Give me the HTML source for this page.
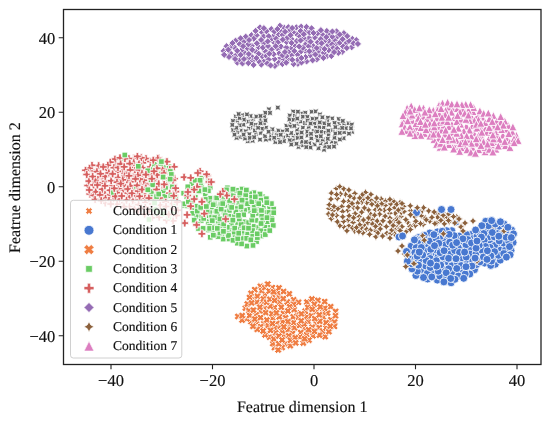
<!DOCTYPE html><html><head><meta charset="utf-8"><style>html,body{margin:0;padding:0;background:#fff}svg{display:block}text{font-family:"Liberation Serif", "Times New Roman", serif;fill:#111;stroke:#111;stroke-width:0.15px;text-rendering:geometricPrecision}</style></head><body>
<svg width="550" height="422" viewBox="0 0 550 422">
<rect width="550" height="422" fill="#fff"/>
<style>.b{fill:#4878D0}.o{fill:#EF7D42}.g{fill:#6ACC64}.r{fill:#D65F5F}.p{fill:#956CB4}.n{fill:#8C613C}.k{fill:#DC7EC0}.y{fill:#646464}.m path,.m circle{stroke:#fff;stroke-width:0.85px}</style>
<g class="m">
<path class="r" d="M144.7 154.7L147.3 154.7L147.3 157.3L149.9 157.3L149.9 159.9L147.3 159.9L147.3 162.5L144.7 162.5L144.7 159.9L142.1 159.9L142.1 157.3L144.7 157.3Z"/>
<path class="n" d="M371.3 196.4L372.7 199L375.3 200.4L372.7 201.8L371.3 204.4L369.9 201.8L367.3 200.4L369.9 199Z"/>
<path class="o" d="M266 304.7L268.1 306.8L266.5 308.4L268.1 310.1L266 312.1L264.4 310.5L262.8 312.1L260.7 310.1L262.3 308.4L260.7 306.8L262.8 304.7L264.4 306.4Z"/>
<circle class="b" cx="461.7" cy="243.2" r="4"/>
<path class="y" d="M314.6 108.9L313.7 111.8L314.6 114.6L311.7 113.8L308.9 114.6L309.7 111.8L308.9 108.9L311.7 109.8Z"/>
<path class="p" d="M232.9 52.3L236.5 55.9L232.9 59.5L229.3 55.9Z"/>
<path class="k" d="M482.1 112.9L486.1 120.9L478.1 120.9Z"/>
<path class="p" d="M328.1 41.5L331.7 45.1L328.1 48.7L324.5 45.1Z"/>
<path class="k" d="M439 101.1L443 109.1L435 109.1Z"/>
<path class="k" d="M477.6 111.3L481.6 119.3L473.6 119.3Z"/>
<circle class="b" cx="451.8" cy="230.7" r="4"/>
<path class="p" d="M274 38.7L277.6 42.3L274 45.9L270.4 42.3Z"/>
<path class="g" d="M265.3 224.4L271 224.4L271 230L265.3 230Z"/>
<path class="r" d="M100.5 174.6L103.1 174.6L103.1 177.2L105.7 177.2L105.7 179.8L103.1 179.8L103.1 182.4L100.5 182.4L100.5 179.8L97.9 179.8L97.9 177.2L100.5 177.2Z"/>
<path class="n" d="M386.9 229.2L388.3 231.8L390.9 233.2L388.3 234.6L386.9 237.2L385.5 234.6L382.9 233.2L385.5 231.8Z"/>
<path class="n" d="M348.8 221.9L350.2 224.5L352.8 225.9L350.2 227.3L348.8 229.9L347.4 227.3L344.8 225.9L347.4 224.5Z"/>
<path class="o" d="M317.9 320.2L320 322.3L318.4 323.9L320 325.5L317.9 327.6L316.3 326L314.7 327.6L312.6 325.5L314.2 323.9L312.6 322.3L314.7 320.2L316.3 321.8Z"/>
<path class="k" d="M438.8 123.3L442.8 131.3L434.8 131.3Z"/>
<path class="y" d="M251.7 125.6L250.9 128.4L251.7 131.3L248.9 130.4L246 131.3L246.9 128.4L246 125.6L248.9 126.4Z"/>
<path class="g" d="M198.8 182.4L204.5 182.4L204.5 188.1L198.8 188.1Z"/>
<path class="k" d="M452.5 103.9L456.5 111.9L448.5 111.9Z"/>
<path class="r" d="M171.8 216.9L174.4 216.9L174.4 219.5L177 219.5L177 222.1L174.4 222.1L174.4 224.7L171.8 224.7L171.8 222.1L169.2 222.1L169.2 219.5L171.8 219.5Z"/>
<path class="r" d="M164.9 157.9L167.5 157.9L167.5 160.5L170.1 160.5L170.1 163.1L167.5 163.1L167.5 165.7L164.9 165.7L164.9 163.1L162.3 163.1L162.3 160.5L164.9 160.5Z"/>
<path class="g" d="M240.7 232.2L246.4 232.2L246.4 237.8L240.7 237.8Z"/>
<path class="k" d="M478.5 115.6L482.5 123.6L474.5 123.6Z"/>
<path class="k" d="M493.4 111.6L497.4 119.6L489.4 119.6Z"/>
<path class="g" d="M255.2 210.6L260.8 210.6L260.8 216.2L255.2 216.2Z"/>
<path class="k" d="M479.9 106.8L483.9 114.8L475.9 114.8Z"/>
<path class="y" d="M286.3 134.6L285.5 137.5L286.3 140.3L283.5 139.5L280.7 140.3L281.5 137.5L280.7 134.6L283.5 135.5Z"/>
<path class="k" d="M497.2 131.7L501.2 139.7L493.2 139.7Z"/>
<path class="y" d="M304 110.7L303.2 113.5L304 116.4L301.2 115.5L298.3 116.4L299.2 113.5L298.3 110.7L301.2 111.5Z"/>
<path class="k" d="M483.7 109.3L487.7 117.3L479.7 117.3Z"/>
<path class="k" d="M438.6 134.3L442.6 142.3L434.6 142.3Z"/>
<path class="n" d="M375.4 205.8L376.8 208.4L379.4 209.8L376.8 211.2L375.4 213.8L374 211.2L371.4 209.8L374 208.4Z"/>
<path class="r" d="M141.6 158.9L144.2 158.9L144.2 161.5L146.8 161.5L146.8 164.1L144.2 164.1L144.2 166.7L141.6 166.7L141.6 164.1L139 164.1L139 161.5L141.6 161.5Z"/>
<path class="n" d="M407.7 218.4L409.1 221L411.7 222.4L409.1 223.8L407.7 226.4L406.3 223.8L403.7 222.4L406.3 221Z"/>
<path class="r" d="M121.9 185.8L124.5 185.8L124.5 188.4L127.1 188.4L127.1 191L124.5 191L124.5 193.6L121.9 193.6L121.9 191L119.3 191L119.3 188.4L121.9 188.4Z"/>
<path class="o" d="M255.3 295.2L257.4 297.3L255.8 298.9L257.4 300.6L255.3 302.6L253.7 301L252.1 302.6L250 300.6L251.6 298.9L250 297.3L252.1 295.2L253.7 296.9Z"/>
<path class="y" d="M335.6 127.2L334.8 130L335.6 132.9L332.8 132L330 132.9L330.8 130L330 127.2L332.8 128Z"/>
<path class="o" d="M305.9 324.8L308 326.9L306.4 328.5L308 330.1L305.9 332.2L304.3 330.6L302.7 332.2L300.6 330.1L302.2 328.5L300.6 326.9L302.7 324.8L304.3 326.4Z"/>
<path class="p" d="M313.2 47.4L316.8 51L313.2 54.6L309.6 51Z"/>
<path class="n" d="M400 198.6L401.4 201.2L404 202.6L401.4 204L400 206.6L398.6 204L396 202.6L398.6 201.2Z"/>
<path class="k" d="M466.4 121.9L470.4 129.9L462.4 129.9Z"/>
<circle class="b" cx="489.4" cy="241.4" r="4"/>
<path class="k" d="M417 128.2L421 136.2L413 136.2Z"/>
<path class="n" d="M366.9 198.7L368.4 201.3L370.9 202.7L368.4 204.1L366.9 206.7L365.5 204.1L362.9 202.7L365.5 201.3Z"/>
<path class="p" d="M263.7 39.8L267.3 43.4L263.7 47L260.1 43.4Z"/>
<path class="g" d="M266.8 204.9L272.4 204.9L272.4 210.6L266.8 210.6Z"/>
<circle class="b" cx="470.3" cy="259.5" r="4"/>
<path class="k" d="M437.5 106.1L441.5 114.1L433.5 114.1Z"/>
<path class="y" d="M286.8 138.2L285.9 141.1L286.8 143.9L283.9 143.1L281.1 143.9L281.9 141.1L281.1 138.2L283.9 139.1Z"/>
<path class="o" d="M286.1 340.1L288.2 342.2L286.6 343.8L288.2 345.4L286.1 347.5L284.5 345.9L282.9 347.5L280.8 345.4L282.4 343.8L280.8 342.2L282.9 340.1L284.5 341.7Z"/>
<path class="r" d="M134.3 191.8L136.9 191.8L136.9 194.4L139.5 194.4L139.5 197L136.9 197L136.9 199.6L134.3 199.6L134.3 197L131.7 197L131.7 194.4L134.3 194.4Z"/>
<path class="r" d="M147.6 175.1L150.2 175.1L150.2 177.7L152.8 177.7L152.8 180.3L150.2 180.3L150.2 182.9L147.6 182.9L147.6 180.3L145 180.3L145 177.7L147.6 177.7Z"/>
<circle class="b" cx="470.2" cy="248.9" r="4"/>
<circle class="b" cx="511" cy="250.6" r="4"/>
<path class="g" d="M224.7 228.8L230.4 228.8L230.4 234.5L224.7 234.5Z"/>
<path class="p" d="M265 47.3L268.6 50.9L265 54.5L261.4 50.9Z"/>
<path class="r" d="M149.3 157.6L151.9 157.6L151.9 160.2L154.5 160.2L154.5 162.8L151.9 162.8L151.9 165.4L149.3 165.4L149.3 162.8L146.7 162.8L146.7 160.2L149.3 160.2Z"/>
<circle class="b" cx="426.2" cy="239.2" r="4"/>
<path class="n" d="M348.4 197.4L349.8 200L352.4 201.4L349.8 202.8L348.4 205.4L347 202.8L344.4 201.4L347 200Z"/>
<path class="k" d="M441.5 126.3L445.5 134.3L437.5 134.3Z"/>
<path class="r" d="M164.8 193.5L167.4 193.5L167.4 196.1L170 196.1L170 198.7L167.4 198.7L167.4 201.3L164.8 201.3L164.8 198.7L162.2 198.7L162.2 196.1L164.8 196.1Z"/>
<path class="r" d="M161.2 185.1L163.8 185.1L163.8 187.7L166.4 187.7L166.4 190.3L163.8 190.3L163.8 192.9L161.2 192.9L161.2 190.3L158.6 190.3L158.6 187.7L161.2 187.7Z"/>
<path class="n" d="M442.7 208.8L444.1 211.4L446.7 212.8L444.1 214.2L442.7 216.8L441.3 214.2L438.7 212.8L441.3 211.4Z"/>
<circle class="b" cx="444.2" cy="261.8" r="4"/>
<path class="r" d="M149 163.1L151.6 163.1L151.6 165.7L154.2 165.7L154.2 168.3L151.6 168.3L151.6 170.9L149 170.9L149 168.3L146.4 168.3L146.4 165.7L149 165.7Z"/>
<path class="y" d="M266.9 121.2L266.1 124L266.9 126.9L264.1 126L261.2 126.9L262.1 124L261.2 121.2L264.1 122Z"/>
<path class="k" d="M516.4 131.2L520.4 139.2L512.4 139.2Z"/>
<path class="g" d="M168.3 202.5L173.9 202.5L173.9 208.1L168.3 208.1Z"/>
<path class="g" d="M234.7 220L240.4 220L240.4 225.7L234.7 225.7Z"/>
<path class="g" d="M162.7 169.6L168.4 169.6L168.4 175.3L162.7 175.3Z"/>
<path class="n" d="M402.6 206.9L404 209.5L406.6 210.9L404 212.3L402.6 214.9L401.2 212.3L398.6 210.9L401.2 209.5Z"/>
<path class="p" d="M297.6 51.1L301.2 54.7L297.6 58.3L294 54.7Z"/>
<path class="o" d="M266.6 291.3L268.7 293.4L267 295L268.7 296.6L266.6 298.7L265 297.1L263.3 298.7L261.3 296.6L262.9 295L261.3 293.4L263.3 291.3L265 292.9Z"/>
<path class="k" d="M471.9 113.2L475.9 121.2L467.9 121.2Z"/>
<path class="r" d="M136.8 206.5L139.4 206.5L139.4 209.1L142 209.1L142 211.7L139.4 211.7L139.4 214.3L136.8 214.3L136.8 211.7L134.2 211.7L134.2 209.1L136.8 209.1Z"/>
<path class="g" d="M167.6 183.5L173.2 183.5L173.2 189.1L167.6 189.1Z"/>
<path class="r" d="M128.2 202.7L130.8 202.7L130.8 205.3L133.4 205.3L133.4 207.9L130.8 207.9L130.8 210.5L128.2 210.5L128.2 207.9L125.6 207.9L125.6 205.3L128.2 205.3Z"/>
<path class="k" d="M472.4 121.6L476.4 129.6L468.4 129.6Z"/>
<path class="n" d="M371.9 200.3L373.4 202.8L375.9 204.3L373.4 205.7L371.9 208.3L370.5 205.7L367.9 204.3L370.5 202.8Z"/>
<path class="g" d="M251 189.9L256.7 189.9L256.7 195.5L251 195.5Z"/>
<path class="o" d="M324.8 313.3L326.9 315.4L325.3 317L326.9 318.6L324.8 320.7L323.2 319.1L321.6 320.7L319.5 318.6L321.1 317L319.5 315.4L321.6 313.3L323.2 314.9Z"/>
<circle class="b" cx="499.4" cy="245.6" r="4"/>
<path class="k" d="M417.1 123.3L421.1 131.3L413.1 131.3Z"/>
<circle class="b" cx="462.7" cy="248.4" r="4"/>
<path class="o" d="M278.4 319.7L280.5 321.8L278.9 323.4L280.5 325.1L278.4 327.1L276.8 325.5L275.2 327.1L273.1 325.1L274.7 323.4L273.1 321.8L275.2 319.7L276.8 321.4Z"/>
<path class="n" d="M361.8 198.2L363.2 200.8L365.8 202.2L363.2 203.6L361.8 206.2L360.4 203.6L357.8 202.2L360.4 200.8Z"/>
<path class="o" d="M302.4 328.8L304.4 330.9L302.8 332.5L304.4 334.2L302.4 336.2L300.7 334.6L299.1 336.2L297 334.2L298.7 332.5L297 330.9L299.1 328.8L300.7 330.5Z"/>
<path class="g" d="M212.6 220.6L218.2 220.6L218.2 226.2L212.6 226.2Z"/>
<path class="p" d="M346 39.7L349.6 43.3L346 46.9L342.4 43.3Z"/>
<path class="p" d="M263.2 57.3L266.8 60.9L263.2 64.5L259.6 60.9Z"/>
<path class="o" d="M262.1 282.6L264.2 284.7L262.6 286.3L264.2 287.9L262.1 290L260.5 288.4L258.9 290L256.8 287.9L258.4 286.3L256.8 284.7L258.9 282.6L260.5 284.2Z"/>
<path class="g" d="M174.1 204.3L179.8 204.3L179.8 210L174.1 210Z"/>
<path class="g" d="M262.4 209.2L268.1 209.2L268.1 214.8L262.4 214.8Z"/>
<path class="r" d="M172 205.1L174.6 205.1L174.6 207.7L177.2 207.7L177.2 210.3L174.6 210.3L174.6 212.9L172 212.9L172 210.3L169.4 210.3L169.4 207.7L172 207.7Z"/>
<circle class="b" cx="412.9" cy="258.1" r="4"/>
<path class="n" d="M353.7 203.5L355.1 206.1L357.7 207.5L355.1 208.9L353.7 211.5L352.3 208.9L349.7 207.5L352.3 206.1Z"/>
<path class="y" d="M317.3 120.6L316.5 123.4L317.3 126.2L314.5 125.4L311.7 126.2L312.5 123.4L311.7 120.6L314.5 121.4Z"/>
<path class="n" d="M394.1 217.1L395.6 219.6L398.1 221.1L395.6 222.5L394.1 225.1L392.7 222.5L390.1 221.1L392.7 219.6Z"/>
<path class="k" d="M506.6 125.1L510.6 133.1L502.6 133.1Z"/>
<path class="o" d="M291.6 322L293.7 324L292.1 325.7L293.7 327.3L291.6 329.4L290 327.7L288.4 329.4L286.3 327.3L287.9 325.7L286.3 324L288.4 322L290 323.6Z"/>
<path class="r" d="M161.6 160.8L164.2 160.8L164.2 163.4L166.8 163.4L166.8 166L164.2 166L164.2 168.6L161.6 168.6L161.6 166L159 166L159 163.4L161.6 163.4Z"/>
<path class="r" d="M111.6 196.5L114.2 196.5L114.2 199.1L116.8 199.1L116.8 201.7L114.2 201.7L114.2 204.3L111.6 204.3L111.6 201.7L109 201.7L109 199.1L111.6 199.1Z"/>
<path class="g" d="M259.8 194L265.5 194L265.5 199.7L259.8 199.7Z"/>
<path class="p" d="M230.3 49.5L233.9 53.1L230.3 56.7L226.7 53.1Z"/>
<path class="p" d="M262.1 28.7L265.7 32.3L262.1 35.9L258.5 32.3Z"/>
<path class="o" d="M276.1 343.9L278.2 345.9L276.6 347.6L278.2 349.2L276.1 351.3L274.5 349.6L272.9 351.3L270.8 349.2L272.4 347.6L270.8 345.9L272.9 343.9L274.5 345.5Z"/>
<path class="r" d="M133.3 200L135.9 200L135.9 202.6L138.5 202.6L138.5 205.2L135.9 205.2L135.9 207.8L133.3 207.8L133.3 205.2L130.7 205.2L130.7 202.6L133.3 202.6Z"/>
<path class="g" d="M270.8 206.2L276.5 206.2L276.5 211.8L270.8 211.8Z"/>
<path class="g" d="M193.5 213.7L199.2 213.7L199.2 219.3L193.5 219.3Z"/>
<circle class="b" cx="500.3" cy="250.2" r="4"/>
<path class="k" d="M423.5 104L427.5 112L419.5 112Z"/>
<path class="p" d="M280.8 27.5L284.4 31.1L280.8 34.7L277.2 31.1Z"/>
<path class="g" d="M172.9 194.1L178.6 194.1L178.6 199.8L172.9 199.8Z"/>
<path class="r" d="M132.5 170.9L135.1 170.9L135.1 173.5L137.7 173.5L137.7 176.1L135.1 176.1L135.1 178.7L132.5 178.7L132.5 176.1L129.9 176.1L129.9 173.5L132.5 173.5Z"/>
<path class="p" d="M305.9 27.2L309.5 30.8L305.9 34.4L302.3 30.8Z"/>
<path class="p" d="M305.5 47.6L309.1 51.2L305.5 54.8L301.9 51.2Z"/>
<path class="n" d="M346.9 226.8L348.3 229.4L350.9 230.8L348.3 232.2L346.9 234.8L345.5 232.2L342.9 230.8L345.5 229.4Z"/>
<circle class="b" cx="420.4" cy="274.3" r="4"/>
<path class="y" d="M243.5 127.8L242.7 130.6L243.5 133.5L240.7 132.6L237.9 133.5L238.7 130.6L237.9 127.8L240.7 128.6Z"/>
<circle class="b" cx="410.9" cy="251.1" r="4"/>
<circle class="b" cx="469.9" cy="254.2" r="4"/>
<path class="r" d="M140 179.5L142.6 179.5L142.6 182.1L145.2 182.1L145.2 184.7L142.6 184.7L142.6 187.3L140 187.3L140 184.7L137.4 184.7L137.4 182.1L140 182.1Z"/>
<path class="n" d="M400.8 212.6L402.2 215.2L404.8 216.6L402.2 218L400.8 220.6L399.4 218L396.8 216.6L399.4 215.2Z"/>
<path class="r" d="M147.4 207.3L150 207.3L150 209.9L152.6 209.9L152.6 212.5L150 212.5L150 215.1L147.4 215.1L147.4 212.5L144.8 212.5L144.8 209.9L147.4 209.9Z"/>
<path class="y" d="M255.6 124.6L254.8 127.5L255.6 130.3L252.8 129.5L249.9 130.3L250.8 127.5L249.9 124.6L252.8 125.5Z"/>
<path class="p" d="M258.5 43.5L262.1 47.1L258.5 50.7L254.9 47.1Z"/>
<path class="r" d="M156.3 172.9L158.9 172.9L158.9 175.5L161.5 175.5L161.5 178.1L158.9 178.1L158.9 180.7L156.3 180.7L156.3 178.1L153.7 178.1L153.7 175.5L156.3 175.5Z"/>
<circle class="b" cx="448.5" cy="262.9" r="4"/>
<path class="p" d="M279.7 54.9L283.3 58.5L279.7 62.1L276.1 58.5Z"/>
<path class="r" d="M157.2 153.9L159.8 153.9L159.8 156.5L162.4 156.5L162.4 159.1L159.8 159.1L159.8 161.7L157.2 161.7L157.2 159.1L154.6 159.1L154.6 156.5L157.2 156.5Z"/>
<path class="n" d="M380.1 221L381.5 223.6L384.1 225L381.5 226.4L380.1 229L378.6 226.4L376.1 225L378.6 223.6Z"/>
<path class="g" d="M226.6 213.4L232.3 213.4L232.3 219L226.6 219Z"/>
<path class="g" d="M246.9 190.9L252.5 190.9L252.5 196.6L246.9 196.6Z"/>
<path class="r" d="M174.5 187.7L177.1 187.7L177.1 190.3L179.7 190.3L179.7 192.9L177.1 192.9L177.1 195.5L174.5 195.5L174.5 192.9L171.9 192.9L171.9 190.3L174.5 190.3Z"/>
<circle class="b" cx="489.2" cy="236.8" r="4"/>
<path class="p" d="M255.7 47.9L259.3 51.5L255.7 55.1L252.1 51.5Z"/>
<path class="g" d="M236.3 195.1L241.9 195.1L241.9 200.8L236.3 200.8Z"/>
<path class="p" d="M278.4 45.9L282 49.5L278.4 53.1L274.8 49.5Z"/>
<path class="p" d="M283.9 56L287.5 59.6L283.9 63.2L280.3 59.6Z"/>
<path class="y" d="M342.1 121.1L341.3 123.9L342.1 126.7L339.3 125.9L336.4 126.7L337.3 123.9L336.4 121.1L339.3 121.9Z"/>
<path class="p" d="M288.3 55.8L291.9 59.4L288.3 63L284.7 59.4Z"/>
<circle class="b" cx="505.6" cy="249.5" r="4"/>
<path class="p" d="M235.6 37.1L239.2 40.7L235.6 44.3L232 40.7Z"/>
<path class="r" d="M157.2 186.2L159.8 186.2L159.8 188.8L162.4 188.8L162.4 191.4L159.8 191.4L159.8 194L157.2 194L157.2 191.4L154.6 191.4L154.6 188.8L157.2 188.8Z"/>
<path class="g" d="M218.7 199.9L224.3 199.9L224.3 205.5L218.7 205.5Z"/>
<path class="o" d="M308.5 298.4L310.6 300.5L309 302.1L310.6 303.7L308.5 305.8L306.9 304.2L305.3 305.8L303.2 303.7L304.8 302.1L303.2 300.5L305.3 298.4L306.9 300Z"/>
<path class="y" d="M271.8 106.5L270.9 109.3L271.8 112.2L268.9 111.3L266.1 112.2L266.9 109.3L266.1 106.5L268.9 107.3Z"/>
<path class="y" d="M293.4 120.1L292.5 123L293.4 125.8L290.5 125L287.7 125.8L288.5 123L287.7 120.1L290.5 121Z"/>
<path class="k" d="M512.5 128.2L516.5 136.2L508.5 136.2Z"/>
<path class="g" d="M242.7 196.1L248.4 196.1L248.4 201.7L242.7 201.7Z"/>
<circle class="b" cx="418.6" cy="237.6" r="4"/>
<path class="y" d="M258.9 131.2L258.1 134L258.9 136.9L256.1 136L253.3 136.9L254.1 134L253.3 131.2L256.1 132Z"/>
<path class="p" d="M271.7 35.1L275.3 38.7L271.7 42.3L268.1 38.7Z"/>
<path class="r" d="M132.7 183.9L135.3 183.9L135.3 186.5L137.9 186.5L137.9 189.1L135.3 189.1L135.3 191.7L132.7 191.7L132.7 189.1L130.1 189.1L130.1 186.5L132.7 186.5Z"/>
<circle class="b" cx="433.2" cy="255.2" r="4"/>
<path class="o" d="M332.5 316L334.6 318.1L332.9 319.7L334.6 321.3L332.5 323.4L330.9 321.8L329.2 323.4L327.2 321.3L328.8 319.7L327.2 318.1L329.2 316L330.9 317.6Z"/>
<path class="g" d="M210.5 211.3L216.2 211.3L216.2 217L210.5 217Z"/>
<path class="g" d="M242 219L247.7 219L247.7 224.7L242 224.7Z"/>
<path class="o" d="M265.3 319.8L267.4 321.9L265.8 323.5L267.4 325.1L265.3 327.2L263.7 325.6L262.1 327.2L260 325.1L261.6 323.5L260 321.9L262.1 319.8L263.7 321.4Z"/>
<path class="n" d="M359.1 212.7L360.6 215.3L363.1 216.7L360.6 218.1L359.1 220.7L357.7 218.1L355.1 216.7L357.7 215.3Z"/>
<path class="y" d="M296.3 133L295.4 135.9L296.3 138.7L293.4 137.9L290.6 138.7L291.4 135.9L290.6 133L293.4 133.9Z"/>
<path class="p" d="M314.7 33.8L318.3 37.4L314.7 41L311.1 37.4Z"/>
<path class="r" d="M120.8 167.2L123.4 167.2L123.4 169.8L126 169.8L126 172.4L123.4 172.4L123.4 175L120.8 175L120.8 172.4L118.2 172.4L118.2 169.8L120.8 169.8Z"/>
<path class="p" d="M296.8 30.6L300.4 34.2L296.8 37.8L293.2 34.2Z"/>
<path class="g" d="M202.7 188.6L208.3 188.6L208.3 194.2L202.7 194.2Z"/>
<path class="p" d="M260 23.8L263.6 27.4L260 31L256.4 27.4Z"/>
<path class="o" d="M276 303.9L278.1 306L276.5 307.6L278.1 309.3L276 311.3L274.4 309.7L272.8 311.3L270.7 309.3L272.3 307.6L270.7 306L272.8 303.9L274.4 305.6Z"/>
<circle class="b" cx="494.4" cy="236.9" r="4"/>
<path class="g" d="M189.2 205.3L194.9 205.3L194.9 210.9L189.2 210.9Z"/>
<path class="g" d="M234.5 240.4L240.2 240.4L240.2 246L234.5 246Z"/>
<path class="g" d="M232.1 232.8L237.8 232.8L237.8 238.5L232.1 238.5Z"/>
<path class="y" d="M250.6 138.4L249.8 141.2L250.6 144L247.8 143.2L244.9 144L245.8 141.2L244.9 138.4L247.8 139.2Z"/>
<path class="g" d="M154.5 182.8L160.1 182.8L160.1 188.5L154.5 188.5Z"/>
<path class="r" d="M156.3 159.2L158.9 159.2L158.9 161.8L161.5 161.8L161.5 164.4L158.9 164.4L158.9 167L156.3 167L156.3 164.4L153.7 164.4L153.7 161.8L156.3 161.8Z"/>
<path class="o" d="M263.3 287L265.4 289.1L263.8 290.7L265.4 292.3L263.3 294.4L261.7 292.8L260.1 294.4L258 292.3L259.6 290.7L258 289.1L260.1 287L261.7 288.6Z"/>
<path class="n" d="M421.7 212L423.1 214.6L425.7 216L423.1 217.4L421.7 220L420.3 217.4L417.7 216L420.3 214.6Z"/>
<path class="k" d="M508.4 121.5L512.4 129.5L504.4 129.5Z"/>
<path class="o" d="M296.1 324.2L298.2 326.3L296.6 327.9L298.2 329.5L296.1 331.6L294.5 330L292.9 331.6L290.8 329.5L292.4 327.9L290.8 326.3L292.9 324.2L294.5 325.8Z"/>
<path class="o" d="M295.2 318.6L297.3 320.7L295.7 322.3L297.3 324L295.2 326L293.6 324.4L292 326L289.9 324L291.5 322.3L289.9 320.7L292 318.6L293.6 320.3Z"/>
<path class="p" d="M252.5 57.4L256.1 61L252.5 64.6L248.9 61Z"/>
<path class="y" d="M347 129.2L346.1 132.1L347 134.9L344.1 134.1L341.3 134.9L342.1 132.1L341.3 129.2L344.1 130.1Z"/>
<path class="n" d="M443.4 213.9L444.8 216.5L447.4 217.9L444.8 219.3L443.4 221.9L442 219.3L439.4 217.9L442 216.5Z"/>
<path class="p" d="M261.3 61L264.9 64.6L261.3 68.2L257.7 64.6Z"/>
<path class="k" d="M512.9 122.8L516.9 130.8L508.9 130.8Z"/>
<path class="k" d="M473 107.5L477 115.5L469 115.5Z"/>
<path class="g" d="M211.4 200.4L217.1 200.4L217.1 206L211.4 206Z"/>
<path class="n" d="M347.8 206.4L349.2 209L351.8 210.4L349.2 211.8L347.8 214.4L346.3 211.8L343.8 210.4L346.3 209Z"/>
<path class="g" d="M231.6 213.6L237.3 213.6L237.3 219.2L231.6 219.2Z"/>
<path class="r" d="M157.2 189.6L159.8 189.6L159.8 192.2L162.4 192.2L162.4 194.8L159.8 194.8L159.8 197.4L157.2 197.4L157.2 194.8L154.6 194.8L154.6 192.2L157.2 192.2Z"/>
<path class="p" d="M279.1 49.9L282.7 53.5L279.1 57.1L275.5 53.5Z"/>
<path class="g" d="M228.5 221.2L234.2 221.2L234.2 226.9L228.5 226.9Z"/>
<path class="p" d="M284.2 24.1L287.8 27.7L284.2 31.3L280.6 27.7Z"/>
<path class="o" d="M289.3 326.1L291.4 328.2L289.8 329.8L291.4 331.4L289.3 333.5L287.7 331.9L286.1 333.5L284 331.4L285.6 329.8L284 328.2L286.1 326.1L287.7 327.7Z"/>
<path class="p" d="M243.9 38.2L247.5 41.8L243.9 45.4L240.3 41.8Z"/>
<circle class="b" cx="441.9" cy="247.1" r="4"/>
<path class="k" d="M451.9 120.2L455.9 128.2L447.9 128.2Z"/>
<path class="g" d="M258.4 233.1L264 233.1L264 238.8L258.4 238.8Z"/>
<path class="n" d="M414.1 220.9L415.5 223.5L418.1 224.9L415.5 226.3L414.1 228.9L412.7 226.3L410.1 224.9L412.7 223.5Z"/>
<path class="y" d="M239.9 129.2L239.1 132L239.9 134.9L237.1 134L234.2 134.9L235.1 132L234.2 129.2L237.1 130Z"/>
<path class="g" d="M164.2 164.4L169.9 164.4L169.9 170.1L164.2 170.1Z"/>
<path class="k" d="M482.2 133.5L486.2 141.5L478.2 141.5Z"/>
<path class="g" d="M244.7 231.2L250.4 231.2L250.4 236.9L244.7 236.9Z"/>
<path class="k" d="M468.6 135.4L472.6 143.4L464.6 143.4Z"/>
<path class="o" d="M274.2 314.4L276.3 316.5L274.7 318.1L276.3 319.7L274.2 321.8L272.6 320.2L271 321.8L268.9 319.7L270.5 318.1L268.9 316.5L271 314.4L272.6 316Z"/>
<path class="p" d="M236.6 51.1L240.2 54.7L236.6 58.3L233 54.7Z"/>
<path class="g" d="M218.7 231L224.3 231L224.3 236.6L218.7 236.6Z"/>
<circle class="b" cx="415.9" cy="275.5" r="4"/>
<path class="o" d="M336.2 318.3L338.3 320.4L336.6 322L338.3 323.6L336.2 325.7L334.6 324.1L332.9 325.7L330.9 323.6L332.5 322L330.9 320.4L332.9 318.3L334.6 319.9Z"/>
<path class="g" d="M249.9 232.6L255.5 232.6L255.5 238.2L249.9 238.2Z"/>
<path class="k" d="M464.8 141.8L468.8 149.8L460.8 149.8Z"/>
<circle class="b" cx="474.5" cy="269.7" r="4"/>
<path class="k" d="M443.9 120.9L447.9 128.9L439.9 128.9Z"/>
<path class="y" d="M296.1 108.8L295.2 111.6L296.1 114.4L293.2 113.6L290.4 114.4L291.2 111.6L290.4 108.8L293.2 109.6Z"/>
<path class="p" d="M252.1 53.5L255.7 57.1L252.1 60.7L248.5 57.1Z"/>
<path class="r" d="M156.7 206L159.3 206L159.3 208.6L161.9 208.6L161.9 211.2L159.3 211.2L159.3 213.8L156.7 213.8L156.7 211.2L154.1 211.2L154.1 208.6L156.7 208.6Z"/>
<path class="y" d="M335 115.6L334.1 118.4L335 121.2L332.1 120.4L329.3 121.2L330.1 118.4L329.3 115.6L332.1 116.4Z"/>
<path class="g" d="M213.4 203.7L219.1 203.7L219.1 209.3L213.4 209.3Z"/>
<path class="n" d="M348.8 202.4L350.2 205L352.8 206.4L350.2 207.8L348.8 210.4L347.4 207.8L344.8 206.4L347.4 205Z"/>
<path class="r" d="M141.6 189.9L144.2 189.9L144.2 192.5L146.8 192.5L146.8 195.1L144.2 195.1L144.2 197.7L141.6 197.7L141.6 195.1L139 195.1L139 192.5L141.6 192.5Z"/>
<path class="p" d="M306.6 37.5L310.2 41.1L306.6 44.7L303 41.1Z"/>
<path class="n" d="M385.5 197L386.9 199.6L389.5 201L386.9 202.4L385.5 205L384.1 202.4L381.5 201L384.1 199.6Z"/>
<path class="r" d="M103.8 190.1L106.4 190.1L106.4 192.7L109 192.7L109 195.3L106.4 195.3L106.4 197.9L103.8 197.9L103.8 195.3L101.2 195.3L101.2 192.7L103.8 192.7Z"/>
<path class="r" d="M100.6 179.2L103.2 179.2L103.2 181.8L105.8 181.8L105.8 184.4L103.2 184.4L103.2 187L100.6 187L100.6 184.4L98 184.4L98 181.8L100.6 181.8Z"/>
<circle class="b" cx="456" cy="222" r="4"/>
<path class="n" d="M476.6 258.4L478 261L480.6 262.4L478 263.8L476.6 266.4L475.2 263.8L472.6 262.4L475.2 261Z"/>
<path class="k" d="M454 113.6L458 121.6L450 121.6Z"/>
<path class="y" d="M296.4 137.5L295.5 140.4L296.4 143.2L293.5 142.4L290.7 143.2L291.5 140.4L290.7 137.5L293.5 138.4Z"/>
<path class="k" d="M502.9 131.1L506.9 139.1L498.9 139.1Z"/>
<circle class="b" cx="498.1" cy="231.2" r="4"/>
<path class="g" d="M261.5 227.1L267.2 227.1L267.2 232.8L261.5 232.8Z"/>
<path class="o" d="M256.4 286L258.4 288.1L256.8 289.7L258.4 291.3L256.4 293.4L254.7 291.8L253.1 293.4L251 291.3L252.7 289.7L251 288.1L253.1 286L254.7 287.6Z"/>
<circle class="b" cx="465.1" cy="261.1" r="4"/>
<path class="k" d="M501.2 139.1L505.2 147.1L497.2 147.1Z"/>
<path class="p" d="M262.2 52.6L265.8 56.2L262.2 59.8L258.6 56.2Z"/>
<path class="g" d="M152.4 213.5L158.1 213.5L158.1 219.2L152.4 219.2Z"/>
<path class="y" d="M243.2 134.1L242.3 136.9L243.2 139.7L240.3 138.9L237.5 139.7L238.3 136.9L237.5 134.1L240.3 134.9Z"/>
<path class="p" d="M329.3 37.7L332.9 41.3L329.3 44.9L325.7 41.3Z"/>
<path class="p" d="M297.9 60.2L301.5 63.8L297.9 67.4L294.3 63.8Z"/>
<path class="y" d="M297.6 112.9L296.8 115.7L297.6 118.5L294.8 117.7L292 118.5L292.8 115.7L292 112.9L294.8 113.7Z"/>
<path class="r" d="M129.6 177.8L132.2 177.8L132.2 180.4L134.8 180.4L134.8 183L132.2 183L132.2 185.6L129.6 185.6L129.6 183L127 183L127 180.4L129.6 180.4Z"/>
<path class="y" d="M326.8 146.9L326 149.7L326.8 152.5L324 151.7L321.2 152.5L322 149.7L321.2 146.9L324 147.7Z"/>
<path class="n" d="M364 220.8L365.4 223.4L368 224.8L365.4 226.3L364 228.8L362.6 226.3L360 224.8L362.6 223.4Z"/>
<path class="g" d="M205.5 177.8L211.1 177.8L211.1 183.5L205.5 183.5Z"/>
<path class="o" d="M280.5 323.9L282.6 326L281 327.6L282.6 329.2L280.5 331.3L278.9 329.7L277.3 331.3L275.2 329.2L276.8 327.6L275.2 326L277.3 323.9L278.9 325.5Z"/>
<path class="n" d="M395.7 225.7L397.1 228.3L399.7 229.7L397.1 231.1L395.7 233.7L394.3 231.1L391.7 229.7L394.3 228.3Z"/>
<path class="n" d="M372.2 215.7L373.6 218.3L376.2 219.7L373.6 221.1L372.2 223.7L370.8 221.1L368.2 219.7L370.8 218.3Z"/>
<circle class="b" cx="452.1" cy="273.6" r="4"/>
<path class="k" d="M431 114.6L435 122.6L427 122.6Z"/>
<path class="y" d="M256 116L255.1 118.9L256 121.7L253.1 120.9L250.3 121.7L251.1 118.9L250.3 116L253.1 116.9Z"/>
<path class="n" d="M329 204.6L330.4 207.2L333 208.6L330.4 210L329 212.6L327.6 210L325 208.6L327.6 207.2Z"/>
<path class="o" d="M258.2 320.1L260.3 322.2L258.6 323.8L260.3 325.4L258.2 327.5L256.6 325.9L254.9 327.5L252.9 325.4L254.5 323.8L252.9 322.2L254.9 320.1L256.6 321.7Z"/>
<path class="y" d="M289.3 122.9L288.4 125.8L289.3 128.6L286.4 127.8L283.6 128.6L284.4 125.8L283.6 122.9L286.4 123.8Z"/>
<path class="n" d="M423.2 220.4L424.6 223L427.2 224.4L424.6 225.8L423.2 228.4L421.8 225.8L419.2 224.4L421.8 223Z"/>
<path class="n" d="M361.8 224.3L363.2 226.9L365.8 228.3L363.2 229.7L361.8 232.3L360.4 229.7L357.8 228.3L360.4 226.9Z"/>
<circle class="b" cx="425.6" cy="246.5" r="4"/>
<path class="o" d="M309.9 317.9L311.9 320L310.3 321.6L311.9 323.3L309.9 325.3L308.2 323.7L306.6 325.3L304.5 323.3L306.2 321.6L304.5 320L306.6 317.9L308.2 319.6Z"/>
<path class="g" d="M208.3 208.1L214 208.1L214 213.7L208.3 213.7Z"/>
<path class="y" d="M246.3 121.8L245.5 124.7L246.3 127.5L243.5 126.7L240.6 127.5L241.5 124.7L240.6 121.8L243.5 122.7Z"/>
<path class="p" d="M244.6 49.3L248.2 52.9L244.6 56.5L241 52.9Z"/>
<path class="n" d="M359.5 216.6L360.9 219.2L363.5 220.6L360.9 222L359.5 224.6L358.1 222L355.5 220.6L358.1 219.2Z"/>
<path class="o" d="M308.3 330.9L310.4 333L308.8 334.6L310.4 336.2L308.3 338.3L306.7 336.7L305.1 338.3L303 336.2L304.6 334.6L303 333L305.1 330.9L306.7 332.5Z"/>
<path class="k" d="M493.5 122.1L497.5 130.1L489.5 130.1Z"/>
<path class="k" d="M413.3 125.9L417.3 133.9L409.3 133.9Z"/>
<path class="y" d="M351.2 120.5L350.4 123.3L351.2 126.1L348.4 125.3L345.6 126.1L346.4 123.3L345.6 120.5L348.4 121.3Z"/>
<path class="y" d="M323.7 140.8L322.9 143.6L323.7 146.4L320.9 145.6L318 146.4L318.9 143.6L318 140.8L320.9 141.6Z"/>
<path class="g" d="M166.2 164L171.8 164L171.8 169.6L166.2 169.6Z"/>
<path class="g" d="M224.2 217L229.9 217L229.9 222.7L224.2 222.7Z"/>
<path class="k" d="M473.7 103.4L477.7 111.4L469.7 111.4Z"/>
<path class="g" d="M215 211.9L220.6 211.9L220.6 217.6L215 217.6Z"/>
<path class="n" d="M442.3 246.6L443.7 249.2L446.3 250.6L443.7 252L442.3 254.6L440.9 252L438.3 250.6L440.9 249.2Z"/>
<path class="p" d="M274.2 31.8L277.8 35.4L274.2 39L270.6 35.4Z"/>
<path class="n" d="M441.2 231.8L442.6 234.4L445.2 235.8L442.6 237.2L441.2 239.8L439.8 237.2L437.2 235.8L439.8 234.4Z"/>
<path class="o" d="M285.2 332.1L287.3 334.2L285.7 335.8L287.3 337.4L285.2 339.5L283.6 337.9L282 339.5L279.9 337.4L281.5 335.8L279.9 334.2L282 332.1L283.6 333.7Z"/>
<path class="k" d="M442.5 99L446.5 107L438.5 107Z"/>
<path class="p" d="M306.6 57.8L310.2 61.4L306.6 65L303 61.4Z"/>
<path class="r" d="M97.3 161.7L99.9 161.7L99.9 164.3L102.5 164.3L102.5 166.9L99.9 166.9L99.9 169.5L97.3 169.5L97.3 166.9L94.7 166.9L94.7 164.3L97.3 164.3Z"/>
<path class="p" d="M336.6 33.7L340.2 37.3L336.6 40.9L333 37.3Z"/>
<path class="y" d="M239.4 135L238.6 137.8L239.4 140.7L236.6 139.8L233.7 140.7L234.6 137.8L233.7 135L236.6 135.8Z"/>
<path class="g" d="M207.4 234.5L213 234.5L213 240.1L207.4 240.1Z"/>
<path class="o" d="M308.4 312.8L310.5 314.9L308.9 316.5L310.5 318.1L308.4 320.2L306.8 318.6L305.2 320.2L303.1 318.1L304.7 316.5L303.1 314.9L305.2 312.8L306.8 314.4Z"/>
<path class="k" d="M496.3 137.8L500.3 145.8L492.3 145.8Z"/>
<path class="g" d="M254.5 224.6L260.2 224.6L260.2 230.2L254.5 230.2Z"/>
<path class="p" d="M229 53.3L232.6 56.9L229 60.5L225.4 56.9Z"/>
<path class="k" d="M457.2 142.2L461.2 150.2L453.2 150.2Z"/>
<path class="g" d="M180.8 190.4L186.4 190.4L186.4 196L180.8 196Z"/>
<path class="k" d="M473.9 128.8L477.9 136.8L469.9 136.8Z"/>
<path class="o" d="M336.1 322.7L338.2 324.7L336.6 326.4L338.2 328L336.1 330.1L334.5 328.4L332.9 330.1L330.8 328L332.4 326.4L330.8 324.7L332.9 322.7L334.5 324.3Z"/>
<path class="g" d="M197.9 188.6L203.5 188.6L203.5 194.2L197.9 194.2Z"/>
<path class="r" d="M123.1 181L125.7 181L125.7 183.6L128.3 183.6L128.3 186.2L125.7 186.2L125.7 188.8L123.1 188.8L123.1 186.2L120.5 186.2L120.5 183.6L123.1 183.6Z"/>
<path class="r" d="M91.5 166.7L94.1 166.7L94.1 169.3L96.7 169.3L96.7 171.9L94.1 171.9L94.1 174.5L91.5 174.5L91.5 171.9L88.9 171.9L88.9 169.3L91.5 169.3Z"/>
<path class="p" d="M291.5 51.7L295.1 55.3L291.5 58.9L287.9 55.3Z"/>
<path class="g" d="M244 243.2L249.7 243.2L249.7 248.9L244 248.9Z"/>
<path class="y" d="M318.7 124.8L317.8 127.6L318.7 130.5L315.8 129.6L313 130.5L313.8 127.6L313 124.8L315.8 125.6Z"/>
<path class="n" d="M459.3 214.5L460.7 217.1L463.3 218.5L460.7 219.9L459.3 222.5L457.9 219.9L455.3 218.5L457.9 217.1Z"/>
<path class="n" d="M393.7 197.3L395.1 199.9L397.7 201.3L395.1 202.7L393.7 205.3L392.3 202.7L389.7 201.3L392.3 199.9Z"/>
<circle class="b" cx="446.6" cy="230.7" r="4"/>
<path class="g" d="M158.4 198.1L164 198.1L164 203.7L158.4 203.7Z"/>
<path class="y" d="M301.5 144.1L300.6 146.9L301.5 149.7L298.6 148.9L295.8 149.7L296.6 146.9L295.8 144.1L298.6 144.9Z"/>
<path class="p" d="M274.5 55.5L278.1 59.1L274.5 62.7L270.9 59.1Z"/>
<path class="g" d="M233.1 201.6L238.8 201.6L238.8 207.3L233.1 207.3Z"/>
<path class="y" d="M258.3 122.1L257.5 124.9L258.3 127.8L255.5 126.9L252.6 127.8L253.5 124.9L252.6 122.1L255.5 122.9Z"/>
<path class="p" d="M262.8 44L266.4 47.6L262.8 51.2L259.2 47.6Z"/>
<path class="o" d="M285 309.7L287.1 311.8L285.5 313.4L287.1 315L285 317.1L283.4 315.5L281.8 317.1L279.7 315L281.3 313.4L279.7 311.8L281.8 309.7L283.4 311.3Z"/>
<path class="r" d="M154.5 210.8L157.1 210.8L157.1 213.4L159.7 213.4L159.7 216L157.1 216L157.1 218.6L154.5 218.6L154.5 216L151.9 216L151.9 213.4L154.5 213.4Z"/>
<path class="o" d="M271.8 302.5L273.9 304.6L272.3 306.2L273.9 307.8L271.8 309.9L270.2 308.3L268.6 309.9L266.5 307.8L268.1 306.2L266.5 304.6L268.6 302.5L270.2 304.1Z"/>
<path class="k" d="M499.5 135.4L503.5 143.4L495.5 143.4Z"/>
<path class="r" d="M132.6 154.3L135.2 154.3L135.2 156.9L137.8 156.9L137.8 159.5L135.2 159.5L135.2 162.1L132.6 162.1L132.6 159.5L130 159.5L130 156.9L132.6 156.9Z"/>
<path class="k" d="M412.3 116.4L416.3 124.4L408.3 124.4Z"/>
<path class="k" d="M485.1 147.7L489.1 155.7L481.1 155.7Z"/>
<path class="k" d="M448.4 102.9L452.4 110.9L444.4 110.9Z"/>
<path class="y" d="M300.4 131.4L299.6 134.2L300.4 137.1L297.6 136.2L294.7 137.1L295.6 134.2L294.7 131.4L297.6 132.2Z"/>
<path class="y" d="M346.9 121.8L346.1 124.6L346.9 127.4L344.1 126.6L341.2 127.4L342.1 124.6L341.2 121.8L344.1 122.6Z"/>
<path class="r" d="M165.2 216.3L167.8 216.3L167.8 218.9L170.4 218.9L170.4 221.5L167.8 221.5L167.8 224.1L165.2 224.1L165.2 221.5L162.6 221.5L162.6 218.9L165.2 218.9Z"/>
<path class="g" d="M223.5 195.9L229.1 195.9L229.1 201.6L223.5 201.6Z"/>
<circle class="b" cx="427.6" cy="279" r="4"/>
<path class="o" d="M314.6 332L316.7 334.1L315.1 335.7L316.7 337.4L314.6 339.4L313 337.8L311.4 339.4L309.3 337.4L310.9 335.7L309.3 334.1L311.4 332L313 333.7Z"/>
<path class="g" d="M266.2 209.6L271.8 209.6L271.8 215.2L266.2 215.2Z"/>
<path class="g" d="M213 195.5L218.7 195.5L218.7 201.2L213 201.2Z"/>
<path class="y" d="M305.9 142.3L305.1 145.2L305.9 148L303.1 147.2L300.2 148L301.1 145.2L300.2 142.3L303.1 143.2Z"/>
<path class="p" d="M223.6 47.3L227.2 50.9L223.6 54.5L220 50.9Z"/>
<circle class="b" cx="445.8" cy="237.5" r="4"/>
<circle class="b" cx="428.6" cy="254.4" r="4"/>
<path class="y" d="M300.2 120.9L299.3 123.7L300.2 126.5L297.3 125.7L294.5 126.5L295.3 123.7L294.5 120.9L297.3 121.7Z"/>
<path class="g" d="M226.6 207.6L232.2 207.6L232.2 213.2L226.6 213.2Z"/>
<path class="n" d="M328.5 210L329.9 212.6L332.5 214L329.9 215.4L328.5 218L327.1 215.4L324.5 214L327.1 212.6Z"/>
<path class="n" d="M439.9 208.7L441.3 211.3L443.9 212.7L441.3 214.1L439.9 216.7L438.5 214.1L435.9 212.7L438.5 211.3Z"/>
<path class="p" d="M329.1 30.7L332.7 34.3L329.1 37.9L325.5 34.3Z"/>
<path class="g" d="M192.5 194.4L198.1 194.4L198.1 200.1L192.5 200.1Z"/>
<path class="k" d="M424.6 129.3L428.6 137.3L420.6 137.3Z"/>
<path class="y" d="M328 143.3L327.2 146.1L328 149L325.2 148.1L322.4 149L323.2 146.1L322.4 143.3L325.2 144.1Z"/>
<path class="k" d="M461.2 143.6L465.2 151.6L457.2 151.6Z"/>
<path class="p" d="M234.3 43.7L237.9 47.3L234.3 50.9L230.7 47.3Z"/>
<path class="r" d="M131.1 162.6L133.7 162.6L133.7 165.2L136.3 165.2L136.3 167.8L133.7 167.8L133.7 170.4L131.1 170.4L131.1 167.8L128.5 167.8L128.5 165.2L131.1 165.2Z"/>
<path class="g" d="M156.9 170.9L162.6 170.9L162.6 176.5L156.9 176.5Z"/>
<circle class="b" cx="408.1" cy="256" r="4"/>
<path class="o" d="M287.2 314.1L289.3 316.2L287.7 317.8L289.3 319.4L287.2 321.5L285.6 319.9L284 321.5L281.9 319.4L283.5 317.8L281.9 316.2L284 314.1L285.6 315.7Z"/>
<path class="y" d="M316.3 128.2L315.5 131L316.3 133.9L313.5 133L310.6 133.9L311.5 131L310.6 128.2L313.5 129Z"/>
<path class="y" d="M263.6 130.1L262.8 132.9L263.6 135.7L260.8 134.9L258 135.7L258.8 132.9L258 130.1L260.8 130.9Z"/>
<path class="y" d="M268.8 124.9L268 127.7L268.8 130.5L266 129.7L263.2 130.5L264 127.7L263.2 124.9L266 125.7Z"/>
<path class="p" d="M258.7 50.2L262.3 53.8L258.7 57.4L255.1 53.8Z"/>
<path class="g" d="M219.7 233.7L225.3 233.7L225.3 239.4L219.7 239.4Z"/>
<path class="r" d="M105.5 165.6L108.1 165.6L108.1 168.2L110.7 168.2L110.7 170.8L108.1 170.8L108.1 173.4L105.5 173.4L105.5 170.8L102.9 170.8L102.9 168.2L105.5 168.2Z"/>
<path class="g" d="M202.6 192.1L208.2 192.1L208.2 197.7L202.6 197.7Z"/>
<path class="y" d="M312.2 140.4L311.3 143.2L312.2 146L309.3 145.2L306.5 146L307.3 143.2L306.5 140.4L309.3 141.2Z"/>
<circle class="b" cx="503.6" cy="243" r="4"/>
<circle class="b" cx="469.8" cy="274" r="4"/>
<path class="y" d="M272.3 136.1L271.5 138.9L272.3 141.7L269.5 140.9L266.7 141.7L267.5 138.9L266.7 136.1L269.5 136.9Z"/>
<path class="g" d="M147.1 198.5L152.8 198.5L152.8 204.1L147.1 204.1Z"/>
<path class="p" d="M263.6 32.9L267.2 36.5L263.6 40.1L260 36.5Z"/>
<path class="p" d="M251.4 31.6L255 35.2L251.4 38.8L247.8 35.2Z"/>
<path class="n" d="M370.7 210.3L372.1 212.9L374.7 214.3L372.1 215.7L370.7 218.3L369.3 215.7L366.7 214.3L369.3 212.9Z"/>
<path class="p" d="M224.2 51.2L227.8 54.8L224.2 58.4L220.6 54.8Z"/>
<path class="r" d="M116.4 167.5L119 167.5L119 170.1L121.6 170.1L121.6 172.7L119 172.7L119 175.3L116.4 175.3L116.4 172.7L113.8 172.7L113.8 170.1L116.4 170.1Z"/>
<path class="g" d="M160.5 189.2L166.1 189.2L166.1 194.8L160.5 194.8Z"/>
<path class="n" d="M363.5 194.5L365 197.1L367.5 198.5L365 199.9L363.5 202.5L362.1 199.9L359.5 198.5L362.1 197.1Z"/>
<circle class="b" cx="433.8" cy="272.6" r="4"/>
<path class="y" d="M329.1 139.7L328.2 142.6L329.1 145.4L326.2 144.6L323.4 145.4L324.2 142.6L323.4 139.7L326.2 140.6Z"/>
<path class="p" d="M293.6 60.5L297.2 64.1L293.6 67.7L290 64.1Z"/>
<path class="k" d="M493.1 142.2L497.1 150.2L489.1 150.2Z"/>
<path class="g" d="M207.3 184.5L213 184.5L213 190.1L207.3 190.1Z"/>
<path class="n" d="M376.4 197.9L377.8 200.5L380.4 201.9L377.8 203.3L376.4 205.9L375 203.3L372.4 201.9L375 200.5Z"/>
<path class="k" d="M434 135.4L438 143.4L430 143.4Z"/>
<path class="k" d="M506.3 133.7L510.3 141.7L502.3 141.7Z"/>
<path class="k" d="M481.3 123.9L485.3 131.9L477.3 131.9Z"/>
<path class="g" d="M205.4 219.8L211.1 219.8L211.1 225.4L205.4 225.4Z"/>
<path class="n" d="M394.6 229.9L396 232.5L398.6 233.9L396 235.4L394.6 237.9L393.2 235.4L390.6 233.9L393.2 232.5Z"/>
<path class="o" d="M276.1 324.2L278.2 326.3L276.6 327.9L278.2 329.5L276.1 331.6L274.5 330L272.9 331.6L270.8 329.5L272.4 327.9L270.8 326.3L272.9 324.2L274.5 325.8Z"/>
<path class="k" d="M444.8 139L448.8 147L440.8 147Z"/>
<path class="r" d="M152.4 182L155 182L155 184.6L157.6 184.6L157.6 187.2L155 187.2L155 189.8L152.4 189.8L152.4 187.2L149.8 187.2L149.8 184.6L152.4 184.6Z"/>
<path class="r" d="M150.7 189.6L153.3 189.6L153.3 192.2L155.9 192.2L155.9 194.8L153.3 194.8L153.3 197.4L150.7 197.4L150.7 194.8L148.1 194.8L148.1 192.2L150.7 192.2Z"/>
<path class="n" d="M331.3 214.7L332.8 217.3L335.3 218.7L332.8 220.1L331.3 222.7L329.9 220.1L327.3 218.7L329.9 217.3Z"/>
<path class="n" d="M429.8 217.1L431.3 219.7L433.8 221.1L431.3 222.5L429.8 225.1L428.4 222.5L425.8 221.1L428.4 219.7Z"/>
<path class="n" d="M341.9 202.5L343.3 205.1L345.9 206.5L343.3 208L341.9 210.5L340.5 208L337.9 206.5L340.5 205.1Z"/>
<path class="y" d="M322.5 124.5L321.6 127.3L322.5 130.1L319.6 129.3L316.8 130.1L317.6 127.3L316.8 124.5L319.6 125.3Z"/>
<path class="k" d="M440.1 143.2L444.1 151.2L436.1 151.2Z"/>
<path class="r" d="M121.5 198.9L124.1 198.9L124.1 201.5L126.7 201.5L126.7 204.1L124.1 204.1L124.1 206.7L121.5 206.7L121.5 204.1L118.9 204.1L118.9 201.5L121.5 201.5Z"/>
<path class="o" d="M320.8 324L322.9 326.1L321.3 327.7L322.9 329.3L320.8 331.4L319.2 329.8L317.6 331.4L315.5 329.3L317.1 327.7L315.5 326.1L317.6 324L319.2 325.6Z"/>
<path class="r" d="M131.4 196.5L134 196.5L134 199.1L136.6 199.1L136.6 201.7L134 201.7L134 204.3L131.4 204.3L131.4 201.7L128.8 201.7L128.8 199.1L131.4 199.1Z"/>
<path class="g" d="M260.4 204L266 204L266 209.7L260.4 209.7Z"/>
<path class="g" d="M154.2 213.2L159.8 213.2L159.8 218.8L154.2 218.8Z"/>
<path class="g" d="M239.1 235.7L244.8 235.7L244.8 241.4L239.1 241.4Z"/>
<path class="k" d="M485.4 124.5L489.4 132.5L481.4 132.5Z"/>
<path class="p" d="M301.1 47.7L304.7 51.3L301.1 54.9L297.5 51.3Z"/>
<path class="p" d="M289 47.6L292.6 51.2L289 54.8L285.4 51.2Z"/>
<path class="y" d="M334.7 138.9L333.9 141.7L334.7 144.6L331.9 143.7L329.1 144.6L329.9 141.7L329.1 138.9L331.9 139.7Z"/>
<path class="k" d="M423.2 112.1L427.2 120.1L419.2 120.1Z"/>
<path class="o" d="M275 292.5L277.1 294.5L275.5 296.2L277.1 297.8L275 299.9L273.4 298.2L271.8 299.9L269.7 297.8L271.3 296.2L269.7 294.5L271.8 292.5L273.4 294.1Z"/>
<path class="y" d="M276.8 130L276 132.8L276.8 135.6L274 134.8L271.2 135.6L272 132.8L271.2 130L274 130.8Z"/>
<path class="y" d="M238.6 113.7L237.8 116.6L238.6 119.4L235.8 118.6L233 119.4L233.8 116.6L233 113.7L235.8 114.6Z"/>
<path class="p" d="M334.7 37L338.3 40.6L334.7 44.2L331.1 40.6Z"/>
<path class="g" d="M227.7 189.7L233.3 189.7L233.3 195.4L227.7 195.4Z"/>
<path class="r" d="M108.4 190.8L111 190.8L111 193.4L113.6 193.4L113.6 196L111 196L111 198.6L108.4 198.6L108.4 196L105.8 196L105.8 193.4L108.4 193.4Z"/>
<path class="g" d="M220.4 236.3L226 236.3L226 241.9L220.4 241.9Z"/>
<path class="p" d="M268.1 42.5L271.7 46.1L268.1 49.7L264.5 46.1Z"/>
<path class="p" d="M324.8 37.1L328.4 40.7L324.8 44.3L321.2 40.7Z"/>
<path class="p" d="M297.8 56.2L301.4 59.8L297.8 63.4L294.2 59.8Z"/>
<path class="o" d="M239.5 312.8L241.6 314.9L240 316.5L241.6 318.1L239.5 320.2L237.9 318.6L236.3 320.2L234.2 318.1L235.8 316.5L234.2 314.9L236.3 312.8L237.9 314.4Z"/>
<path class="p" d="M230.5 42.8L234.1 46.4L230.5 50L226.9 46.4Z"/>
<circle class="b" cx="442.9" cy="268.9" r="4"/>
<path class="g" d="M150.5 166.4L156.1 166.4L156.1 172L150.5 172Z"/>
<circle class="b" cx="451.8" cy="265.8" r="4"/>
<path class="k" d="M418.3 109.3L422.3 117.3L414.3 117.3Z"/>
<path class="n" d="M465 219L466.4 221.6L469 223L466.4 224.4L465 227L463.6 224.4L461 223L463.6 221.6Z"/>
<path class="p" d="M278.7 59.3L282.3 62.9L278.7 66.5L275.1 62.9Z"/>
<circle class="b" cx="421.8" cy="269.4" r="4"/>
<path class="n" d="M397.2 214.2L398.6 216.8L401.2 218.2L398.6 219.6L397.2 222.2L395.8 219.6L393.2 218.2L395.8 216.8Z"/>
<path class="n" d="M456.7 213.1L458.1 215.6L460.7 217.1L458.1 218.5L456.7 221.1L455.3 218.5L452.7 217.1L455.3 215.6Z"/>
<circle class="b" cx="437.3" cy="280.1" r="4"/>
<path class="k" d="M430.1 126L434.1 134L426.1 134Z"/>
<path class="n" d="M394.5 203.9L395.9 206.5L398.5 207.9L395.9 209.3L394.5 211.9L393.1 209.3L390.5 207.9L393.1 206.5Z"/>
<path class="o" d="M259 292.5L261.1 294.6L259.5 296.2L261.1 297.9L259 299.9L257.4 298.3L255.8 299.9L253.7 297.9L255.3 296.2L253.7 294.6L255.8 292.5L257.4 294.2Z"/>
<circle class="b" cx="499.2" cy="226.2" r="4"/>
<path class="r" d="M86.4 181.6L89 181.6L89 184.2L91.6 184.2L91.6 186.8L89 186.8L89 189.4L86.4 189.4L86.4 186.8L83.8 186.8L83.8 184.2L86.4 184.2Z"/>
<path class="g" d="M189 180.9L194.6 180.9L194.6 186.5L189 186.5Z"/>
<path class="o" d="M266.4 283.9L268.5 286L266.9 287.6L268.5 289.2L266.4 291.3L264.8 289.7L263.2 291.3L261.1 289.2L262.7 287.6L261.1 286L263.2 283.9L264.8 285.5Z"/>
<path class="y" d="M259.3 113.7L258.4 116.6L259.3 119.4L256.4 118.6L253.6 119.4L254.4 116.6L253.6 113.7L256.4 114.6Z"/>
<path class="g" d="M253.2 217.6L258.9 217.6L258.9 223.2L253.2 223.2Z"/>
<path class="g" d="M133.4 183.5L139 183.5L139 189.1L133.4 189.1Z"/>
<path class="g" d="M195.6 225.7L201.3 225.7L201.3 231.3L195.6 231.3Z"/>
<path class="o" d="M271.1 333.4L273.2 335.5L271.6 337.1L273.2 338.7L271.1 340.8L269.5 339.2L267.9 340.8L265.8 338.7L267.4 337.1L265.8 335.5L267.9 333.4L269.5 335Z"/>
<path class="g" d="M268.9 213L274.6 213L274.6 218.7L268.9 218.7Z"/>
<path class="n" d="M409 225.4L410.4 228L413 229.4L410.4 230.8L409 233.4L407.6 230.8L405 229.4L407.6 228Z"/>
<path class="o" d="M290.9 290.2L293 292.3L291.4 293.9L293 295.5L290.9 297.6L289.3 296L287.7 297.6L285.6 295.5L287.2 293.9L285.6 292.3L287.7 290.2L289.3 291.8Z"/>
<path class="o" d="M332.3 303L334.4 305.1L332.8 306.7L334.4 308.3L332.3 310.4L330.7 308.8L329.1 310.4L327 308.3L328.6 306.7L327 305.1L329.1 303L330.7 304.6Z"/>
<path class="p" d="M288.3 23.6L291.9 27.2L288.3 30.8L284.7 27.2Z"/>
<circle class="b" cx="417.3" cy="271.2" r="4"/>
<path class="g" d="M228.2 227.4L233.9 227.4L233.9 233.1L228.2 233.1Z"/>
<path class="g" d="M190.2 198.4L195.9 198.4L195.9 204.1L190.2 204.1Z"/>
<path class="p" d="M296.3 23.8L299.9 27.4L296.3 31L292.7 27.4Z"/>
<path class="p" d="M281 43L284.6 46.6L281 50.2L277.4 46.6Z"/>
<path class="k" d="M468.4 106.2L472.4 114.2L464.4 114.2Z"/>
<circle class="b" cx="476.6" cy="264.5" r="4"/>
<path class="y" d="M321.3 145.4L320.5 148.2L321.3 151.1L318.5 150.2L315.6 151.1L316.5 148.2L315.6 145.4L318.5 146.2Z"/>
<path class="r" d="M117.1 184.5L119.7 184.5L119.7 187.1L122.3 187.1L122.3 189.7L119.7 189.7L119.7 192.3L117.1 192.3L117.1 189.7L114.5 189.7L114.5 187.1L117.1 187.1Z"/>
<path class="o" d="M269.7 321.8L271.8 323.8L270.2 325.5L271.8 327.1L269.7 329.2L268.1 327.5L266.5 329.2L264.4 327.1L266 325.5L264.4 323.8L266.5 321.8L268.1 323.4Z"/>
<path class="g" d="M222.8 199.3L228.4 199.3L228.4 204.9L222.8 204.9Z"/>
<path class="p" d="M291.5 44.2L295.1 47.8L291.5 51.4L287.9 47.8Z"/>
<path class="k" d="M495.8 127.8L499.8 135.8L491.8 135.8Z"/>
<path class="y" d="M315.3 115.8L314.5 118.7L315.3 121.5L312.5 120.7L309.7 121.5L310.5 118.7L309.7 115.8L312.5 116.7Z"/>
<path class="g" d="M242.8 192L248.5 192L248.5 197.6L242.8 197.6Z"/>
<path class="o" d="M301.2 321.7L303.3 323.8L301.7 325.4L303.3 327L301.2 329.1L299.6 327.5L298 329.1L295.9 327L297.5 325.4L295.9 323.8L298 321.7L299.6 323.3Z"/>
<path class="n" d="M437 219L438.4 221.6L441 223L438.4 224.4L437 227L435.6 224.4L433 223L435.6 221.6Z"/>
<path class="o" d="M283.7 343.8L285.8 345.9L284.2 347.5L285.8 349.1L283.7 351.2L282.1 349.6L280.5 351.2L278.4 349.1L280 347.5L278.4 345.9L280.5 343.8L282.1 345.4Z"/>
<path class="g" d="M160.5 164.5L166.1 164.5L166.1 170.1L160.5 170.1Z"/>
<path class="n" d="M406.6 227.2L408 229.8L410.6 231.2L408 232.6L406.6 235.2L405.2 232.6L402.6 231.2L405.2 229.8Z"/>
<path class="g" d="M162 193.6L167.7 193.6L167.7 199.2L162 199.2Z"/>
<circle class="b" cx="459.1" cy="236.1" r="4"/>
<path class="r" d="M158.1 194.1L160.7 194.1L160.7 196.7L163.3 196.7L163.3 199.3L160.7 199.3L160.7 201.9L158.1 201.9L158.1 199.3L155.5 199.3L155.5 196.7L158.1 196.7Z"/>
<path class="r" d="M155.9 171L158.5 171L158.5 173.6L161.1 173.6L161.1 176.2L158.5 176.2L158.5 178.8L155.9 178.8L155.9 176.2L153.3 176.2L153.3 173.6L155.9 173.6Z"/>
<path class="g" d="M253.7 238.7L259.4 238.7L259.4 244.4L253.7 244.4Z"/>
<path class="r" d="M109.8 182L112.4 182L112.4 184.6L115 184.6L115 187.2L112.4 187.2L112.4 189.8L109.8 189.8L109.8 187.2L107.2 187.2L107.2 184.6L109.8 184.6Z"/>
<path class="g" d="M252.8 198.8L258.5 198.8L258.5 204.4L252.8 204.4Z"/>
<path class="g" d="M262 222.9L267.7 222.9L267.7 228.5L262 228.5Z"/>
<path class="r" d="M123.1 158.9L125.7 158.9L125.7 161.5L128.3 161.5L128.3 164.1L125.7 164.1L125.7 166.7L123.1 166.7L123.1 164.1L120.5 164.1L120.5 161.5L123.1 161.5Z"/>
<circle class="b" cx="463" cy="270.3" r="4"/>
<circle class="b" cx="438.1" cy="256.7" r="4"/>
<path class="g" d="M206.8 209.6L212.4 209.6L212.4 215.2L206.8 215.2Z"/>
<path class="n" d="M401.3 208.4L402.7 211L405.3 212.4L402.7 213.8L401.3 216.4L399.9 213.8L397.3 212.4L399.9 211Z"/>
<path class="g" d="M215.1 233.7L220.8 233.7L220.8 239.4L215.1 239.4Z"/>
<path class="o" d="M262.3 322.9L264.4 325L262.8 326.6L264.4 328.2L262.3 330.3L260.7 328.7L259.1 330.3L257 328.2L258.6 326.6L257 325L259.1 322.9L260.7 324.5Z"/>
<path class="n" d="M390.5 200.1L391.9 202.6L394.5 204.1L391.9 205.5L390.5 208.1L389.1 205.5L386.5 204.1L389.1 202.6Z"/>
<path class="k" d="M471.3 132L475.3 140L467.3 140Z"/>
<path class="g" d="M151.7 161.6L157.3 161.6L157.3 167.2L151.7 167.2Z"/>
<circle class="b" cx="424.1" cy="250.7" r="4"/>
<path class="o" d="M294.8 313.1L296.9 315.2L295.3 316.8L296.9 318.4L294.8 320.5L293.2 318.9L291.6 320.5L289.5 318.4L291.1 316.8L289.5 315.2L291.6 313.1L293.2 314.7Z"/>
<path class="k" d="M509.8 138.1L513.8 146.1L505.8 146.1Z"/>
<path class="r" d="M104.2 177.5L106.8 177.5L106.8 180.1L109.4 180.1L109.4 182.7L106.8 182.7L106.8 185.3L104.2 185.3L104.2 182.7L101.6 182.7L101.6 180.1L104.2 180.1Z"/>
<path class="r" d="M143.7 194.2L146.3 194.2L146.3 196.8L148.9 196.8L148.9 199.4L146.3 199.4L146.3 202L143.7 202L143.7 199.4L141.1 199.4L141.1 196.8L143.7 196.8Z"/>
<path class="y" d="M248.7 128.5L247.8 131.3L248.7 134.1L245.8 133.3L243 134.1L243.8 131.3L243 128.5L245.8 129.3Z"/>
<path class="p" d="M278.6 31.3L282.2 34.9L278.6 38.5L275 34.9Z"/>
<path class="k" d="M439.4 118.4L443.4 126.4L435.4 126.4Z"/>
<path class="r" d="M147.9 179.4L150.5 179.4L150.5 182L153.1 182L153.1 184.6L150.5 184.6L150.5 187.2L147.9 187.2L147.9 184.6L145.3 184.6L145.3 182L147.9 182Z"/>
<circle class="b" cx="425.6" cy="265.9" r="4"/>
<path class="y" d="M311.5 124.1L310.7 126.9L311.5 129.7L308.7 128.9L305.9 129.7L306.7 126.9L305.9 124.1L308.7 124.9Z"/>
<path class="r" d="M126.6 189.2L129.2 189.2L129.2 191.8L131.8 191.8L131.8 194.4L129.2 194.4L129.2 197L126.6 197L126.6 194.4L124 194.4L124 191.8L126.6 191.8Z"/>
<path class="n" d="M385.2 201.4L386.6 204L389.2 205.4L386.6 206.8L385.2 209.4L383.7 206.8L381.2 205.4L383.7 204Z"/>
<path class="n" d="M395.2 209.3L396.6 211.9L399.2 213.3L396.6 214.7L395.2 217.3L393.8 214.7L391.2 213.3L393.8 211.9Z"/>
<path class="g" d="M189.9 210.5L195.6 210.5L195.6 216.1L189.9 216.1Z"/>
<path class="r" d="M161.2 165.4L163.8 165.4L163.8 168L166.4 168L166.4 170.6L163.8 170.6L163.8 173.2L161.2 173.2L161.2 170.6L158.6 170.6L158.6 168L161.2 168Z"/>
<circle class="b" cx="458.4" cy="276" r="4"/>
<path class="g" d="M152 206.2L157.7 206.2L157.7 211.9L152 211.9Z"/>
<path class="r" d="M133.6 165.9L136.2 165.9L136.2 168.5L138.8 168.5L138.8 171.1L136.2 171.1L136.2 173.7L133.6 173.7L133.6 171.1L131 171.1L131 168.5L133.6 168.5Z"/>
<path class="p" d="M237.3 59L240.9 62.6L237.3 66.2L233.7 62.6Z"/>
<path class="r" d="M150.7 213.8L153.3 213.8L153.3 216.4L155.9 216.4L155.9 219L153.3 219L153.3 221.6L150.7 221.6L150.7 219L148.1 219L148.1 216.4L150.7 216.4Z"/>
<path class="o" d="M247.1 304.4L249.2 306.5L247.6 308.1L249.2 309.7L247.1 311.8L245.5 310.2L243.9 311.8L241.8 309.7L243.4 308.1L241.8 306.5L243.9 304.4L245.5 306Z"/>
<path class="g" d="M165.2 178.7L170.8 178.7L170.8 184.3L165.2 184.3Z"/>
<path class="r" d="M140 153.8L142.6 153.8L142.6 156.4L145.2 156.4L145.2 159L142.6 159L142.6 161.6L140 161.6L140 159L137.4 159L137.4 156.4L140 156.4Z"/>
<path class="y" d="M305.7 124.7L304.9 127.5L305.7 130.3L302.9 129.5L300.1 130.3L300.9 127.5L300.1 124.7L302.9 125.5Z"/>
<path class="k" d="M477 124.1L481 132.1L473 132.1Z"/>
<path class="r" d="M160.9 208.9L163.5 208.9L163.5 211.5L166.1 211.5L166.1 214.1L163.5 214.1L163.5 216.7L160.9 216.7L160.9 214.1L158.3 214.1L158.3 211.5L160.9 211.5Z"/>
<path class="g" d="M204.9 216L210.5 216L210.5 221.7L204.9 221.7Z"/>
<path class="r" d="M129 181.8L131.6 181.8L131.6 184.4L134.2 184.4L134.2 187L131.6 187L131.6 189.6L129 189.6L129 187L126.4 187L126.4 184.4L129 184.4Z"/>
<path class="k" d="M459.6 147.3L463.6 155.3L455.6 155.3Z"/>
<path class="g" d="M225.8 202.5L231.4 202.5L231.4 208.1L225.8 208.1Z"/>
<path class="p" d="M286.4 43.9L290 47.5L286.4 51.1L282.8 47.5Z"/>
<path class="r" d="M118 195.6L120.6 195.6L120.6 198.2L123.2 198.2L123.2 200.8L120.6 200.8L120.6 203.4L118 203.4L118 200.8L115.4 200.8L115.4 198.2L118 198.2Z"/>
<path class="n" d="M405 249.5L406.4 252.1L409 253.5L406.4 254.9L405 257.5L403.6 254.9L401 253.5L403.6 252.1Z"/>
<path class="n" d="M377.2 217L378.6 219.6L381.2 221L378.6 222.4L377.2 225L375.8 222.4L373.2 221L375.8 219.6Z"/>
<path class="y" d="M263.8 116.8L263 119.6L263.8 122.4L261 121.6L258.2 122.4L259 119.6L258.2 116.8L261 117.6Z"/>
<path class="o" d="M337.2 307.7L339.3 309.8L337.7 311.4L339.3 313L337.2 315.1L335.6 313.5L334 315.1L331.9 313L333.5 311.4L331.9 309.8L334 307.7L335.6 309.3Z"/>
<path class="y" d="M319.4 134L318.6 136.8L319.4 139.6L316.6 138.8L313.8 139.6L314.6 136.8L313.8 134L316.6 134.8Z"/>
<path class="r" d="M114.6 159.3L117.2 159.3L117.2 161.9L119.8 161.9L119.8 164.5L117.2 164.5L117.2 167.1L114.6 167.1L114.6 164.5L112 164.5L112 161.9L114.6 161.9Z"/>
<path class="k" d="M472.3 143.2L476.3 151.2L468.3 151.2Z"/>
<path class="k" d="M505.4 141.6L509.4 149.6L501.4 149.6Z"/>
<path class="k" d="M403.5 115.7L407.5 123.7L399.5 123.7Z"/>
<path class="o" d="M252.5 318L254.6 320.1L253 321.7L254.6 323.3L252.5 325.4L250.9 323.8L249.3 325.4L247.2 323.3L248.8 321.7L247.2 320.1L249.3 318L250.9 319.6Z"/>
<path class="k" d="M453.4 140.3L457.4 148.3L449.4 148.3Z"/>
<circle class="b" cx="471.6" cy="234.3" r="4"/>
<path class="g" d="M257.1 191.2L262.8 191.2L262.8 196.9L257.1 196.9Z"/>
<path class="o" d="M288.9 298.3L291 300.4L289.4 302L291 303.6L288.9 305.7L287.3 304.1L285.7 305.7L283.6 303.6L285.2 302L283.6 300.4L285.7 298.3L287.3 299.9Z"/>
<path class="k" d="M408.6 112.6L412.6 120.6L404.6 120.6Z"/>
<path class="k" d="M426.8 114.8L430.8 122.8L422.8 122.8Z"/>
<path class="g" d="M250.4 223.6L256 223.6L256 229.3L250.4 229.3Z"/>
<path class="o" d="M273.9 283.9L276 286L274.4 287.6L276 289.2L273.9 291.3L272.3 289.7L270.7 291.3L268.6 289.2L270.2 287.6L268.6 286L270.7 283.9L272.3 285.5Z"/>
<path class="y" d="M330.7 114.9L329.9 117.7L330.7 120.5L327.9 119.7L325 120.5L325.9 117.7L325 114.9L327.9 115.7Z"/>
<path class="y" d="M292.6 112.7L291.8 115.5L292.6 118.3L289.8 117.5L286.9 118.3L287.8 115.5L286.9 112.7L289.8 113.5Z"/>
<path class="p" d="M239.6 40.5L243.2 44.1L239.6 47.7L236 44.1Z"/>
<path class="k" d="M443.5 116.9L447.5 124.9L439.5 124.9Z"/>
<path class="y" d="M304.8 138.9L304 141.7L304.8 144.5L302 143.7L299.1 144.5L300 141.7L299.1 138.9L302 139.7Z"/>
<path class="p" d="M299.9 32.8L303.5 36.4L299.9 40L296.3 36.4Z"/>
<path class="p" d="M301.2 23.1L304.8 26.7L301.2 30.3L297.6 26.7Z"/>
<path class="g" d="M238.8 241L244.4 241L244.4 246.7L238.8 246.7Z"/>
<path class="o" d="M264 300L266.1 302.1L264.5 303.7L266.1 305.3L264 307.4L262.4 305.8L260.8 307.4L258.7 305.3L260.3 303.7L258.7 302.1L260.8 300L262.4 301.6Z"/>
<path class="y" d="M326.6 124.7L325.8 127.5L326.6 130.3L323.8 129.5L320.9 130.3L321.8 127.5L320.9 124.7L323.8 125.5Z"/>
<path class="k" d="M463.8 126.7L467.8 134.7L459.8 134.7Z"/>
<path class="o" d="M313 312L315 314.1L313.4 315.7L315 317.3L313 319.4L311.3 317.8L309.7 319.4L307.6 317.3L309.3 315.7L307.6 314.1L309.7 312L311.3 313.6Z"/>
<path class="k" d="M439.4 110.1L443.4 118.1L435.4 118.1Z"/>
<path class="n" d="M397.5 222.2L398.9 224.8L401.5 226.2L398.9 227.6L397.5 230.2L396.1 227.6L393.5 226.2L396.1 224.8Z"/>
<path class="g" d="M216.7 192L222.4 192L222.4 197.7L216.7 197.7Z"/>
<path class="y" d="M300.5 135.1L299.7 137.9L300.5 140.8L297.7 139.9L294.9 140.8L295.7 137.9L294.9 135.1L297.7 135.9Z"/>
<path class="p" d="M343.9 29.6L347.5 33.2L343.9 36.8L340.3 33.2Z"/>
<path class="n" d="M381.1 194.9L382.5 197.5L385.1 198.9L382.5 200.3L381.1 202.9L379.7 200.3L377.1 198.9L379.7 197.5Z"/>
<path class="n" d="M444.4 219.8L445.8 222.4L448.4 223.8L445.8 225.2L444.4 227.8L442.9 225.2L440.4 223.8L442.9 222.4Z"/>
<path class="o" d="M313.9 323.5L316 325.6L314.3 327.2L316 328.8L313.9 330.9L312.3 329.3L310.6 330.9L308.6 328.8L310.2 327.2L308.6 325.6L310.6 323.5L312.3 325.1Z"/>
<path class="o" d="M326.8 332.9L328.9 335L327.2 336.6L328.9 338.2L326.8 340.3L325.2 338.7L323.5 340.3L321.5 338.2L323.1 336.6L321.5 335L323.5 332.9L325.2 334.5Z"/>
<path class="g" d="M218.1 201.2L223.8 201.2L223.8 206.9L218.1 206.9Z"/>
<path class="n" d="M348 216.1L349.4 218.7L352 220.1L349.4 221.5L348 224.1L346.6 221.5L344 220.1L346.6 218.7Z"/>
<path class="o" d="M329.1 309.4L331.2 311.5L329.6 313.1L331.2 314.7L329.1 316.8L327.5 315.2L325.9 316.8L323.8 314.7L325.4 313.1L323.8 311.5L325.9 309.4L327.5 311Z"/>
<path class="k" d="M436.1 126.4L440.1 134.4L432.1 134.4Z"/>
<path class="p" d="M268.7 32.6L272.3 36.2L268.7 39.8L265.1 36.2Z"/>
<path class="k" d="M460.5 120.1L464.5 128.1L456.5 128.1Z"/>
<path class="n" d="M333.3 206.6L334.7 209.2L337.3 210.6L334.7 212.1L333.3 214.6L331.9 212.1L329.3 210.6L331.9 209.2Z"/>
<circle class="b" cx="457.6" cy="263.3" r="4"/>
<path class="g" d="M209.5 204.2L215.2 204.2L215.2 209.8L209.5 209.8Z"/>
<path class="g" d="M153.7 165.9L159.3 165.9L159.3 171.6L153.7 171.6Z"/>
<path class="p" d="M253.6 61.3L257.2 64.9L253.6 68.5L250 64.9Z"/>
<path class="p" d="M266.3 52.3L269.9 55.9L266.3 59.5L262.7 55.9Z"/>
<path class="p" d="M286.3 52.5L289.9 56.1L286.3 59.7L282.7 56.1Z"/>
<path class="k" d="M407.1 104L411.1 112L403.1 112Z"/>
<path class="n" d="M343.6 222.6L345 225.2L347.6 226.6L345 228L343.6 230.6L342.1 228L339.6 226.6L342.1 225.2Z"/>
<path class="k" d="M488.8 134.8L492.8 142.8L484.8 142.8Z"/>
<path class="g" d="M208.2 214.2L213.9 214.2L213.9 219.9L208.2 219.9Z"/>
<path class="n" d="M425.4 214.1L426.8 216.7L429.4 218.1L426.8 219.5L425.4 222.1L424 219.5L421.4 218.1L424 216.7Z"/>
<path class="y" d="M240 118.1L239.2 121L240 123.8L237.2 123L234.4 123.8L235.2 121L234.4 118.1L237.2 119Z"/>
<path class="k" d="M402.2 119.8L406.2 127.8L398.2 127.8Z"/>
<path class="y" d="M257.6 127.6L256.8 130.5L257.6 133.3L254.8 132.5L252 133.3L252.8 130.5L252 127.6L254.8 128.5Z"/>
<path class="y" d="M346.4 135.3L345.6 138.2L346.4 141L343.6 140.2L340.7 141L341.6 138.2L340.7 135.3L343.6 136.2Z"/>
<circle class="b" cx="486.8" cy="230.2" r="4"/>
<path class="n" d="M447.5 213.4L448.9 216L451.5 217.4L448.9 218.9L447.5 221.4L446.1 218.9L443.5 217.4L446.1 216Z"/>
<path class="n" d="M375.9 232.7L377.3 235.3L379.9 236.7L377.3 238.2L375.9 240.7L374.5 238.2L371.9 236.7L374.5 235.3Z"/>
<path class="p" d="M276.2 35.1L279.8 38.7L276.2 42.3L272.6 38.7Z"/>
<path class="n" d="M353.1 218.4L354.5 221L357.1 222.4L354.5 223.8L353.1 226.4L351.7 223.8L349.1 222.4L351.7 221Z"/>
<path class="g" d="M170.7 193.8L176.3 193.8L176.3 199.4L170.7 199.4Z"/>
<path class="p" d="M232.5 39.4L236.1 43L232.5 46.6L228.9 43Z"/>
<path class="g" d="M264.5 218.8L270.2 218.8L270.2 224.5L264.5 224.5Z"/>
<path class="k" d="M433.3 106.3L437.3 114.3L429.3 114.3Z"/>
<path class="o" d="M324.2 327.3L326.3 329.4L324.7 331L326.3 332.6L324.2 334.7L322.6 333.1L321 334.7L318.9 332.6L320.5 331L318.9 329.4L321 327.3L322.6 328.9Z"/>
<circle class="b" cx="472.5" cy="238.7" r="4"/>
<path class="o" d="M262.3 307.7L264.4 309.8L262.8 311.4L264.4 313L262.3 315.1L260.7 313.5L259.1 315.1L257 313L258.6 311.4L257 309.8L259.1 307.7L260.7 309.3Z"/>
<path class="r" d="M108.6 186.4L111.2 186.4L111.2 189L113.8 189L113.8 191.6L111.2 191.6L111.2 194.2L108.6 194.2L108.6 191.6L106 191.6L106 189L108.6 189Z"/>
<path class="g" d="M189.6 186.7L195.3 186.7L195.3 192.3L189.6 192.3Z"/>
<circle class="b" cx="436.6" cy="250.1" r="4"/>
<path class="o" d="M258.8 325.7L260.9 327.7L259.3 329.4L260.9 331L258.8 333.1L257.2 331.4L255.6 333.1L253.5 331L255.1 329.4L253.5 327.7L255.6 325.7L257.2 327.3Z"/>
<circle class="b" cx="513.1" cy="242.5" r="4"/>
<circle class="b" cx="454.2" cy="235.7" r="4"/>
<path class="r" d="M113.7 155.2L116.3 155.2L116.3 157.8L118.9 157.8L118.9 160.4L116.3 160.4L116.3 163L113.7 163L113.7 160.4L111.1 160.4L111.1 157.8L113.7 157.8Z"/>
<path class="p" d="M326.8 27.4L330.4 31L326.8 34.6L323.2 31Z"/>
<path class="p" d="M342.2 48.2L345.8 51.8L342.2 55.4L338.6 51.8Z"/>
<path class="g" d="M196.1 188L201.7 188L201.7 193.7L196.1 193.7Z"/>
<path class="y" d="M318.6 108.5L317.7 111.4L318.6 114.2L315.7 113.4L312.9 114.2L313.7 111.4L312.9 108.5L315.7 109.4Z"/>
<path class="g" d="M248.8 194.4L254.4 194.4L254.4 200L248.8 200Z"/>
<path class="y" d="M244.8 112.4L244 115.3L244.8 118.1L242 117.3L239.1 118.1L240 115.3L239.1 112.4L242 113.3Z"/>
<path class="y" d="M268.7 136.8L267.9 139.6L268.7 142.4L265.9 141.6L263 142.4L263.9 139.6L263 136.8L265.9 137.6Z"/>
<path class="p" d="M326.9 52.6L330.5 56.2L326.9 59.8L323.3 56.2Z"/>
<path class="r" d="M149.1 170.1L151.7 170.1L151.7 172.7L154.3 172.7L154.3 175.3L151.7 175.3L151.7 177.9L149.1 177.9L149.1 175.3L146.5 175.3L146.5 172.7L149.1 172.7Z"/>
<circle class="b" cx="492.8" cy="228.2" r="4"/>
<path class="y" d="M317.4 141.6L316.6 144.4L317.4 147.2L314.6 146.4L311.8 147.2L312.6 144.4L311.8 141.6L314.6 142.4Z"/>
<path class="k" d="M474.4 116.4L478.4 124.4L470.4 124.4Z"/>
<path class="n" d="M337.8 204.7L339.3 207.3L341.8 208.7L339.3 210.1L337.8 212.7L336.4 210.1L333.8 208.7L336.4 207.3Z"/>
<path class="n" d="M357.7 199.1L359.1 201.7L361.7 203.1L359.1 204.5L357.7 207.1L356.2 204.5L353.7 203.1L356.2 201.7Z"/>
<path class="g" d="M230.4 192.9L236.1 192.9L236.1 198.5L230.4 198.5Z"/>
<path class="o" d="M258.3 298.6L260.4 300.7L258.8 302.3L260.4 303.9L258.3 306L256.7 304.4L255.1 306L253 303.9L254.6 302.3L253 300.7L255.1 298.6L256.7 300.2Z"/>
<path class="k" d="M486.9 128.1L490.9 136.1L482.9 136.1Z"/>
<path class="g" d="M258 228L263.7 228L263.7 233.7L258 233.7Z"/>
<circle class="b" cx="471.9" cy="266" r="4"/>
<path class="k" d="M436.5 140.3L440.5 148.3L432.5 148.3Z"/>
<path class="k" d="M460.8 115L464.8 123L456.8 123Z"/>
<path class="k" d="M463.3 104.6L467.3 112.6L459.3 112.6Z"/>
<path class="r" d="M137.4 196.3L140 196.3L140 198.9L142.6 198.9L142.6 201.5L140 201.5L140 204.1L137.4 204.1L137.4 201.5L134.8 201.5L134.8 198.9L137.4 198.9Z"/>
<path class="n" d="M437.6 210.1L439 212.7L441.6 214.1L439 215.5L437.6 218.1L436.2 215.5L433.6 214.1L436.2 212.7Z"/>
<path class="n" d="M442 246.4L443.4 249L446 250.4L443.4 251.8L442 254.4L440.6 251.8L438 250.4L440.6 249Z"/>
<path class="p" d="M352.4 35.3L356 38.9L352.4 42.5L348.8 38.9Z"/>
<path class="g" d="M137.6 189.2L143.2 189.2L143.2 194.8L137.6 194.8Z"/>
<path class="n" d="M375 226.3L376.4 228.9L379 230.3L376.4 231.7L375 234.3L373.5 231.7L371 230.3L373.5 228.9Z"/>
<path class="n" d="M361.7 208.1L363.1 210.7L365.7 212.1L363.1 213.5L361.7 216.1L360.3 213.5L357.7 212.1L360.3 210.7Z"/>
<path class="r" d="M141.4 164L144 164L144 166.6L146.6 166.6L146.6 169.2L144 169.2L144 171.8L141.4 171.8L141.4 169.2L138.8 169.2L138.8 166.6L141.4 166.6Z"/>
<path class="n" d="M337.2 194.4L338.7 197L341.2 198.4L338.7 199.8L337.2 202.4L335.8 199.8L333.2 198.4L335.8 197Z"/>
<path class="y" d="M327.8 129.8L327 132.6L327.8 135.5L325 134.6L322.2 135.5L323 132.6L322.2 129.8L325 130.6Z"/>
<path class="y" d="M303.6 118.6L302.8 121.5L303.6 124.3L300.8 123.5L298 124.3L298.8 121.5L298 118.6L300.8 119.5Z"/>
<circle class="b" cx="422.5" cy="242" r="4"/>
<path class="r" d="M137.7 166L140.3 166L140.3 168.6L142.9 168.6L142.9 171.2L140.3 171.2L140.3 173.8L137.7 173.8L137.7 171.2L135.1 171.2L135.1 168.6L137.7 168.6Z"/>
<path class="g" d="M230 217.3L235.7 217.3L235.7 223L230 223Z"/>
<path class="g" d="M226.3 236.1L232 236.1L232 241.8L226.3 241.8Z"/>
<path class="y" d="M251.2 118.8L250.3 121.6L251.2 124.4L248.3 123.6L245.5 124.4L246.3 121.6L245.5 118.8L248.3 119.6Z"/>
<path class="g" d="M270.9 209.9L276.5 209.9L276.5 215.5L270.9 215.5Z"/>
<path class="g" d="M120.6 155.7L126.2 155.7L126.2 161.3L120.6 161.3Z"/>
<path class="p" d="M258.7 57.6L262.3 61.2L258.7 64.8L255.1 61.2Z"/>
<path class="g" d="M239.2 186.2L244.8 186.2L244.8 191.8L239.2 191.8Z"/>
<path class="n" d="M414.7 212.7L416.1 215.3L418.7 216.7L416.1 218.1L414.7 220.7L413.3 218.1L410.7 216.7L413.3 215.3Z"/>
<path class="k" d="M420.9 131.3L424.9 139.3L416.9 139.3Z"/>
<path class="g" d="M255.5 205.7L261.2 205.7L261.2 211.3L255.5 211.3Z"/>
<path class="p" d="M305.3 41.1L308.9 44.7L305.3 48.3L301.7 44.7Z"/>
<path class="r" d="M88.5 190.1L91.1 190.1L91.1 192.7L93.7 192.7L93.7 195.3L91.1 195.3L91.1 197.9L88.5 197.9L88.5 195.3L85.9 195.3L85.9 192.7L88.5 192.7Z"/>
<path class="r" d="M156.4 154.6L159 154.6L159 157.2L161.6 157.2L161.6 159.8L159 159.8L159 162.4L156.4 162.4L156.4 159.8L153.8 159.8L153.8 157.2L156.4 157.2Z"/>
<path class="p" d="M322.2 30.8L325.8 34.4L322.2 38L318.6 34.4Z"/>
<path class="n" d="M389.9 195.3L391.3 197.9L393.9 199.3L391.3 200.7L389.9 203.3L388.5 200.7L385.9 199.3L388.5 197.9Z"/>
<path class="n" d="M366.6 225.2L368 227.8L370.6 229.2L368 230.6L366.6 233.2L365.2 230.6L362.6 229.2L365.2 227.8Z"/>
<path class="g" d="M210.4 218.5L216 218.5L216 224.1L210.4 224.1Z"/>
<path class="p" d="M292.3 56.2L295.9 59.8L292.3 63.4L288.7 59.8Z"/>
<path class="y" d="M307.8 120.2L306.9 123L307.8 125.8L304.9 125L302.1 125.8L302.9 123L302.1 120.2L304.9 121Z"/>
<path class="o" d="M307 307.6L309 309.6L307.4 311.3L309 312.9L307 315L305.3 313.3L303.7 315L301.6 312.9L303.3 311.3L301.6 309.6L303.7 307.6L305.3 309.2Z"/>
<path class="p" d="M332.3 33.1L335.9 36.7L332.3 40.3L328.7 36.7Z"/>
<path class="p" d="M277.9 38.6L281.5 42.2L277.9 45.8L274.3 42.2Z"/>
<path class="k" d="M451.5 108.1L455.5 116.1L447.5 116.1Z"/>
<path class="r" d="M115.5 188.7L118.1 188.7L118.1 191.3L120.7 191.3L120.7 193.9L118.1 193.9L118.1 196.5L115.5 196.5L115.5 193.9L112.9 193.9L112.9 191.3L115.5 191.3Z"/>
<path class="o" d="M280.7 293.7L282.8 295.8L281.2 297.4L282.8 299L280.7 301.1L279.1 299.5L277.5 301.1L275.4 299L277 297.4L275.4 295.8L277.5 293.7L279.1 295.3Z"/>
<path class="p" d="M336.3 40.9L339.9 44.5L336.3 48.1L332.7 44.5Z"/>
<circle class="b" cx="443" cy="241.3" r="4"/>
<path class="y" d="M310.4 132.7L309.6 135.5L310.4 138.3L307.6 137.5L304.8 138.3L305.6 135.5L304.8 132.7L307.6 133.5Z"/>
<path class="r" d="M126.4 185.1L129 185.1L129 187.7L131.6 187.7L131.6 190.3L129 190.3L129 192.9L126.4 192.9L126.4 190.3L123.8 190.3L123.8 187.7L126.4 187.7Z"/>
<path class="g" d="M236.9 225.4L242.6 225.4L242.6 231L236.9 231Z"/>
<path class="o" d="M324.5 308.6L326.6 310.7L325 312.3L326.6 313.9L324.5 316L322.9 314.4L321.3 316L319.2 313.9L320.8 312.3L319.2 310.7L321.3 308.6L322.9 310.2Z"/>
<path class="o" d="M268.4 316.3L270.5 318.4L268.9 320L270.5 321.6L268.4 323.7L266.8 322.1L265.2 323.7L263.1 321.6L264.7 320L263.1 318.4L265.2 316.3L266.8 317.9Z"/>
<path class="g" d="M232.2 197.1L237.8 197.1L237.8 202.8L232.2 202.8Z"/>
<path class="r" d="M127.6 154.7L130.2 154.7L130.2 157.3L132.8 157.3L132.8 159.9L130.2 159.9L130.2 162.5L127.6 162.5L127.6 159.9L125 159.9L125 157.3L127.6 157.3Z"/>
<path class="p" d="M309 34.4L312.6 38L309 41.6L305.4 38Z"/>
<path class="k" d="M484.7 143.3L488.7 151.3L480.7 151.3Z"/>
<path class="n" d="M368 218.8L369.4 221.4L372 222.8L369.4 224.2L368 226.8L366.6 224.2L364 222.8L366.6 221.4Z"/>
<path class="n" d="M473 217L474.4 219.6L477 221L474.4 222.4L473 225L471.6 222.4L469 221L471.6 219.6Z"/>
<path class="g" d="M161.2 204.6L166.8 204.6L166.8 210.3L161.2 210.3Z"/>
<path class="p" d="M295.2 42L298.8 45.6L295.2 49.2L291.6 45.6Z"/>
<path class="o" d="M304.9 339.3L307 341.4L305.4 343L307 344.6L304.9 346.7L303.3 345.1L301.7 346.7L299.6 344.6L301.2 343L299.6 341.4L301.7 339.3L303.3 340.9Z"/>
<path class="p" d="M339.8 39.1L343.4 42.7L339.8 46.3L336.2 42.7Z"/>
<path class="n" d="M422.4 206.7L423.8 209.3L426.4 210.7L423.8 212.1L422.4 214.7L421 212.1L418.4 210.7L421 209.3Z"/>
<circle class="b" cx="430.8" cy="249.3" r="4"/>
<path class="y" d="M330.1 118.5L329.2 121.3L330.1 124.2L327.2 123.3L324.4 124.2L325.2 121.3L324.4 118.5L327.2 119.3Z"/>
<path class="n" d="M481 226L482.4 228.6L485 230L482.4 231.4L481 234L479.6 231.4L477 230L479.6 228.6Z"/>
<path class="g" d="M170.2 210.9L175.9 210.9L175.9 216.6L170.2 216.6Z"/>
<path class="k" d="M429.9 119.8L433.9 127.8L425.9 127.8Z"/>
<path class="o" d="M269.3 280.4L271.4 282.5L269.8 284.1L271.4 285.7L269.3 287.8L267.7 286.2L266.1 287.8L264 285.7L265.6 284.1L264 282.5L266.1 280.4L267.7 282Z"/>
<path class="p" d="M271.3 25.5L274.9 29.1L271.3 32.7L267.7 29.1Z"/>
<path class="n" d="M354.8 189.5L356.2 192.1L358.8 193.5L356.2 194.9L354.8 197.5L353.4 194.9L350.8 193.5L353.4 192.1Z"/>
<path class="o" d="M261.4 303.5L263.5 305.6L261.9 307.2L263.5 308.8L261.4 310.9L259.8 309.3L258.2 310.9L256.1 308.8L257.7 307.2L256.1 305.6L258.2 303.5L259.8 305.1Z"/>
<path class="n" d="M354.7 227.1L356.1 229.7L358.7 231.1L356.1 232.5L354.7 235.1L353.3 232.5L350.7 231.1L353.3 229.7Z"/>
<circle class="b" cx="442.8" cy="256.8" r="4"/>
<path class="n" d="M434.9 219.6L436.3 222.2L438.9 223.6L436.3 225L434.9 227.6L433.5 225L430.9 223.6L433.5 222.2Z"/>
<path class="n" d="M329.3 200.7L330.7 203.3L333.3 204.7L330.7 206.1L329.3 208.7L327.9 206.1L325.3 204.7L327.9 203.3Z"/>
<path class="p" d="M282.4 60.4L286 64L282.4 67.6L278.8 64Z"/>
<path class="g" d="M205.8 227.1L211.4 227.1L211.4 232.8L205.8 232.8Z"/>
<circle class="b" cx="416.6" cy="260.6" r="4"/>
<path class="r" d="M170.9 199.6L173.5 199.6L173.5 202.2L176.1 202.2L176.1 204.8L173.5 204.8L173.5 207.4L170.9 207.4L170.9 204.8L168.3 204.8L168.3 202.2L170.9 202.2Z"/>
<path class="r" d="M157.9 213.3L160.5 213.3L160.5 215.9L163.1 215.9L163.1 218.5L160.5 218.5L160.5 221.1L157.9 221.1L157.9 218.5L155.3 218.5L155.3 215.9L157.9 215.9Z"/>
<path class="r" d="M152.8 176.5L155.4 176.5L155.4 179.1L158 179.1L158 181.7L155.4 181.7L155.4 184.3L152.8 184.3L152.8 181.7L150.2 181.7L150.2 179.1L152.8 179.1Z"/>
<path class="n" d="M423.6 203.7L425 206.3L427.6 207.7L425 209.1L423.6 211.7L422.2 209.1L419.6 207.7L422.2 206.3Z"/>
<path class="r" d="M132.4 158.8L135 158.8L135 161.4L137.6 161.4L137.6 164L135 164L135 166.6L132.4 166.6L132.4 164L129.8 164L129.8 161.4L132.4 161.4Z"/>
<path class="y" d="M264.7 125.9L263.9 128.7L264.7 131.5L261.9 130.7L259.1 131.5L259.9 128.7L259.1 125.9L261.9 126.7Z"/>
<circle class="b" cx="485.7" cy="221.3" r="4"/>
<path class="n" d="M389.9 209.2L391.3 211.8L393.9 213.2L391.3 214.6L389.9 217.2L388.4 214.6L385.9 213.2L388.4 211.8Z"/>
<path class="r" d="M156.3 180.5L158.9 180.5L158.9 183.1L161.5 183.1L161.5 185.7L158.9 185.7L158.9 188.3L156.3 188.3L156.3 185.7L153.7 185.7L153.7 183.1L156.3 183.1Z"/>
<path class="o" d="M319.5 296.7L321.6 298.8L320 300.4L321.6 302L319.5 304.1L317.9 302.5L316.3 304.1L314.2 302L315.8 300.4L314.2 298.8L316.3 296.7L317.9 298.3Z"/>
<path class="r" d="M165.8 181.4L168.4 181.4L168.4 184L171 184L171 186.6L168.4 186.6L168.4 189.2L165.8 189.2L165.8 186.6L163.2 186.6L163.2 184L165.8 184Z"/>
<path class="r" d="M92.4 191.5L95 191.5L95 194.1L97.6 194.1L97.6 196.7L95 196.7L95 199.3L92.4 199.3L92.4 196.7L89.8 196.7L89.8 194.1L92.4 194.1Z"/>
<path class="n" d="M404 207.5L405.4 210.1L408 211.5L405.4 212.9L404 215.5L402.6 212.9L400 211.5L402.6 210.1Z"/>
<circle class="b" cx="458.3" cy="247.8" r="4"/>
<path class="y" d="M252.3 131.3L251.4 134.2L252.3 137L249.4 136.2L246.6 137L247.4 134.2L246.6 131.3L249.4 132.2Z"/>
<path class="g" d="M181.3 202.5L186.9 202.5L186.9 208.1L181.3 208.1Z"/>
<path class="g" d="M207.1 195.4L212.7 195.4L212.7 201.1L207.1 201.1Z"/>
<circle class="b" cx="511.6" cy="230" r="4"/>
<path class="y" d="M332 144.2L331.2 147L332 149.9L329.2 149L326.3 149.9L327.2 147L326.3 144.2L329.2 145Z"/>
<path class="r" d="M123.6 154.7L126.2 154.7L126.2 157.3L128.8 157.3L128.8 159.9L126.2 159.9L126.2 162.5L123.6 162.5L123.6 159.9L121 159.9L121 157.3L123.6 157.3Z"/>
<path class="o" d="M295.3 296.1L297.4 298.2L295.8 299.8L297.4 301.4L295.3 303.5L293.7 301.9L292.1 303.5L290 301.4L291.6 299.8L290 298.2L292.1 296.1L293.7 297.7Z"/>
<path class="p" d="M319 47.9L322.6 51.5L319 55.1L315.4 51.5Z"/>
<circle class="b" cx="430.2" cy="258.5" r="4"/>
<path class="k" d="M415.9 119.6L419.9 127.6L411.9 127.6Z"/>
<path class="r" d="M104.2 194.5L106.8 194.5L106.8 197.1L109.4 197.1L109.4 199.7L106.8 199.7L106.8 202.3L104.2 202.3L104.2 199.7L101.6 199.7L101.6 197.1L104.2 197.1Z"/>
<path class="o" d="M252.7 289.7L254.8 291.8L253.1 293.4L254.8 295L252.7 297.1L251.1 295.5L249.4 297.1L247.4 295L249 293.4L247.4 291.8L249.4 289.7L251.1 291.3Z"/>
<path class="o" d="M298.5 309.4L300.6 311.5L298.9 313.1L300.6 314.8L298.5 316.8L296.9 315.2L295.2 316.8L293.2 314.8L294.8 313.1L293.2 311.5L295.2 309.4L296.9 311.1Z"/>
<path class="p" d="M239.8 56.1L243.4 59.7L239.8 63.3L236.2 59.7Z"/>
<path class="r" d="M100.8 185.4L103.4 185.4L103.4 188L106 188L106 190.6L103.4 190.6L103.4 193.2L100.8 193.2L100.8 190.6L98.2 190.6L98.2 188L100.8 188Z"/>
<path class="n" d="M362.9 228.8L364.3 231.4L366.9 232.8L364.3 234.2L362.9 236.8L361.5 234.2L358.9 232.8L361.5 231.4Z"/>
<path class="o" d="M281 298.3L283.1 300.4L281.5 302L283.1 303.6L281 305.7L279.4 304.1L277.8 305.7L275.7 303.6L277.3 302L275.7 300.4L277.8 298.3L279.4 299.9Z"/>
<path class="k" d="M414.8 131.6L418.8 139.6L410.8 139.6Z"/>
<path class="n" d="M345.5 190.5L347 193.1L349.5 194.5L347 195.9L345.5 198.5L344.1 195.9L341.5 194.5L344.1 193.1Z"/>
<path class="g" d="M206.9 223.6L212.6 223.6L212.6 229.2L206.9 229.2Z"/>
<path class="g" d="M110.6 189.9L116.2 189.9L116.2 195.5L110.6 195.5Z"/>
<circle class="b" cx="495.3" cy="264.2" r="4"/>
<path class="g" d="M156.3 209L161.9 209L161.9 214.6L156.3 214.6Z"/>
<path class="o" d="M284.5 318.4L286.6 320.5L285 322.1L286.6 323.7L284.5 325.8L282.9 324.2L281.3 325.8L279.2 323.7L280.8 322.1L279.2 320.5L281.3 318.4L282.9 320Z"/>
<path class="o" d="M300.1 298.6L302.2 300.6L300.6 302.3L302.2 303.9L300.1 306L298.5 304.3L296.9 306L294.8 303.9L296.4 302.3L294.8 300.6L296.9 298.6L298.5 300.2Z"/>
<path class="y" d="M267.9 133.2L267 136.1L267.9 138.9L265 138.1L262.2 138.9L263 136.1L262.2 133.2L265 134.1Z"/>
<path class="n" d="M370.9 190.4L372.3 193L374.9 194.4L372.3 195.8L370.9 198.4L369.5 195.8L366.9 194.4L369.5 193Z"/>
<path class="o" d="M248.4 315.1L250.5 317.2L248.8 318.8L250.5 320.4L248.4 322.5L246.8 320.9L245.1 322.5L243.1 320.4L244.7 318.8L243.1 317.2L245.1 315.1L246.8 316.7Z"/>
<path class="n" d="M339.8 221.7L341.2 224.3L343.8 225.7L341.2 227.1L339.8 229.7L338.4 227.1L335.8 225.7L338.4 224.3Z"/>
<path class="p" d="M317.5 29.7L321.1 33.3L317.5 36.9L313.9 33.3Z"/>
<circle class="b" cx="462" cy="257.8" r="4"/>
<circle class="b" cx="484.1" cy="240.5" r="4"/>
<circle class="b" cx="504" cy="224.1" r="4"/>
<circle class="b" cx="427.3" cy="273.4" r="4"/>
<circle class="b" cx="505.8" cy="231" r="4"/>
<path class="n" d="M331.4 189.1L332.8 191.7L335.4 193.1L332.8 194.5L331.4 197.1L330 194.5L327.4 193.1L330 191.7Z"/>
<path class="r" d="M118.7 153.9L121.3 153.9L121.3 156.5L123.9 156.5L123.9 159.1L121.3 159.1L121.3 161.7L118.7 161.7L118.7 159.1L116.1 159.1L116.1 156.5L118.7 156.5Z"/>
<path class="g" d="M270.4 222.6L276.1 222.6L276.1 228.2L270.4 228.2Z"/>
<path class="y" d="M331.4 132.2L330.6 135.1L331.4 137.9L328.6 137.1L325.8 137.9L326.6 135.1L325.8 132.2L328.6 133.1Z"/>
<circle class="b" cx="466" cy="244.8" r="4"/>
<circle class="b" cx="429.8" cy="233" r="4"/>
<path class="r" d="M113 184.5L115.6 184.5L115.6 187.1L118.2 187.1L118.2 189.7L115.6 189.7L115.6 192.3L113 192.3L113 189.7L110.4 189.7L110.4 187.1L113 187.1Z"/>
<path class="n" d="M385.1 212.2L386.6 214.8L389.1 216.2L386.6 217.6L385.1 220.2L383.7 217.6L381.1 216.2L383.7 214.8Z"/>
<path class="g" d="M247.9 208.2L253.5 208.2L253.5 213.9L247.9 213.9Z"/>
<path class="k" d="M448.9 122.6L452.9 130.6L444.9 130.6Z"/>
<path class="y" d="M278.2 139.1L277.4 142L278.2 144.8L275.4 144L272.5 144.8L273.4 142L272.5 139.1L275.4 140Z"/>
<path class="p" d="M256.6 31.7L260.2 35.3L256.6 38.9L253 35.3Z"/>
<path class="k" d="M496.8 116.9L500.8 124.9L492.8 124.9Z"/>
<path class="g" d="M247.8 202.9L253.5 202.9L253.5 208.6L247.8 208.6Z"/>
<path class="o" d="M265 295.3L267.1 297.4L265.5 299L267.1 300.6L265 302.7L263.4 301.1L261.8 302.7L259.7 300.6L261.3 299L259.7 297.4L261.8 295.3L263.4 296.9Z"/>
<circle class="b" cx="476.1" cy="253.3" r="4"/>
<path class="n" d="M448.5 210.1L449.9 212.7L452.5 214.1L449.9 215.5L448.5 218.1L447.1 215.5L444.5 214.1L447.1 212.7Z"/>
<path class="r" d="M94.4 187.8L97 187.8L97 190.4L99.6 190.4L99.6 193L97 193L97 195.6L94.4 195.6L94.4 193L91.8 193L91.8 190.4L94.4 190.4Z"/>
<path class="n" d="M415.3 221.6L416.7 224.2L419.3 225.6L416.7 227L415.3 229.6L413.9 227L411.3 225.6L413.9 224.2Z"/>
<path class="p" d="M267.7 37.8L271.3 41.4L267.7 45L264.1 41.4Z"/>
<path class="g" d="M258.9 213.3L264.6 213.3L264.6 219L258.9 219Z"/>
<path class="y" d="M341.5 116.2L340.7 119L341.5 121.9L338.7 121L335.9 121.9L336.7 119L335.9 116.2L338.7 117Z"/>
<path class="n" d="M336.4 184.5L337.8 187.1L340.4 188.5L337.8 189.9L336.4 192.5L335 189.9L332.4 188.5L335 187.1Z"/>
<path class="p" d="M343.2 42.9L346.8 46.5L343.2 50.1L339.6 46.5Z"/>
<path class="y" d="M281.4 127.7L280.5 130.6L281.4 133.4L278.5 132.6L275.7 133.4L276.5 130.6L275.7 127.7L278.5 128.6Z"/>
<circle class="b" cx="411.2" cy="246.1" r="4"/>
<path class="r" d="M109 158.3L111.6 158.3L111.6 160.9L114.2 160.9L114.2 163.5L111.6 163.5L111.6 166.1L109 166.1L109 163.5L106.4 163.5L106.4 160.9L109 160.9Z"/>
<path class="n" d="M411.5 210.1L412.9 212.7L415.5 214.1L412.9 215.5L411.5 218.1L410.1 215.5L407.5 214.1L410.1 212.7Z"/>
<path class="k" d="M421 123.5L425 131.5L417 131.5Z"/>
<path class="y" d="M331.2 127.8L330.4 130.7L331.2 133.5L328.4 132.7L325.6 133.5L326.4 130.7L325.6 127.8L328.4 128.7Z"/>
<path class="o" d="M321.4 317.6L323.5 319.7L321.9 321.3L323.5 322.9L321.4 325L319.8 323.4L318.2 325L316.1 322.9L317.7 321.3L316.1 319.7L318.2 317.6L319.8 319.2Z"/>
<path class="g" d="M224.6 185L230.2 185L230.2 190.6L224.6 190.6Z"/>
<path class="y" d="M235.8 118.1L235 121L235.8 123.8L233 123L230.1 123.8L231 121L230.1 118.1L233 119Z"/>
<circle class="b" cx="494.5" cy="245.6" r="4"/>
<circle class="b" cx="449.1" cy="248" r="4"/>
<path class="o" d="M267.3 309L269.4 311.1L267.8 312.7L269.4 314.3L267.3 316.4L265.7 314.8L264.1 316.4L262 314.3L263.6 312.7L262 311.1L264.1 309L265.7 310.6Z"/>
<path class="g" d="M210.1 228.3L215.8 228.3L215.8 234L210.1 234Z"/>
<path class="r" d="M87.6 177.2L90.2 177.2L90.2 179.8L92.8 179.8L92.8 182.4L90.2 182.4L90.2 185L87.6 185L87.6 182.4L85 182.4L85 179.8L87.6 179.8Z"/>
<path class="r" d="M112.6 163.7L115.2 163.7L115.2 166.3L117.8 166.3L117.8 168.9L115.2 168.9L115.2 171.5L112.6 171.5L112.6 168.9L110 168.9L110 166.3L112.6 166.3Z"/>
<path class="r" d="M176.4 206.4L179 206.4L179 209L181.6 209L181.6 211.6L179 211.6L179 214.2L176.4 214.2L176.4 211.6L173.8 211.6L173.8 209L176.4 209Z"/>
<circle class="b" cx="450.5" cy="253.9" r="4"/>
<path class="o" d="M289.5 317.9L291.6 320L290 321.6L291.6 323.2L289.5 325.3L287.9 323.7L286.3 325.3L284.2 323.2L285.8 321.6L284.2 320L286.3 317.9L287.9 319.5Z"/>
<path class="p" d="M242.5 59.8L246.1 63.4L242.5 67L238.9 63.4Z"/>
<path class="p" d="M279.9 22.2L283.5 25.8L279.9 29.4L276.3 25.8Z"/>
<circle class="b" cx="440.5" cy="236.4" r="4"/>
<path class="n" d="M355.1 209.6L356.5 212.2L359.1 213.6L356.5 215L355.1 217.6L353.7 215L351.1 213.6L353.7 212.2Z"/>
<path class="y" d="M314.2 135.5L313.3 138.3L314.2 141.1L311.3 140.3L308.5 141.1L309.3 138.3L308.5 135.5L311.3 136.3Z"/>
<path class="p" d="M274.9 62.3L278.5 65.9L274.9 69.5L271.3 65.9Z"/>
<path class="p" d="M241.7 46.4L245.3 50L241.7 53.6L238.1 50Z"/>
<path class="r" d="M107.7 196.4L110.3 196.4L110.3 199L112.9 199L112.9 201.6L110.3 201.6L110.3 204.2L107.7 204.2L107.7 201.6L105.1 201.6L105.1 199L107.7 199Z"/>
<path class="p" d="M309.6 29L313.2 32.6L309.6 36.2L306 32.6Z"/>
<path class="k" d="M485.3 118.5L489.3 126.5L481.3 126.5Z"/>
<path class="g" d="M258.6 207.6L264.3 207.6L264.3 213.2L258.6 213.2Z"/>
<path class="n" d="M370.5 226.2L371.9 228.8L374.5 230.2L371.9 231.6L370.5 234.2L369 231.6L366.5 230.2L369 228.8Z"/>
<path class="g" d="M205.6 188L211.2 188L211.2 193.6L205.6 193.6Z"/>
<circle class="b" cx="461.2" cy="265.6" r="4"/>
<circle class="b" cx="431.8" cy="276.9" r="4"/>
<circle class="b" cx="465.2" cy="274" r="4"/>
<path class="o" d="M321.1 331.4L323.2 333.5L321.6 335.1L323.2 336.7L321.1 338.8L319.5 337.2L317.9 338.8L315.8 336.7L317.4 335.1L315.8 333.5L317.9 331.4L319.5 333Z"/>
<path class="g" d="M172.8 199.9L178.5 199.9L178.5 205.5L172.8 205.5Z"/>
<path class="y" d="M274 132.7L273.1 135.5L274 138.3L271.1 137.5L268.3 138.3L269.1 135.5L268.3 132.7L271.1 133.5Z"/>
<circle class="b" cx="415.5" cy="239" r="4"/>
<path class="n" d="M437.5 213.3L438.9 215.9L441.5 217.3L438.9 218.7L437.5 221.3L436.1 218.7L433.5 217.3L436.1 215.9Z"/>
<path class="r" d="M172.2 181.1L174.8 181.1L174.8 183.7L177.4 183.7L177.4 186.3L174.8 186.3L174.8 188.9L172.2 188.9L172.2 186.3L169.6 186.3L169.6 183.7L172.2 183.7Z"/>
<path class="k" d="M504.8 116.9L508.8 124.9L500.8 124.9Z"/>
<path class="g" d="M224.5 224.4L230.1 224.4L230.1 230.1L224.5 230.1Z"/>
<path class="n" d="M349.2 211.8L350.6 214.4L353.2 215.8L350.6 217.3L349.2 219.8L347.8 217.3L345.2 215.8L347.8 214.4Z"/>
<path class="y" d="M337.4 120.1L336.5 122.9L337.4 125.7L334.5 124.9L331.7 125.7L332.5 122.9L331.7 120.1L334.5 120.9Z"/>
<path class="r" d="M172.9 162.9L175.5 162.9L175.5 165.5L178.1 165.5L178.1 168.1L175.5 168.1L175.5 170.7L172.9 170.7L172.9 168.1L170.3 168.1L170.3 165.5L172.9 165.5Z"/>
<path class="g" d="M244.8 205.3L250.4 205.3L250.4 210.9L244.8 210.9Z"/>
<path class="r" d="M104 199.1L106.6 199.1L106.6 201.7L109.2 201.7L109.2 204.3L106.6 204.3L106.6 206.9L104 206.9L104 204.3L101.4 204.3L101.4 201.7L104 201.7Z"/>
<path class="k" d="M440.5 139.3L444.5 147.3L436.5 147.3Z"/>
<path class="n" d="M418.4 206.2L419.8 208.8L422.4 210.2L419.8 211.6L418.4 214.2L417 211.6L414.4 210.2L417 208.8Z"/>
<path class="k" d="M411.2 101.8L415.2 109.8L407.2 109.8Z"/>
<circle class="b" cx="412" cy="268.9" r="4"/>
<path class="n" d="M390.8 229.7L392.3 232.3L394.8 233.7L392.3 235.1L390.8 237.7L389.4 235.1L386.8 233.7L389.4 232.3Z"/>
<path class="n" d="M382.6 232.1L384 234.6L386.6 236.1L384 237.5L382.6 240.1L381.2 237.5L378.6 236.1L381.2 234.6Z"/>
<circle class="b" cx="508.6" cy="241.2" r="4"/>
<path class="y" d="M280.6 104.8L279.8 107.6L280.6 110.4L277.8 109.6L275 110.4L275.8 107.6L275 104.8L277.8 105.6Z"/>
<path class="g" d="M160.3 211L166 211L166 216.6L160.3 216.6Z"/>
<path class="y" d="M275.2 126.5L274.3 129.3L275.2 132.1L272.3 131.3L269.5 132.1L270.3 129.3L269.5 126.5L272.3 127.3Z"/>
<path class="o" d="M310.5 336.5L312.6 338.6L311 340.2L312.6 341.8L310.5 343.9L308.9 342.3L307.3 343.9L305.2 341.8L306.8 340.2L305.2 338.6L307.3 336.5L308.9 338.1Z"/>
<path class="k" d="M457.3 104.5L461.3 112.5L453.3 112.5Z"/>
<path class="p" d="M303.7 34.5L307.3 38.1L303.7 41.7L300.1 38.1Z"/>
<path class="n" d="M378 228.8L379.4 231.4L382 232.8L379.4 234.2L378 236.8L376.6 234.2L374 232.8L376.6 231.4Z"/>
<path class="g" d="M198.4 217.6L204 217.6L204 223.3L198.4 223.3Z"/>
<circle class="b" cx="466.4" cy="234.4" r="4"/>
<path class="k" d="M449 140.5L453 148.5L445 148.5Z"/>
<path class="g" d="M169.6 184L175.3 184L175.3 189.7L169.6 189.7Z"/>
<path class="r" d="M168.5 165.6L171.1 165.6L171.1 168.2L173.7 168.2L173.7 170.8L171.1 170.8L171.1 173.4L168.5 173.4L168.5 170.8L165.9 170.8L165.9 168.2L168.5 168.2Z"/>
<path class="k" d="M510 143.4L514 151.4L506 151.4Z"/>
<path class="r" d="M137.6 159.8L140.2 159.8L140.2 162.4L142.8 162.4L142.8 165L140.2 165L140.2 167.6L137.6 167.6L137.6 165L135 165L135 162.4L137.6 162.4Z"/>
<path class="n" d="M352.5 223.9L353.9 226.5L356.5 227.9L353.9 229.3L352.5 231.9L351.1 229.3L348.5 227.9L351.1 226.5Z"/>
<path class="n" d="M493 223L494.4 225.6L497 227L494.4 228.4L493 231L491.6 228.4L489 227L491.6 225.6Z"/>
<path class="g" d="M221 223.9L226.6 223.9L226.6 229.5L221 229.5Z"/>
<path class="r" d="M165.7 157.7L168.3 157.7L168.3 160.3L170.9 160.3L170.9 162.9L168.3 162.9L168.3 165.5L165.7 165.5L165.7 162.9L163.1 162.9L163.1 160.3L165.7 160.3Z"/>
<path class="k" d="M461.9 135.4L465.9 143.4L457.9 143.4Z"/>
<path class="k" d="M456.8 117.5L460.8 125.5L452.8 125.5Z"/>
<path class="g" d="M198.5 205.5L204.1 205.5L204.1 211.1L198.5 211.1Z"/>
<path class="k" d="M451.6 128.6L455.6 136.6L447.6 136.6Z"/>
<path class="g" d="M229.8 200.2L235.5 200.2L235.5 205.9L229.8 205.9Z"/>
<path class="y" d="M253.3 113.2L252.5 116.1L253.3 118.9L250.5 118.1L247.6 118.9L248.5 116.1L247.6 113.2L250.5 114.1Z"/>
<path class="g" d="M236.9 200.5L242.6 200.5L242.6 206.1L236.9 206.1Z"/>
<path class="y" d="M249.8 111.6L248.9 114.4L249.8 117.3L246.9 116.4L244.1 117.3L244.9 114.4L244.1 111.6L246.9 112.4Z"/>
<circle class="b" cx="490.1" cy="247.4" r="4"/>
<path class="p" d="M268.6 55.9L272.2 59.5L268.6 63.1L265 59.5Z"/>
<path class="n" d="M461.2 222.2L462.6 224.8L465.2 226.2L462.6 227.6L461.2 230.2L459.8 227.6L457.2 226.2L459.8 224.8Z"/>
<path class="o" d="M279.5 288.7L281.5 290.8L279.9 292.4L281.5 294L279.5 296.1L277.8 294.5L276.2 296.1L274.1 294L275.8 292.4L274.1 290.8L276.2 288.7L277.8 290.3Z"/>
<path class="r" d="M162.8 169.3L165.4 169.3L165.4 171.9L168 171.9L168 174.5L165.4 174.5L165.4 177.1L162.8 177.1L162.8 174.5L160.2 174.5L160.2 171.9L162.8 171.9Z"/>
<path class="p" d="M293.1 28.6L296.7 32.2L293.1 35.8L289.5 32.2Z"/>
<path class="r" d="M162.9 174.3L165.5 174.3L165.5 176.9L168.1 176.9L168.1 179.5L165.5 179.5L165.5 182.1L162.9 182.1L162.9 179.5L160.3 179.5L160.3 176.9L162.9 176.9Z"/>
<circle class="b" cx="484.6" cy="263.1" r="4"/>
<path class="p" d="M271.7 46L275.3 49.6L271.7 53.2L268.1 49.6Z"/>
<path class="o" d="M309.5 303.7L311.6 305.8L310 307.4L311.6 309L309.5 311.1L307.9 309.5L306.3 311.1L304.2 309L305.8 307.4L304.2 305.8L306.3 303.7L307.9 305.3Z"/>
<circle class="b" cx="451.1" cy="282.8" r="4"/>
<path class="p" d="M306.5 23.3L310.1 26.9L306.5 30.5L302.9 26.9Z"/>
<path class="k" d="M489.3 145.2L493.3 153.2L485.3 153.2Z"/>
<circle class="b" cx="440.1" cy="252.6" r="4"/>
<circle class="b" cx="477" cy="236.2" r="4"/>
<path class="k" d="M404.8 123.1L408.8 131.1L400.8 131.1Z"/>
<path class="g" d="M221.2 209.1L226.8 209.1L226.8 214.8L221.2 214.8Z"/>
<path class="y" d="M247.9 135.6L247.1 138.5L247.9 141.3L245.1 140.5L242.2 141.3L243.1 138.5L242.2 135.6L245.1 136.5Z"/>
<path class="n" d="M397.5 216.5L398.9 219.1L401.5 220.5L398.9 221.9L397.5 224.5L396.1 221.9L393.5 220.5L396.1 219.1Z"/>
<path class="r" d="M106.5 161.4L109.1 161.4L109.1 164L111.7 164L111.7 166.6L109.1 166.6L109.1 169.2L106.5 169.2L106.5 166.6L103.9 166.6L103.9 164L106.5 164Z"/>
<path class="r" d="M92.2 181.1L94.8 181.1L94.8 183.7L97.4 183.7L97.4 186.3L94.8 186.3L94.8 188.9L92.2 188.9L92.2 186.3L89.6 186.3L89.6 183.7L92.2 183.7Z"/>
<path class="k" d="M461.3 131.5L465.3 139.5L457.3 139.5Z"/>
<path class="n" d="M354 194L355.4 196.6L358 198L355.4 199.4L354 202L352.6 199.4L350 198L352.6 196.6Z"/>
<path class="p" d="M342.6 35.6L346.2 39.2L342.6 42.8L339 39.2Z"/>
<path class="k" d="M426.1 125.6L430.1 133.6L422.1 133.6Z"/>
<path class="y" d="M308.1 110L307.3 112.8L308.1 115.6L305.3 114.8L302.5 115.6L303.3 112.8L302.5 110L305.3 110.8Z"/>
<path class="r" d="M116.8 173.7L119.4 173.7L119.4 176.3L122 176.3L122 178.9L119.4 178.9L119.4 181.5L116.8 181.5L116.8 178.9L114.2 178.9L114.2 176.3L116.8 176.3Z"/>
<path class="n" d="M340.5 189.9L341.9 192.5L344.5 193.9L341.9 195.3L340.5 197.9L339.1 195.3L336.5 193.9L339.1 192.5Z"/>
<path class="r" d="M109.9 176.8L112.5 176.8L112.5 179.4L115.1 179.4L115.1 182L112.5 182L112.5 184.6L109.9 184.6L109.9 182L107.3 182L107.3 179.4L109.9 179.4Z"/>
<circle class="b" cx="485.5" cy="246.5" r="4"/>
<path class="p" d="M274.4 27.9L278 31.5L274.4 35.1L270.8 31.5Z"/>
<path class="r" d="M103.6 181.9L106.2 181.9L106.2 184.5L108.8 184.5L108.8 187.1L106.2 187.1L106.2 189.7L103.6 189.7L103.6 187.1L101 187.1L101 184.5L103.6 184.5Z"/>
<path class="n" d="M384.2 206.2L385.6 208.7L388.2 210.2L385.6 211.6L384.2 214.2L382.8 211.6L380.2 210.2L382.8 208.7Z"/>
<path class="g" d="M194.2 203.4L199.9 203.4L199.9 209.1L194.2 209.1Z"/>
<path class="o" d="M317.9 307.8L320 309.9L318.4 311.5L320 313.1L317.9 315.2L316.3 313.6L314.7 315.2L312.6 313.1L314.2 311.5L312.6 309.9L314.7 307.8L316.3 309.4Z"/>
<circle class="b" cx="467.8" cy="239.6" r="4"/>
<path class="g" d="M262.4 231.7L268.1 231.7L268.1 237.4L262.4 237.4Z"/>
<path class="g" d="M233.6 187.5L239.3 187.5L239.3 193.2L233.6 193.2Z"/>
<path class="o" d="M327.7 324.3L329.8 326.4L328.2 328L329.8 329.6L327.7 331.7L326.1 330.1L324.5 331.7L322.4 329.6L324 328L322.4 326.4L324.5 324.3L326.1 325.9Z"/>
<path class="y" d="M322.8 111.6L321.9 114.5L322.8 117.3L319.9 116.5L317.1 117.3L317.9 114.5L317.1 111.6L319.9 112.5Z"/>
<path class="p" d="M310.3 51.9L313.9 55.5L310.3 59.1L306.7 55.5Z"/>
<path class="n" d="M410.7 206.7L412.1 209.3L414.7 210.7L412.1 212.1L410.7 214.7L409.2 212.1L406.7 210.7L409.2 209.3Z"/>
<path class="y" d="M310.2 128.8L309.4 131.6L310.2 134.4L307.4 133.6L304.6 134.4L305.4 131.6L304.6 128.8L307.4 129.6Z"/>
<path class="g" d="M220.6 189.6L226.2 189.6L226.2 195.3L220.6 195.3Z"/>
<path class="n" d="M359.7 220.7L361.1 223.3L363.7 224.7L361.1 226.2L359.7 228.7L358.3 226.2L355.7 224.7L358.3 223.3Z"/>
<path class="p" d="M320.8 44.3L324.4 47.9L320.8 51.5L317.2 47.9Z"/>
<path class="p" d="M313.1 42.4L316.7 46L313.1 49.6L309.5 46Z"/>
<path class="y" d="M255.4 137.8L254.6 140.7L255.4 143.5L252.6 142.7L249.8 143.5L250.6 140.7L249.8 137.8L252.6 138.7Z"/>
<path class="n" d="M461 223L462.4 225.6L465 227L462.4 228.4L461 231L459.6 228.4L457 227L459.6 225.6Z"/>
<path class="p" d="M247.6 44.7L251.2 48.3L247.6 51.9L244 48.3Z"/>
<path class="r" d="M98.7 191L101.3 191L101.3 193.6L103.9 193.6L103.9 196.2L101.3 196.2L101.3 198.8L98.7 198.8L98.7 196.2L96.1 196.2L96.1 193.6L98.7 193.6Z"/>
<path class="g" d="M239.1 228.5L244.8 228.5L244.8 234.1L239.1 234.1Z"/>
<path class="g" d="M241.7 207.6L247.4 207.6L247.4 213.3L241.7 213.3Z"/>
<path class="p" d="M273.6 50.6L277.2 54.2L273.6 57.8L270 54.2Z"/>
<circle class="b" cx="421.3" cy="259.1" r="4"/>
<path class="y" d="M267.1 113.9L266.3 116.7L267.1 119.6L264.3 118.7L261.5 119.6L262.3 116.7L261.5 113.9L264.3 114.7Z"/>
<path class="k" d="M460 107.9L464 115.9L456 115.9Z"/>
<path class="p" d="M349 37.4L352.6 41L349 44.6L345.4 41Z"/>
<path class="y" d="M268.2 117.6L267.4 120.4L268.2 123.3L265.4 122.4L262.5 123.3L263.4 120.4L262.5 117.6L265.4 118.4Z"/>
<path class="g" d="M221.8 202.5L227.4 202.5L227.4 208.1L221.8 208.1Z"/>
<path class="k" d="M469.7 116.5L473.7 124.5L465.7 124.5Z"/>
<path class="p" d="M277.4 25.4L281 29L277.4 32.6L273.8 29Z"/>
<path class="g" d="M198.5 175.6L204.1 175.6L204.1 181.2L198.5 181.2Z"/>
<path class="n" d="M401.2 223.3L402.6 225.9L405.2 227.3L402.6 228.7L401.2 231.3L399.8 228.7L397.2 227.3L399.8 225.9Z"/>
<path class="g" d="M147.5 191.3L153.1 191.3L153.1 196.9L147.5 196.9Z"/>
<path class="n" d="M402 242L403.4 244.6L406 246L403.4 247.4L402 250L400.6 247.4L398 246L400.6 244.6Z"/>
<circle class="b" cx="430.1" cy="241.1" r="4"/>
<path class="o" d="M270.8 287.4L272.9 289.5L271.3 291.1L272.9 292.7L270.8 294.8L269.2 293.2L267.6 294.8L265.5 292.7L267.1 291.1L265.5 289.5L267.6 287.4L269.2 289Z"/>
<path class="y" d="M281.3 135.8L280.5 138.6L281.3 141.4L278.5 140.6L275.6 141.4L276.5 138.6L275.6 135.8L278.5 136.6Z"/>
<path class="g" d="M200.3 225.6L205.9 225.6L205.9 231.2L200.3 231.2Z"/>
<path class="n" d="M342.7 207.6L344.1 210.2L346.7 211.6L344.1 213L342.7 215.6L341.3 213L338.7 211.6L341.3 210.2Z"/>
<path class="k" d="M418.3 114.2L422.3 122.2L414.3 122.2Z"/>
<path class="g" d="M238.3 221.3L244 221.3L244 227L238.3 227Z"/>
<path class="k" d="M456.6 136.5L460.6 144.5L452.6 144.5Z"/>
<path class="p" d="M245.7 33.1L249.3 36.7L245.7 40.3L242.1 36.7Z"/>
<path class="n" d="M400.1 224.1L401.5 226.7L404.1 228.1L401.5 229.5L400.1 232.1L398.7 229.5L396.1 228.1L398.7 226.7Z"/>
<path class="k" d="M478.6 131.2L482.6 139.2L474.6 139.2Z"/>
<path class="g" d="M231.4 229.2L237 229.2L237 234.9L231.4 234.9Z"/>
<path class="n" d="M372.5 220L374 222.6L376.5 224L374 225.4L372.5 228L371.1 225.4L368.5 224L371.1 222.6Z"/>
<path class="r" d="M104 172.5L106.6 172.5L106.6 175.1L109.2 175.1L109.2 177.7L106.6 177.7L106.6 180.3L104 180.3L104 177.7L101.4 177.7L101.4 175.1L104 175.1Z"/>
<path class="k" d="M453.6 144.9L457.6 152.9L449.6 152.9Z"/>
<path class="g" d="M250.2 242.5L255.8 242.5L255.8 248.2L250.2 248.2Z"/>
<path class="y" d="M313.3 144.7L312.5 147.5L313.3 150.4L310.5 149.5L307.7 150.4L308.5 147.5L307.7 144.7L310.5 145.5Z"/>
<circle class="b" cx="513.5" cy="233.9" r="4"/>
<path class="k" d="M478.7 145.6L482.7 153.6L474.7 153.6Z"/>
<path class="n" d="M337.4 217.8L338.9 220.3L341.4 221.8L338.9 223.2L337.4 225.8L336 223.2L333.4 221.8L336 220.3Z"/>
<path class="g" d="M184.9 203.1L190.6 203.1L190.6 208.7L184.9 208.7Z"/>
<circle class="b" cx="488.5" cy="225.8" r="4"/>
<path class="g" d="M215.7 218.5L221.3 218.5L221.3 224.1L215.7 224.1Z"/>
<path class="y" d="M324 129.1L323.1 131.9L324 134.8L321.1 133.9L318.3 134.8L319.1 131.9L318.3 129.1L321.1 129.9Z"/>
<circle class="b" cx="417.6" cy="243" r="4"/>
<circle class="b" cx="479.6" cy="232.2" r="4"/>
<path class="k" d="M447.6 98.2L451.6 106.2L443.6 106.2Z"/>
<path class="y" d="M345.6 118.1L344.8 120.9L345.6 123.8L342.8 122.9L339.9 123.8L340.8 120.9L339.9 118.1L342.8 118.9Z"/>
<path class="g" d="M226.7 197.6L232.4 197.6L232.4 203.3L226.7 203.3Z"/>
<path class="y" d="M252.6 135.1L251.8 137.9L252.6 140.7L249.8 139.9L247 140.7L247.8 137.9L247 135.1L249.8 135.9Z"/>
<circle class="b" cx="399" cy="237" r="4"/>
<path class="g" d="M215.6 226.6L221.3 226.6L221.3 232.2L215.6 232.2Z"/>
<path class="y" d="M305.8 113.9L304.9 116.7L305.8 119.5L302.9 118.7L300.1 119.5L300.9 116.7L300.1 113.9L302.9 114.7Z"/>
<circle class="b" cx="494.5" cy="257.9" r="4"/>
<path class="n" d="M426.2 215.8L427.6 218.4L430.2 219.8L427.6 221.2L426.2 223.8L424.8 221.2L422.2 219.8L424.8 218.4Z"/>
<path class="n" d="M391.8 226L393.2 228.6L395.8 230L393.2 231.4L391.8 234L390.4 231.4L387.8 230L390.4 228.6Z"/>
<path class="g" d="M243.5 187.2L249.2 187.2L249.2 192.8L243.5 192.8Z"/>
<path class="r" d="M116.7 163.6L119.3 163.6L119.3 166.2L121.9 166.2L121.9 168.8L119.3 168.8L119.3 171.4L116.7 171.4L116.7 168.8L114.1 168.8L114.1 166.2L116.7 166.2Z"/>
<path class="r" d="M173.3 174.8L175.9 174.8L175.9 177.4L178.5 177.4L178.5 180L175.9 180L175.9 182.6L173.3 182.6L173.3 180L170.7 180L170.7 177.4L173.3 177.4Z"/>
<path class="g" d="M251.6 203.6L257.2 203.6L257.2 209.3L251.6 209.3Z"/>
<circle class="b" cx="454.9" cy="279.3" r="4"/>
<path class="p" d="M351.7 43.6L355.3 47.2L351.7 50.8L348.1 47.2Z"/>
<path class="y" d="M235.9 127.3L235.1 130.2L235.9 133L233.1 132.2L230.2 133L231.1 130.2L230.2 127.3L233.1 128.2Z"/>
<path class="p" d="M332.1 40.7L335.7 44.3L332.1 47.9L328.5 44.3Z"/>
<path class="r" d="M171.6 176.2L174.2 176.2L174.2 178.8L176.8 178.8L176.8 181.4L174.2 181.4L174.2 184L171.6 184L171.6 181.4L169 181.4L169 178.8L171.6 178.8Z"/>
<path class="p" d="M235.1 55.4L238.7 59L235.1 62.6L231.5 59Z"/>
<path class="g" d="M258.1 197.4L263.8 197.4L263.8 203.1L258.1 203.1Z"/>
<path class="o" d="M282.9 303.5L285 305.6L283.4 307.2L285 308.8L282.9 310.9L281.3 309.3L279.7 310.9L277.6 308.8L279.2 307.2L277.6 305.6L279.7 303.5L281.3 305.1Z"/>
<path class="g" d="M211.6 201L217.2 201L217.2 206.6L211.6 206.6Z"/>
<path class="p" d="M261.1 36.3L264.7 39.9L261.1 43.5L257.5 39.9Z"/>
<path class="p" d="M320.9 26.6L324.5 30.2L320.9 33.8L317.3 30.2Z"/>
<path class="r" d="M168.3 189.3L170.9 189.3L170.9 191.9L173.5 191.9L173.5 194.5L170.9 194.5L170.9 197.1L168.3 197.1L168.3 194.5L165.7 194.5L165.7 191.9L168.3 191.9Z"/>
<path class="p" d="M266.4 27.6L270 31.2L266.4 34.8L262.8 31.2Z"/>
<path class="k" d="M479.6 136.6L483.6 144.6L475.6 144.6Z"/>
<circle class="b" cx="499.2" cy="240.9" r="4"/>
<path class="y" d="M293.1 123.7L292.3 126.6L293.1 129.4L290.3 128.6L287.4 129.4L288.3 126.6L287.4 123.7L290.3 124.6Z"/>
<path class="g" d="M240.8 200.9L246.4 200.9L246.4 206.6L240.8 206.6Z"/>
<path class="n" d="M449.1 217.8L450.5 220.4L453.1 221.8L450.5 223.2L449.1 225.8L447.7 223.2L445.1 221.8L447.7 220.4Z"/>
<path class="g" d="M145 168L150.7 168L150.7 173.7L145 173.7Z"/>
<path class="r" d="M157.4 179.9L160 179.9L160 182.5L162.6 182.5L162.6 185.1L160 185.1L160 187.7L157.4 187.7L157.4 185.1L154.8 185.1L154.8 182.5L157.4 182.5Z"/>
<path class="y" d="M271.4 128.9L270.6 131.7L271.4 134.6L268.6 133.7L265.7 134.6L266.6 131.7L265.7 128.9L268.6 129.7Z"/>
<path class="k" d="M495.9 145.1L499.9 153.1L491.9 153.1Z"/>
<path class="o" d="M327.7 318.9L329.8 321L328.2 322.6L329.8 324.2L327.7 326.3L326.1 324.7L324.5 326.3L322.4 324.2L324 322.6L322.4 321L324.5 318.9L326.1 320.5Z"/>
<circle class="b" cx="436" cy="238.3" r="4"/>
<path class="g" d="M217.7 196L223.4 196L223.4 201.7L217.7 201.7Z"/>
<path class="y" d="M337.3 134.9L336.5 137.7L337.3 140.6L334.5 139.7L331.6 140.6L332.5 137.7L331.6 134.9L334.5 135.7Z"/>
<path class="n" d="M454.8 219L456.2 221.6L458.8 223L456.2 224.4L454.8 227L453.4 224.4L450.8 223L453.4 221.6Z"/>
<path class="g" d="M149.8 182.1L155.4 182.1L155.4 187.7L149.8 187.7Z"/>
<path class="r" d="M125.8 168.5L128.4 168.5L128.4 171.1L131 171.1L131 173.7L128.4 173.7L128.4 176.3L125.8 176.3L125.8 173.7L123.2 173.7L123.2 171.1L125.8 171.1Z"/>
<path class="y" d="M319.3 115.8L318.5 118.7L319.3 121.5L316.5 120.7L313.6 121.5L314.5 118.7L313.6 115.8L316.5 116.7Z"/>
<path class="o" d="M313.5 295.3L315.6 297.4L313.9 299L315.6 300.6L313.5 302.7L311.9 301.1L310.2 302.7L308.2 300.6L309.8 299L308.2 297.4L310.2 295.3L311.9 296.9Z"/>
<path class="p" d="M333.1 44.5L336.7 48.1L333.1 51.7L329.5 48.1Z"/>
<path class="y" d="M354.9 128.9L354.1 131.8L354.9 134.6L352.1 133.8L349.3 134.6L350.1 131.8L349.3 128.9L352.1 129.8Z"/>
<path class="r" d="M144 198.6L146.6 198.6L146.6 201.2L149.2 201.2L149.2 203.8L146.6 203.8L146.6 206.4L144 206.4L144 203.8L141.4 203.8L141.4 201.2L144 201.2Z"/>
<path class="o" d="M295.7 305.8L297.8 307.9L296.2 309.5L297.8 311.1L295.7 313.2L294.1 311.6L292.5 313.2L290.4 311.1L292 309.5L290.4 307.9L292.5 305.8L294.1 307.4Z"/>
<path class="p" d="M282.5 51.8L286.1 55.4L282.5 59L278.9 55.4Z"/>
<path class="y" d="M262.9 136.8L262 139.6L262.9 142.5L260 141.6L257.2 142.5L258 139.6L257.2 136.8L260 137.6Z"/>
<path class="r" d="M123.3 172.1L125.9 172.1L125.9 174.7L128.5 174.7L128.5 177.3L125.9 177.3L125.9 179.9L123.3 179.9L123.3 177.3L120.7 177.3L120.7 174.7L123.3 174.7Z"/>
<path class="k" d="M456.6 129.2L460.6 137.2L452.6 137.2Z"/>
<path class="k" d="M500.9 118L504.9 126L496.9 126Z"/>
<path class="g" d="M244.7 200.8L250.4 200.8L250.4 206.5L244.7 206.5Z"/>
<path class="y" d="M285.6 128.6L284.8 131.5L285.6 134.3L282.8 133.5L279.9 134.3L280.8 131.5L279.9 128.6L282.8 129.5Z"/>
<path class="p" d="M267.3 59.9L270.9 63.5L267.3 67.1L263.7 63.5Z"/>
<path class="y" d="M310.2 114.1L309.4 116.9L310.2 119.8L307.4 118.9L304.5 119.8L305.4 116.9L304.5 114.1L307.4 114.9Z"/>
<path class="n" d="M443.2 211.3L444.6 213.9L447.2 215.3L444.6 216.7L443.2 219.3L441.8 216.7L439.2 215.3L441.8 213.9Z"/>
<path class="y" d="M242.5 122.4L241.6 125.3L242.5 128.1L239.6 127.3L236.8 128.1L237.6 125.3L236.8 122.4L239.6 123.3Z"/>
<path class="o" d="M305.7 320.4L307.8 322.5L306.2 324.1L307.8 325.7L305.7 327.8L304.1 326.2L302.5 327.8L300.4 325.7L302 324.1L300.4 322.5L302.5 320.4L304.1 322Z"/>
<path class="y" d="M325.2 114.5L324.4 117.3L325.2 120.1L322.4 119.3L319.6 120.1L320.4 117.3L319.6 114.5L322.4 115.3Z"/>
<path class="k" d="M444.7 129.9L448.7 137.9L440.7 137.9Z"/>
<circle class="b" cx="418.5" cy="265.2" r="4"/>
<path class="p" d="M336.6 27.8L340.2 31.4L336.6 35L333 31.4Z"/>
<path class="r" d="M174.3 184.3L176.9 184.3L176.9 186.9L179.5 186.9L179.5 189.5L176.9 189.5L176.9 192.1L174.3 192.1L174.3 189.5L171.7 189.5L171.7 186.9L174.3 186.9Z"/>
<path class="k" d="M469.5 126L473.5 134L465.5 134Z"/>
<path class="r" d="M128.3 192.8L130.9 192.8L130.9 195.4L133.5 195.4L133.5 198L130.9 198L130.9 200.6L128.3 200.6L128.3 198L125.7 198L125.7 195.4L128.3 195.4Z"/>
<path class="p" d="M308.8 42.6L312.4 46.2L308.8 49.8L305.2 46.2Z"/>
<path class="y" d="M254.2 120.8L253.4 123.6L254.2 126.5L251.4 125.6L248.6 126.5L249.4 123.6L248.6 120.8L251.4 121.6Z"/>
<path class="r" d="M143.8 180.2L146.4 180.2L146.4 182.8L149 182.8L149 185.4L146.4 185.4L146.4 188L143.8 188L143.8 185.4L141.2 185.4L141.2 182.8L143.8 182.8Z"/>
<path class="k" d="M438.3 130.1L442.3 138.1L434.3 138.1Z"/>
<circle class="b" cx="500.3" cy="260.1" r="4"/>
<path class="g" d="M217.1 223.2L222.8 223.2L222.8 228.9L217.1 228.9Z"/>
<path class="n" d="M367.9 193.9L369.3 196.5L371.9 197.9L369.3 199.3L367.9 201.9L366.5 199.3L363.9 197.9L366.5 196.5Z"/>
<circle class="b" cx="479.9" cy="261.9" r="4"/>
<path class="p" d="M248.3 54.3L251.9 57.9L248.3 61.5L244.7 57.9Z"/>
<circle class="b" cx="426.2" cy="260.6" r="4"/>
<path class="y" d="M239.2 124.9L238.3 127.8L239.2 130.6L236.3 129.8L233.5 130.6L234.3 127.8L233.5 124.9L236.3 125.8Z"/>
<path class="g" d="M249.7 227.7L255.4 227.7L255.4 233.4L249.7 233.4Z"/>
<path class="y" d="M338.6 140.2L337.8 143L338.6 145.8L335.8 145L333 145.8L333.8 143L333 140.2L335.8 141Z"/>
<path class="g" d="M237.6 208.5L243.3 208.5L243.3 214.1L237.6 214.1Z"/>
<path class="k" d="M491.6 138.5L495.6 146.5L487.6 146.5Z"/>
<path class="y" d="M246.7 116.7L245.9 119.6L246.7 122.4L243.9 121.6L241.1 122.4L241.9 119.6L241.1 116.7L243.9 117.6Z"/>
<path class="g" d="M217.1 230.1L222.8 230.1L222.8 235.8L217.1 235.8Z"/>
<path class="p" d="M311.6 24.7L315.2 28.3L311.6 31.9L308 28.3Z"/>
<path class="p" d="M286.2 59.1L289.8 62.7L286.2 66.3L282.6 62.7Z"/>
<path class="o" d="M250.6 307L252.7 309L251.1 310.7L252.7 312.3L250.6 314.4L249 312.7L247.4 314.4L245.3 312.3L246.9 310.7L245.3 309L247.4 307L249 308.6Z"/>
<path class="r" d="M93.8 195.7L96.4 195.7L96.4 198.3L99 198.3L99 200.9L96.4 200.9L96.4 203.5L93.8 203.5L93.8 200.9L91.2 200.9L91.2 198.3L93.8 198.3Z"/>
<path class="r" d="M96.1 173.2L98.7 173.2L98.7 175.8L101.3 175.8L101.3 178.4L98.7 178.4L98.7 181L96.1 181L96.1 178.4L93.5 178.4L93.5 175.8L96.1 175.8Z"/>
<path class="r" d="M135.8 181.5L138.4 181.5L138.4 184.1L141 184.1L141 186.7L138.4 186.7L138.4 189.3L135.8 189.3L135.8 186.7L133.2 186.7L133.2 184.1L135.8 184.1Z"/>
<path class="k" d="M436.9 113.8L440.9 121.8L432.9 121.8Z"/>
<path class="k" d="M470.6 100.5L474.6 108.5L466.6 108.5Z"/>
<path class="r" d="M133.2 204.9L135.8 204.9L135.8 207.5L138.4 207.5L138.4 210.1L135.8 210.1L135.8 212.7L133.2 212.7L133.2 210.1L130.6 210.1L130.6 207.5L133.2 207.5Z"/>
<path class="g" d="M269.3 217.1L274.9 217.1L274.9 222.7L269.3 222.7Z"/>
<path class="y" d="M348.7 125.4L347.8 128.2L348.7 131L345.8 130.2L343 131L343.8 128.2L343 125.4L345.8 126.2Z"/>
<path class="k" d="M492.9 147.9L496.9 155.9L488.9 155.9Z"/>
<path class="r" d="M102 163L104.6 163L104.6 165.6L107.2 165.6L107.2 168.2L104.6 168.2L104.6 170.8L102 170.8L102 168.2L99.4 168.2L99.4 165.6L102 165.6Z"/>
<circle class="b" cx="437.4" cy="231.9" r="4"/>
<path class="g" d="M224.6 231L230.2 231L230.2 236.6L224.6 236.6Z"/>
<path class="g" d="M181.9 201L187.5 201L187.5 206.6L181.9 206.6Z"/>
<path class="g" d="M148.6 188.7L154.2 188.7L154.2 194.3L148.6 194.3Z"/>
<path class="r" d="M142.5 176.4L145.1 176.4L145.1 179L147.7 179L147.7 181.6L145.1 181.6L145.1 184.2L142.5 184.2L142.5 181.6L139.9 181.6L139.9 179L142.5 179Z"/>
<path class="g" d="M166 214.3L171.7 214.3L171.7 219.9L166 219.9Z"/>
<path class="y" d="M300.7 108.9L299.9 111.7L300.7 114.5L297.9 113.7L295.1 114.5L295.9 111.7L295.1 108.9L297.9 109.7Z"/>
<circle class="b" cx="422.7" cy="255" r="4"/>
<path class="y" d="M292.3 116.5L291.5 119.3L292.3 122.2L289.5 121.3L286.6 122.2L287.5 119.3L286.6 116.5L289.5 117.3Z"/>
<circle class="b" cx="466" cy="266.7" r="4"/>
<path class="g" d="M199 212.6L204.7 212.6L204.7 218.3L199 218.3Z"/>
<path class="g" d="M184 193.8L189.7 193.8L189.7 199.5L184 199.5Z"/>
<circle class="b" cx="442.2" cy="231.3" r="4"/>
<path class="y" d="M290.8 132.8L290 135.6L290.8 138.4L288 137.6L285.2 138.4L286 135.6L285.2 132.8L288 133.6Z"/>
<path class="n" d="M404.5 250L405.9 252.6L408.5 254L405.9 255.4L404.5 258L403.1 255.4L400.5 254L403.1 252.6Z"/>
<path class="n" d="M401.9 222.6L403.4 225.2L405.9 226.6L403.4 228L401.9 230.6L400.5 228L397.9 226.6L400.5 225.2Z"/>
<path class="r" d="M159 201.4L161.6 201.4L161.6 204L164.2 204L164.2 206.6L161.6 206.6L161.6 209.2L159 209.2L159 206.6L156.4 206.6L156.4 204L159 204Z"/>
<path class="g" d="M221 198.9L226.6 198.9L226.6 204.6L221 204.6Z"/>
<path class="r" d="M153.6 196.4L156.2 196.4L156.2 199L158.8 199L158.8 201.6L156.2 201.6L156.2 204.2L153.6 204.2L153.6 201.6L151 201.6L151 199L153.6 199Z"/>
<path class="k" d="M508.8 129.6L512.8 137.6L504.8 137.6Z"/>
<path class="g" d="M245.8 219.8L251.5 219.8L251.5 225.4L245.8 225.4Z"/>
<path class="p" d="M300.6 27.4L304.2 31L300.6 34.6L297 31Z"/>
<path class="r" d="M90.7 161.4L93.3 161.4L93.3 164L95.9 164L95.9 166.6L93.3 166.6L93.3 169.2L90.7 169.2L90.7 166.6L88.1 166.6L88.1 164L90.7 164Z"/>
<path class="o" d="M316 327.6L318.1 329.7L316.5 331.3L318.1 333L316 335L314.4 333.4L312.8 335L310.7 333L312.3 331.3L310.7 329.7L312.8 327.6L314.4 329.3Z"/>
<path class="p" d="M251.8 42.3L255.4 45.9L251.8 49.5L248.2 45.9Z"/>
<path class="g" d="M197.9 179.7L203.5 179.7L203.5 185.3L197.9 185.3Z"/>
<path class="g" d="M206.8 225.6L212.4 225.6L212.4 231.2L206.8 231.2Z"/>
<path class="g" d="M243.9 235.5L249.5 235.5L249.5 241.2L243.9 241.2Z"/>
<path class="p" d="M269.4 50.1L273 53.7L269.4 57.3L265.8 53.7Z"/>
<circle class="b" cx="445.8" cy="244.7" r="4"/>
<path class="g" d="M249 198.9L254.6 198.9L254.6 204.5L249 204.5Z"/>
<path class="p" d="M240.6 34.7L244.2 38.3L240.6 41.9L237 38.3Z"/>
<path class="r" d="M167.4 210.6L170 210.6L170 213.2L172.6 213.2L172.6 215.8L170 215.8L170 218.4L167.4 218.4L167.4 215.8L164.8 215.8L164.8 213.2L167.4 213.2Z"/>
<path class="o" d="M275.2 288.1L277.3 290.2L275.7 291.8L277.3 293.4L275.2 295.5L273.6 293.9L272 295.5L269.9 293.4L271.5 291.8L269.9 290.2L272 288.1L273.6 289.7Z"/>
<path class="r" d="M88.2 164.4L90.8 164.4L90.8 167L93.4 167L93.4 169.6L90.8 169.6L90.8 172.2L88.2 172.2L88.2 169.6L85.6 169.6L85.6 167L88.2 167Z"/>
<path class="g" d="M153.8 193.8L159.4 193.8L159.4 199.4L153.8 199.4Z"/>
<path class="r" d="M167.4 174.9L170 174.9L170 177.5L172.6 177.5L172.6 180.1L170 180.1L170 182.7L167.4 182.7L167.4 180.1L164.8 180.1L164.8 177.5L167.4 177.5Z"/>
<path class="o" d="M266.7 331.1L268.8 333.2L267.2 334.8L268.8 336.4L266.7 338.5L265.1 336.9L263.5 338.5L261.4 336.4L263 334.8L261.4 333.2L263.5 331.1L265.1 332.7Z"/>
<circle class="b" cx="454.7" cy="250.5" r="4"/>
<path class="k" d="M483.5 137.7L487.5 145.7L479.5 145.7Z"/>
<path class="g" d="M206.7 200L212.4 200L212.4 205.7L206.7 205.7Z"/>
<path class="p" d="M296.8 37.4L300.4 41L296.8 44.6L293.2 41Z"/>
<path class="r" d="M128.4 159.7L131 159.7L131 162.3L133.6 162.3L133.6 164.9L131 164.9L131 167.5L128.4 167.5L128.4 164.9L125.8 164.9L125.8 162.3L128.4 162.3Z"/>
<path class="g" d="M185 184L190.6 184L190.6 189.7L185 189.7Z"/>
<circle class="b" cx="449.1" cy="234.4" r="4"/>
<path class="k" d="M412.1 111L416.1 119L408.1 119Z"/>
<path class="o" d="M277.3 329.2L279.4 331.3L277.8 332.9L279.4 334.5L277.3 336.6L275.7 335L274.1 336.6L272 334.5L273.6 332.9L272 331.3L274.1 329.2L275.7 330.8Z"/>
<path class="p" d="M286.6 38.3L290.2 41.9L286.6 45.5L283 41.9Z"/>
<path class="o" d="M257.9 311.2L260 313.3L258.4 314.9L260 316.5L257.9 318.6L256.3 317L254.7 318.6L252.6 316.5L254.2 314.9L252.6 313.3L254.7 311.2L256.3 312.8Z"/>
<path class="y" d="M242.4 115.2L241.6 118L242.4 120.9L239.6 120L236.8 120.9L237.6 118L236.8 115.2L239.6 116Z"/>
<circle class="b" cx="509.5" cy="246.6" r="4"/>
<path class="g" d="M225.6 232.6L231.3 232.6L231.3 238.3L225.6 238.3Z"/>
<path class="o" d="M316.4 314.9L318.5 317L316.9 318.6L318.5 320.2L316.4 322.3L314.8 320.7L313.2 322.3L311.1 320.2L312.7 318.6L311.1 317L313.2 314.9L314.8 316.5Z"/>
<path class="r" d="M155.8 164.4L158.4 164.4L158.4 167L161 167L161 169.6L158.4 169.6L158.4 172.2L155.8 172.2L155.8 169.6L153.2 169.6L153.2 167L155.8 167Z"/>
<circle class="b" cx="411.1" cy="263.8" r="4"/>
<path class="n" d="M398 247L399.4 249.6L402 251L399.4 252.4L398 255L396.6 252.4L394 251L396.6 249.6Z"/>
<path class="g" d="M259.9 217.1L265.5 217.1L265.5 222.8L259.9 222.8Z"/>
<path class="p" d="M240.6 51.2L244.2 54.8L240.6 58.4L237 54.8Z"/>
<path class="p" d="M346.8 44.4L350.4 48L346.8 51.6L343.2 48Z"/>
<circle class="b" cx="490.7" cy="265.4" r="4"/>
<path class="o" d="M249 300.3L251.1 302.4L249.5 304L251.1 305.6L249 307.7L247.4 306.1L245.8 307.7L243.7 305.6L245.3 304L243.7 302.4L245.8 300.3L247.4 301.9Z"/>
<path class="p" d="M303.8 30.6L307.4 34.2L303.8 37.8L300.2 34.2Z"/>
<path class="g" d="M213.9 195.1L219.5 195.1L219.5 200.7L213.9 200.7Z"/>
<path class="r" d="M138.5 175.2L141.1 175.2L141.1 177.8L143.7 177.8L143.7 180.4L141.1 180.4L141.1 183L138.5 183L138.5 180.4L135.9 180.4L135.9 177.8L138.5 177.8Z"/>
<path class="y" d="M299.3 140.9L298.5 143.8L299.3 146.6L296.5 145.8L293.6 146.6L294.5 143.8L293.6 140.9L296.5 141.8Z"/>
<path class="g" d="M211.7 225L217.4 225L217.4 230.7L211.7 230.7Z"/>
<path class="k" d="M460.6 139.6L464.6 147.6L456.6 147.6Z"/>
<path class="n" d="M369.6 230.3L371 232.9L373.6 234.3L371 235.8L369.6 238.3L368.2 235.8L365.6 234.3L368.2 232.9Z"/>
<path class="y" d="M261 124.9L260.1 127.7L261 130.6L258.1 129.7L255.3 130.6L256.1 127.7L255.3 124.9L258.1 125.7Z"/>
<path class="y" d="M310.5 117.8L309.6 120.6L310.5 123.4L307.6 122.6L304.8 123.4L305.6 120.6L304.8 117.8L307.6 118.6Z"/>
<path class="r" d="M130.6 189.4L133.2 189.4L133.2 192L135.8 192L135.8 194.6L133.2 194.6L133.2 197.2L130.6 197.2L130.6 194.6L128 194.6L128 192L130.6 192Z"/>
<path class="r" d="M122.8 202.7L125.4 202.7L125.4 205.3L128 205.3L128 207.9L125.4 207.9L125.4 210.5L122.8 210.5L122.8 207.9L120.2 207.9L120.2 205.3L122.8 205.3Z"/>
<path class="k" d="M448.4 136.4L452.4 144.4L444.4 144.4Z"/>
<path class="k" d="M476.5 139.2L480.5 147.2L472.5 147.2Z"/>
<path class="r" d="M84.2 166.4L86.8 166.4L86.8 169L89.4 169L89.4 171.6L86.8 171.6L86.8 174.2L84.2 174.2L84.2 171.6L81.6 171.6L81.6 169L84.2 169Z"/>
<path class="p" d="M347.2 32.5L350.8 36.1L347.2 39.7L343.6 36.1Z"/>
<path class="r" d="M125.2 196.4L127.8 196.4L127.8 199L130.4 199L130.4 201.6L127.8 201.6L127.8 204.2L125.2 204.2L125.2 201.6L122.6 201.6L122.6 199L125.2 199Z"/>
<path class="k" d="M491.9 126.6L495.9 134.6L487.9 134.6Z"/>
<path class="g" d="M222.3 212.8L228 212.8L228 218.4L222.3 218.4Z"/>
<path class="p" d="M244 55.4L247.6 59L244 62.6L240.4 59Z"/>
<path class="p" d="M248.3 59.5L251.9 63.1L248.3 66.7L244.7 63.1Z"/>
<path class="y" d="M268.2 109.9L267.3 112.7L268.2 115.6L265.3 114.7L262.5 115.6L263.3 112.7L262.5 109.9L265.3 110.7Z"/>
<path class="p" d="M337.3 45.2L340.9 48.8L337.3 52.4L333.7 48.8Z"/>
<path class="n" d="M410.1 222.4L411.5 225L414.1 226.4L411.5 227.8L410.1 230.4L408.7 227.8L406.1 226.4L408.7 225Z"/>
<path class="k" d="M471.5 139.2L475.5 147.2L467.5 147.2Z"/>
<path class="o" d="M283.9 327.3L286 329.4L284.4 331L286 332.6L283.9 334.7L282.3 333.1L280.7 334.7L278.6 332.6L280.2 331L278.6 329.4L280.7 327.3L282.3 328.9Z"/>
<path class="k" d="M489.4 114.7L493.4 122.7L485.4 122.7Z"/>
<path class="r" d="M125.5 175.9L128.1 175.9L128.1 178.5L130.7 178.5L130.7 181.1L128.1 181.1L128.1 183.7L125.5 183.7L125.5 181.1L122.9 181.1L122.9 178.5L125.5 178.5Z"/>
<path class="k" d="M445.6 106.4L449.6 114.4L441.6 114.4Z"/>
<path class="p" d="M289.4 27.3L293 30.9L289.4 34.5L285.8 30.9Z"/>
<path class="y" d="M341 126.8L340.2 129.6L341 132.4L338.2 131.6L335.4 132.4L336.2 129.6L335.4 126.8L338.2 127.6Z"/>
<path class="o" d="M294.1 329.8L296.2 331.9L294.6 333.5L296.2 335.1L294.1 337.2L292.5 335.6L290.9 337.2L288.8 335.1L290.4 333.5L288.8 331.9L290.9 329.8L292.5 331.4Z"/>
<path class="y" d="M263.3 113.2L262.5 116L263.3 118.8L260.5 118L257.7 118.8L258.5 116L257.7 113.2L260.5 114Z"/>
<circle class="b" cx="466.2" cy="257.1" r="4"/>
<path class="n" d="M398.9 218.5L400.3 221.1L402.9 222.5L400.3 223.9L398.9 226.5L397.5 223.9L394.9 222.5L397.5 221.1Z"/>
<path class="p" d="M316.8 44.4L320.4 48L316.8 51.6L313.2 48Z"/>
<path class="k" d="M464.7 109.2L468.7 117.2L460.7 117.2Z"/>
<path class="n" d="M353.6 213.8L355 216.4L357.6 217.8L355 219.2L353.6 221.8L352.2 219.2L349.6 217.8L352.2 216.4Z"/>
<path class="k" d="M429.9 132L433.9 140L425.9 140Z"/>
<path class="n" d="M336.4 211.4L337.8 213.9L340.4 215.4L337.8 216.8L336.4 219.4L335 216.8L332.4 215.4L335 213.9Z"/>
<path class="k" d="M406.8 126.5L410.8 134.5L402.8 134.5Z"/>
<path class="r" d="M169.4 169.9L172 169.9L172 172.5L174.6 172.5L174.6 175.1L172 175.1L172 177.7L169.4 177.7L169.4 175.1L166.8 175.1L166.8 172.5L169.4 172.5Z"/>
<path class="o" d="M290.4 332.1L292.5 334.2L290.9 335.8L292.5 337.4L290.4 339.5L288.8 337.9L287.2 339.5L285.1 337.4L286.7 335.8L285.1 334.2L287.2 332.1L288.8 333.7Z"/>
<path class="g" d="M194.4 221.3L200.1 221.3L200.1 226.9L194.4 226.9Z"/>
<path class="y" d="M257.1 134.4L256.2 137.2L257.1 140.1L254.2 139.2L251.4 140.1L252.2 137.2L251.4 134.4L254.2 135.2Z"/>
<path class="n" d="M368.6 205.9L370 208.5L372.6 209.9L370 211.3L368.6 213.9L367.1 211.3L364.6 209.9L367.1 208.5Z"/>
<path class="n" d="M379.8 206.1L381.2 208.6L383.8 210.1L381.2 211.5L379.8 214.1L378.4 211.5L375.8 210.1L378.4 208.6Z"/>
<path class="g" d="M194.4 208.2L200 208.2L200 213.9L194.4 213.9Z"/>
<path class="n" d="M365.5 188.4L366.9 191L369.5 192.4L366.9 193.8L365.5 196.4L364.1 193.8L361.5 192.4L364.1 191Z"/>
<path class="k" d="M441.1 104.5L445.1 112.5L437.1 112.5Z"/>
<path class="n" d="M375.6 222.3L377 224.9L379.6 226.3L377 227.7L375.6 230.3L374.2 227.7L371.6 226.3L374.2 224.9Z"/>
<path class="r" d="M94.1 176.6L96.7 176.6L96.7 179.2L99.3 179.2L99.3 181.8L96.7 181.8L96.7 184.4L94.1 184.4L94.1 181.8L91.5 181.8L91.5 179.2L94.1 179.2Z"/>
<circle class="b" cx="481.8" cy="225.7" r="4"/>
<circle class="b" cx="448.6" cy="268.8" r="4"/>
<path class="p" d="M275.7 42.6L279.3 46.2L275.7 49.8L272.1 46.2Z"/>
<circle class="b" cx="471.5" cy="243" r="4"/>
<circle class="b" cx="440.7" cy="265" r="4"/>
<path class="r" d="M162.2 174.3L164.8 174.3L164.8 176.9L167.4 176.9L167.4 179.5L164.8 179.5L164.8 182.1L162.2 182.1L162.2 179.5L159.6 179.5L159.6 176.9L162.2 176.9Z"/>
<path class="n" d="M343.6 217.4L345 220L347.6 221.4L345 222.8L343.6 225.4L342.2 222.8L339.6 221.4L342.2 220Z"/>
<path class="p" d="M305.5 53.5L309.1 57.1L305.5 60.7L301.9 57.1Z"/>
<path class="n" d="M477 257L478.4 259.6L481 261L478.4 262.4L477 265L475.6 262.4L473 261L475.6 259.6Z"/>
<path class="n" d="M343.6 197.3L345 199.9L347.6 201.3L345 202.7L343.6 205.3L342.2 202.7L339.6 201.3L342.2 199.9Z"/>
<path class="g" d="M203 212.8L208.7 212.8L208.7 218.5L203 218.5Z"/>
<path class="n" d="M357.6 203.9L359 206.5L361.6 207.9L359 209.3L357.6 211.9L356.2 209.3L353.6 207.9L356.2 206.5Z"/>
<circle class="b" cx="463.7" cy="278.3" r="4"/>
<path class="p" d="M301.5 58.9L305.1 62.5L301.5 66.1L297.9 62.5Z"/>
<path class="g" d="M240.8 212L246.5 212L246.5 217.6L240.8 217.6Z"/>
<path class="n" d="M463 227L464.4 229.6L467 231L464.4 232.4L463 235L461.6 232.4L459 231L461.6 229.6Z"/>
<path class="k" d="M405.3 108.2L409.3 116.2L401.3 116.2Z"/>
<path class="g" d="M252.5 194L258.1 194L258.1 199.7L252.5 199.7Z"/>
<circle class="b" cx="439.9" cy="276.1" r="4"/>
<circle class="b" cx="483.8" cy="233.5" r="4"/>
<path class="g" d="M148.3 177L153.9 177L153.9 182.6L148.3 182.6Z"/>
<circle class="b" cx="416.2" cy="247.6" r="4"/>
<path class="g" d="M197.9 204.6L203.5 204.6L203.5 210.2L197.9 210.2Z"/>
<path class="k" d="M465.8 100.2L469.8 108.2L461.8 108.2Z"/>
<path class="n" d="M352.1 199.5L353.5 202.1L356.1 203.5L353.5 204.9L352.1 207.5L350.7 204.9L348.1 203.5L350.7 202.1Z"/>
<path class="o" d="M251.1 293.8L253.2 295.9L251.6 297.5L253.2 299.1L251.1 301.2L249.5 299.6L247.9 301.2L245.8 299.1L247.4 297.5L245.8 295.9L247.9 293.8L249.5 295.4Z"/>
<path class="n" d="M424.3 231.7L425.7 234.3L428.3 235.7L425.7 237.1L424.3 239.7L422.9 237.1L420.3 235.7L422.9 234.3Z"/>
<path class="r" d="M119.3 160L121.9 160L121.9 162.6L124.5 162.6L124.5 165.2L121.9 165.2L121.9 167.8L119.3 167.8L119.3 165.2L116.7 165.2L116.7 162.6L119.3 162.6Z"/>
<path class="p" d="M323.8 49.3L327.4 52.9L323.8 56.5L320.2 52.9Z"/>
<path class="r" d="M144 203.5L146.6 203.5L146.6 206.1L149.2 206.1L149.2 208.7L146.6 208.7L146.6 211.3L144 211.3L144 208.7L141.4 208.7L141.4 206.1L144 206.1Z"/>
<path class="r" d="M151 200.1L153.6 200.1L153.6 202.7L156.2 202.7L156.2 205.3L153.6 205.3L153.6 207.9L151 207.9L151 205.3L148.4 205.3L148.4 202.7L151 202.7Z"/>
<path class="g" d="M241.3 225L246.9 225L246.9 230.7L241.3 230.7Z"/>
<circle class="b" cx="438.2" cy="271.2" r="4"/>
<path class="y" d="M338.2 130.7L337.4 133.5L338.2 136.3L335.4 135.5L332.5 136.3L333.4 133.5L332.5 130.7L335.4 131.5Z"/>
<path class="p" d="M317.8 38.7L321.4 42.3L317.8 45.9L314.2 42.3Z"/>
<path class="k" d="M420.5 117.5L424.5 125.5L416.5 125.5Z"/>
<path class="r" d="M107.5 169L110.1 169L110.1 171.6L112.7 171.6L112.7 174.2L110.1 174.2L110.1 176.8L107.5 176.8L107.5 174.2L104.9 174.2L104.9 171.6L107.5 171.6Z"/>
<path class="p" d="M310.6 38.1L314.2 41.7L310.6 45.3L307 41.7Z"/>
<path class="g" d="M158 160.5L163.7 160.5L163.7 166.1L158 166.1Z"/>
<path class="n" d="M393.1 221.4L394.5 224L397.1 225.4L394.5 226.9L393.1 229.4L391.7 226.9L389.1 225.4L391.7 224Z"/>
<path class="g" d="M258.2 220.7L263.9 220.7L263.9 226.4L258.2 226.4Z"/>
<path class="r" d="M155.3 185.6L157.9 185.6L157.9 188.2L160.5 188.2L160.5 190.8L157.9 190.8L157.9 193.4L155.3 193.4L155.3 190.8L152.7 190.8L152.7 188.2L155.3 188.2Z"/>
<path class="o" d="M273.5 310L275.6 312.1L274 313.7L275.6 315.3L273.5 317.4L271.9 315.8L270.3 317.4L268.2 315.3L269.8 313.7L268.2 312.1L270.3 310L271.9 311.6Z"/>
<path class="k" d="M466.7 131.7L470.7 139.7L462.7 139.7Z"/>
<circle class="b" cx="498.5" cy="255.3" r="4"/>
<path class="n" d="M368.5 214L369.9 216.6L372.5 218L369.9 219.4L368.5 222L367 219.4L364.5 218L367 216.6Z"/>
<path class="g" d="M230.1 186.3L235.8 186.3L235.8 192L230.1 192Z"/>
<path class="y" d="M342.6 130.1L341.7 132.9L342.6 135.7L339.7 134.9L336.9 135.7L337.7 132.9L336.9 130.1L339.7 130.9Z"/>
<path class="y" d="M351.8 130.8L351 133.6L351.8 136.5L349 135.6L346.1 136.5L347 133.6L346.1 130.8L349 131.6Z"/>
<path class="y" d="M300 126.6L299.2 129.5L300 132.3L297.2 131.5L294.3 132.3L295.2 129.5L294.3 126.6L297.2 127.5Z"/>
<circle class="b" cx="491.5" cy="261" r="4"/>
<path class="p" d="M319.5 53.1L323.1 56.7L319.5 60.3L315.9 56.7Z"/>
<path class="r" d="M128.9 166.1L131.5 166.1L131.5 168.7L134.1 168.7L134.1 171.3L131.5 171.3L131.5 173.9L128.9 173.9L128.9 171.3L126.3 171.3L126.3 168.7L128.9 168.7Z"/>
<path class="r" d="M88 186.1L90.6 186.1L90.6 188.7L93.2 188.7L93.2 191.3L90.6 191.3L90.6 193.9L88 193.9L88 191.3L85.4 191.3L85.4 188.7L88 188.7Z"/>
<path class="k" d="M465.9 115.3L469.9 123.3L461.9 123.3Z"/>
<path class="n" d="M356.5 223.4L357.9 226L360.5 227.4L357.9 228.9L356.5 231.4L355.1 228.9L352.5 227.4L355.1 226Z"/>
<path class="g" d="M220.6 228.5L226.3 228.5L226.3 234.2L220.6 234.2Z"/>
<path class="p" d="M323.4 54.3L327 57.9L323.4 61.5L319.8 57.9Z"/>
<path class="y" d="M279.9 132.4L279 135.3L279.9 138.1L277 137.3L274.2 138.1L275 135.3L274.2 132.4L277 133.3Z"/>
<path class="k" d="M488.3 108.9L492.3 116.9L484.3 116.9Z"/>
<path class="g" d="M245.7 225.3L251.3 225.3L251.3 231L245.7 231Z"/>
<circle class="b" cx="494.6" cy="251.7" r="4"/>
<path class="n" d="M342.7 212.8L344.1 215.4L346.7 216.8L344.1 218.2L342.7 220.8L341.3 218.2L338.7 216.8L341.3 215.4Z"/>
<path class="y" d="M327 120.5L326.2 123.3L327 126.1L324.2 125.3L321.3 126.1L322.2 123.3L321.3 120.5L324.2 121.3Z"/>
<path class="o" d="M274.4 339.9L276.5 342L274.9 343.6L276.5 345.2L274.4 347.3L272.8 345.7L271.2 347.3L269.1 345.2L270.7 343.6L269.1 342L271.2 339.9L272.8 341.5Z"/>
<circle class="b" cx="459.5" cy="252.4" r="4"/>
<path class="g" d="M234.6 205.7L240.3 205.7L240.3 211.3L234.6 211.3Z"/>
<path class="o" d="M268.2 298.5L270.3 300.6L268.7 302.2L270.3 303.8L268.2 305.9L266.6 304.3L265 305.9L262.9 303.8L264.5 302.2L262.9 300.6L265 298.5L266.6 300.1Z"/>
<path class="p" d="M282.6 31.3L286.2 34.9L282.6 38.5L279 34.9Z"/>
<path class="r" d="M137 187.2L139.6 187.2L139.6 189.8L142.2 189.8L142.2 192.4L139.6 192.4L139.6 195L137 195L137 192.4L134.4 192.4L134.4 189.8L137 189.8Z"/>
<path class="g" d="M214 208.4L219.7 208.4L219.7 214.1L214 214.1Z"/>
<path class="r" d="M99.9 196.7L102.5 196.7L102.5 199.3L105.1 199.3L105.1 201.9L102.5 201.9L102.5 204.5L99.9 204.5L99.9 201.9L97.3 201.9L97.3 199.3L99.9 199.3Z"/>
<path class="p" d="M338.3 49.3L341.9 52.9L338.3 56.5L334.7 52.9Z"/>
<path class="k" d="M498.3 141.9L502.3 149.9L494.3 149.9Z"/>
<path class="o" d="M271.5 295.6L273.6 297.7L272 299.3L273.6 301L271.5 303L269.9 301.4L268.3 303L266.2 301L267.8 299.3L266.2 297.7L268.3 295.6L269.9 297.3Z"/>
<path class="r" d="M111.3 170L113.9 170L113.9 172.6L116.5 172.6L116.5 175.2L113.9 175.2L113.9 177.8L111.3 177.8L111.3 175.2L108.7 175.2L108.7 172.6L111.3 172.6Z"/>
<path class="p" d="M309.4 47.7L313 51.3L309.4 54.9L305.8 51.3Z"/>
<path class="r" d="M85.4 170.6L88 170.6L88 173.2L90.6 173.2L90.6 175.8L88 175.8L88 178.4L85.4 178.4L85.4 175.8L82.8 175.8L82.8 173.2L85.4 173.2Z"/>
<path class="g" d="M220.8 221.1L226.5 221.1L226.5 226.8L220.8 226.8Z"/>
<path class="n" d="M440.9 216.3L442.3 218.9L444.9 220.3L442.3 221.7L440.9 224.3L439.5 221.7L436.9 220.3L439.5 218.9Z"/>
<circle class="b" cx="475.6" cy="230" r="4"/>
<path class="r" d="M144.6 184.1L147.2 184.1L147.2 186.7L149.8 186.7L149.8 189.3L147.2 189.3L147.2 191.9L144.6 191.9L144.6 189.3L142 189.3L142 186.7L144.6 186.7Z"/>
<path class="k" d="M467 145.7L471 153.7L463 153.7Z"/>
<path class="g" d="M185.5 198.7L191.1 198.7L191.1 204.3L185.5 204.3Z"/>
<path class="p" d="M316.7 55.8L320.3 59.4L316.7 63L313.1 59.4Z"/>
<path class="n" d="M383 216.8L384.4 219.4L387 220.8L384.4 222.2L383 224.8L381.5 222.2L379 220.8L381.5 219.4Z"/>
<path class="g" d="M233.1 209.1L238.7 209.1L238.7 214.7L233.1 214.7Z"/>
<path class="y" d="M241.4 111.1L240.6 114L241.4 116.8L238.6 116L235.8 116.8L236.6 114L235.8 111.1L238.6 112Z"/>
<path class="n" d="M459 215L460.4 217.6L463 219L460.4 220.4L459 223L457.6 220.4L455 219L457.6 217.6Z"/>
<path class="o" d="M291.9 342L294 344.1L292.4 345.7L294 347.3L291.9 349.4L290.3 347.8L288.7 349.4L286.6 347.3L288.2 345.7L286.6 344.1L288.7 342L290.3 343.6Z"/>
<path class="y" d="M330.6 135.9L329.8 138.8L330.6 141.6L327.8 140.8L325 141.6L325.8 138.8L325 135.9L327.8 136.8Z"/>
<path class="r" d="M137.3 200.7L139.9 200.7L139.9 203.3L142.5 203.3L142.5 205.9L139.9 205.9L139.9 208.5L137.3 208.5L137.3 205.9L134.7 205.9L134.7 203.3L137.3 203.3Z"/>
<path class="g" d="M155.9 191.2L161.5 191.2L161.5 196.9L155.9 196.9Z"/>
<path class="k" d="M470.9 148.2L474.9 156.2L466.9 156.2Z"/>
<path class="o" d="M280.6 284.2L282.7 286.3L281.1 287.9L282.7 289.5L280.6 291.6L279 290L277.4 291.6L275.3 289.5L276.9 287.9L275.3 286.3L277.4 284.2L279 285.8Z"/>
<path class="o" d="M276.2 296.8L278.3 298.9L276.7 300.5L278.3 302.1L276.2 304.2L274.6 302.6L273 304.2L270.9 302.1L272.5 300.5L270.9 298.9L273 296.8L274.6 298.4Z"/>
<circle class="b" cx="449.7" cy="242.2" r="4"/>
<path class="y" d="M296.4 117L295.6 119.8L296.4 122.6L293.6 121.8L290.7 122.6L291.6 119.8L290.7 117L293.6 117.8Z"/>
<circle class="b" cx="414.9" cy="252.5" r="4"/>
<path class="y" d="M292.6 137.5L291.7 140.3L292.6 143.2L289.7 142.3L286.9 143.2L287.7 140.3L286.9 137.5L289.7 138.3Z"/>
<path class="n" d="M414.3 260.3L415.7 262.9L418.3 264.3L415.7 265.7L414.3 268.3L412.9 265.7L410.3 264.3L412.9 262.9Z"/>
<path class="p" d="M256.9 39.7L260.5 43.3L256.9 46.9L253.3 43.3Z"/>
<path class="p" d="M312.6 56.7L316.2 60.3L312.6 63.9L309 60.3Z"/>
<path class="o" d="M310.2 326.1L312.3 328.2L310.7 329.8L312.3 331.4L310.2 333.5L308.6 331.9L307 333.5L304.9 331.4L306.5 329.8L304.9 328.2L307 326.1L308.6 327.7Z"/>
<circle class="b" cx="424.1" cy="235.2" r="4"/>
<path class="k" d="M514 134.6L518 142.6L510 142.6Z"/>
<path class="k" d="M429.5 110.9L433.5 118.9L425.5 118.9Z"/>
<path class="g" d="M220.7 193.5L226.3 193.5L226.3 199.2L220.7 199.2Z"/>
<path class="r" d="M115.7 178.3L118.3 178.3L118.3 180.9L120.9 180.9L120.9 183.5L118.3 183.5L118.3 186.1L115.7 186.1L115.7 183.5L113.1 183.5L113.1 180.9L115.7 180.9Z"/>
<path class="g" d="M204.2 208.9L209.9 208.9L209.9 214.6L204.2 214.6Z"/>
<path class="o" d="M301.6 333.4L303.7 335.4L302.1 337.1L303.7 338.7L301.6 340.8L300 339.1L298.4 340.8L296.3 338.7L297.9 337.1L296.3 335.4L298.4 333.4L300 335Z"/>
<circle class="b" cx="416.5" cy="212.5" r="4"/>
<path class="y" d="M345.1 125.1L344.2 127.9L345.1 130.8L342.2 129.9L339.4 130.8L340.2 127.9L339.4 125.1L342.2 125.9Z"/>
<path class="n" d="M349.9 192.2L351.3 194.8L353.9 196.2L351.3 197.6L349.9 200.2L348.5 197.6L345.9 196.2L348.5 194.8Z"/>
<path class="p" d="M256.4 54.5L260 58.1L256.4 61.7L252.8 58.1Z"/>
<path class="p" d="M328.7 46.6L332.3 50.2L328.7 53.8L325.1 50.2Z"/>
<path class="p" d="M226.6 42.6L230.2 46.2L226.6 49.8L223 46.2Z"/>
<circle class="b" cx="446.7" cy="277.1" r="4"/>
<path class="r" d="M164.4 198.3L167 198.3L167 200.9L169.6 200.9L169.6 203.5L167 203.5L167 206.1L164.4 206.1L164.4 203.5L161.8 203.5L161.8 200.9L164.4 200.9Z"/>
<path class="k" d="M489.2 123.4L493.2 131.4L485.2 131.4Z"/>
<path class="n" d="M410.5 210.8L411.9 213.3L414.5 214.8L411.9 216.2L410.5 218.8L409 216.2L406.5 214.8L409 213.3Z"/>
<path class="k" d="M518.1 136.4L522.1 144.4L514.1 144.4Z"/>
<circle class="b" cx="448.6" cy="258.3" r="4"/>
<path class="o" d="M300.2 313.6L302.3 315.7L300.7 317.3L302.3 318.9L300.2 321L298.6 319.4L297 321L294.9 318.9L296.5 317.3L294.9 315.7L297 313.6L298.6 315.2Z"/>
<path class="o" d="M284.9 295L287 297.1L285.4 298.7L287 300.3L284.9 302.4L283.3 300.8L281.7 302.4L279.6 300.3L281.2 298.7L279.6 297.1L281.7 295L283.3 296.6Z"/>
<path class="o" d="M316 300.5L318 302.6L316.4 304.2L318 305.8L316 307.9L314.3 306.3L312.7 307.9L310.6 305.8L312.3 304.2L310.6 302.6L312.7 300.5L314.3 302.1Z"/>
<path class="g" d="M192.3 177.5L197.9 177.5L197.9 183.1L192.3 183.1Z"/>
<path class="o" d="M326.2 304.5L328.3 306.6L326.7 308.2L328.3 309.8L326.2 311.9L324.6 310.3L323 311.9L320.9 309.8L322.5 308.2L320.9 306.6L323 304.5L324.6 306.1Z"/>
<path class="g" d="M158.6 158.8L164.2 158.8L164.2 164.4L158.6 164.4Z"/>
<path class="o" d="M292 336.5L294.1 338.6L292.5 340.2L294.1 341.8L292 343.9L290.4 342.3L288.8 343.9L286.7 341.8L288.3 340.2L286.7 338.6L288.8 336.5L290.4 338.1Z"/>
<path class="n" d="M415.8 217.3L417.3 219.8L419.8 221.3L417.3 222.7L415.8 225.3L414.4 222.7L411.8 221.3L414.4 219.8Z"/>
<circle class="b" cx="502.3" cy="233.7" r="4"/>
<circle class="b" cx="506.1" cy="237.2" r="4"/>
<path class="g" d="M197.2 177.5L202.9 177.5L202.9 183.2L197.2 183.2Z"/>
<path class="g" d="M167.4 168.7L173.1 168.7L173.1 174.4L167.4 174.4Z"/>
<path class="y" d="M331.6 121.8L330.8 124.7L331.6 127.5L328.8 126.7L326 127.5L326.8 124.7L326 121.8L328.8 122.7Z"/>
<path class="p" d="M302.9 44.2L306.5 47.8L302.9 51.4L299.3 47.8Z"/>
<path class="o" d="M296.8 334L298.9 336.1L297.3 337.7L298.9 339.3L296.8 341.4L295.2 339.8L293.6 341.4L291.5 339.3L293.1 337.7L291.5 336.1L293.6 334L295.2 335.6Z"/>
<path class="p" d="M331.4 52.4L335 56L331.4 59.6L327.8 56Z"/>
<path class="r" d="M127.7 171.9L130.3 171.9L130.3 174.5L132.9 174.5L132.9 177.1L130.3 177.1L130.3 179.7L127.7 179.7L127.7 177.1L125.1 177.1L125.1 174.5L127.7 174.5Z"/>
<path class="r" d="M114.1 192.5L116.7 192.5L116.7 195.1L119.3 195.1L119.3 197.7L116.7 197.7L116.7 200.3L114.1 200.3L114.1 197.7L111.5 197.7L111.5 195.1L114.1 195.1Z"/>
<path class="p" d="M255.6 27.3L259.2 30.9L255.6 34.5L252 30.9Z"/>
<path class="y" d="M263.3 120.4L262.5 123.2L263.3 126L260.5 125.2L257.7 126L258.5 123.2L257.7 120.4L260.5 121.2Z"/>
<circle class="b" cx="446.2" cy="272.8" r="4"/>
<path class="y" d="M294.1 141.7L293.3 144.5L294.1 147.3L291.3 146.5L288.5 147.3L289.3 144.5L288.5 141.7L291.3 142.5Z"/>
<path class="o" d="M330.5 327.9L332.6 330L331 331.6L332.6 333.2L330.5 335.3L328.9 333.7L327.3 335.3L325.2 333.2L326.8 331.6L325.2 330L327.3 327.9L328.9 329.5Z"/>
<path class="p" d="M248.8 50.4L252.4 54L248.8 57.6L245.2 54Z"/>
<path class="y" d="M308.8 139.1L307.9 142L308.8 144.8L305.9 144L303.1 144.8L303.9 142L303.1 139.1L305.9 140Z"/>
<path class="k" d="M457.5 111.4L461.5 119.4L453.5 119.4Z"/>
<path class="y" d="M322.5 119.6L321.7 122.4L322.5 125.2L319.7 124.4L316.8 125.2L317.7 122.4L316.8 119.6L319.7 120.4Z"/>
<path class="k" d="M493.5 134.8L497.5 142.8L489.5 142.8Z"/>
<path class="p" d="M320.8 35.5L324.4 39.1L320.8 42.7L317.2 39.1Z"/>
<path class="o" d="M264.7 327.3L266.8 329.4L265.2 331L266.8 332.6L264.7 334.7L263.1 333.1L261.5 334.7L259.4 332.6L261 331L259.4 329.4L261.5 327.3L263.1 328.9Z"/>
<path class="k" d="M401.9 127.3L405.9 135.3L397.9 135.3Z"/>
<path class="g" d="M203.5 203.7L209.2 203.7L209.2 209.3L203.5 209.3Z"/>
<path class="n" d="M403.6 202.5L405 205L407.6 206.5L405 207.9L403.6 210.5L402.2 207.9L399.6 206.5L402.2 205Z"/>
<path class="k" d="M452.8 135.3L456.8 143.3L448.8 143.3Z"/>
<path class="p" d="M315.4 50.9L319 54.5L315.4 58.1L311.8 54.5Z"/>
<path class="y" d="M294 130.1L293.2 133L294 135.8L291.2 135L288.3 135.8L289.2 133L288.3 130.1L291.2 131Z"/>
<path class="n" d="M448.5 216.5L449.9 219.1L452.5 220.5L449.9 221.9L448.5 224.5L447.1 221.9L444.5 220.5L447.1 219.1Z"/>
<path class="r" d="M140.7 169.7L143.3 169.7L143.3 172.3L145.9 172.3L145.9 174.9L143.3 174.9L143.3 177.5L140.7 177.5L140.7 174.9L138.1 174.9L138.1 172.3L140.7 172.3Z"/>
<path class="n" d="M453.5 212.6L454.9 215.2L457.5 216.6L454.9 218L453.5 220.6L452.1 218L449.5 216.6L452.1 215.2Z"/>
<path class="n" d="M422.7 231.8L424.1 234.4L426.7 235.8L424.1 237.2L422.7 239.8L421.3 237.2L418.7 235.8L421.3 234.4Z"/>
<path class="y" d="M283.5 132L282.7 134.8L283.5 137.6L280.7 136.8L277.9 137.6L278.7 134.8L277.9 132L280.7 132.8Z"/>
<path class="p" d="M339.7 30.9L343.3 34.5L339.7 38.1L336.1 34.5Z"/>
<path class="k" d="M501.6 125.5L505.6 133.5L497.6 133.5Z"/>
<path class="n" d="M424.3 236.2L425.7 238.8L428.3 240.2L425.7 241.6L424.3 244.2L422.9 241.6L420.3 240.2L422.9 238.8Z"/>
<path class="y" d="M313.4 120.7L312.5 123.5L313.4 126.3L310.5 125.5L307.7 126.3L308.5 123.5L307.7 120.7L310.5 121.5Z"/>
<path class="o" d="M279.8 346.2L281.9 348.3L280.3 349.9L281.9 351.5L279.8 353.6L278.2 352L276.6 353.6L274.5 351.5L276.1 349.9L274.5 348.3L276.6 346.2L278.2 347.8Z"/>
<path class="k" d="M461.9 100.6L465.9 108.6L457.9 108.6Z"/>
<path class="r" d="M175.8 198.2L178.4 198.2L178.4 200.8L181 200.8L181 203.4L178.4 203.4L178.4 206L175.8 206L175.8 203.4L173.2 203.4L173.2 200.8L175.8 200.8Z"/>
<path class="n" d="M386.3 222.6L387.7 225.2L390.3 226.6L387.7 228L386.3 230.6L384.9 228L382.3 226.6L384.9 225.2Z"/>
<circle class="b" cx="503.8" cy="253.7" r="4"/>
<circle class="b" cx="510.1" cy="254.8" r="4"/>
<path class="p" d="M356.3 36.5L359.9 40.1L356.3 43.7L352.7 40.1Z"/>
<path class="g" d="M218.3 206.2L224 206.2L224 211.9L218.3 211.9Z"/>
<circle class="b" cx="511.3" cy="237.6" r="4"/>
<path class="n" d="M396.8 200.3L398.2 202.8L400.8 204.3L398.2 205.7L396.8 208.3L395.4 205.7L392.8 204.3L395.4 202.8Z"/>
<path class="r" d="M164.7 202.6L167.3 202.6L167.3 205.2L169.9 205.2L169.9 207.8L167.3 207.8L167.3 210.4L164.7 210.4L164.7 207.8L162.1 207.8L162.1 205.2L164.7 205.2Z"/>
<path class="r" d="M96.1 181.1L98.7 181.1L98.7 183.7L101.3 183.7L101.3 186.3L98.7 186.3L98.7 188.9L96.1 188.9L96.1 186.3L93.5 186.3L93.5 183.7L96.1 183.7Z"/>
<path class="g" d="M202.1 186.8L207.7 186.8L207.7 192.4L202.1 192.4Z"/>
<path class="k" d="M425.3 120.2L429.3 128.2L421.3 128.2Z"/>
<path class="r" d="M95.6 167.8L98.2 167.8L98.2 170.4L100.8 170.4L100.8 173L98.2 173L98.2 175.6L95.6 175.6L95.6 173L93 173L93 170.4L95.6 170.4Z"/>
<circle class="b" cx="482" cy="250.4" r="4"/>
<path class="p" d="M252.2 46.2L255.8 49.8L252.2 53.4L248.6 49.8Z"/>
<circle class="b" cx="495.3" cy="224" r="4"/>
<path class="n" d="M362.2 190.8L363.6 193.3L366.2 194.8L363.6 196.2L362.2 198.8L360.8 196.2L358.2 194.8L360.8 193.3Z"/>
<path class="p" d="M353.6 39.7L357.2 43.3L353.6 46.9L350 43.3Z"/>
<path class="k" d="M468.4 111L472.4 119L464.4 119Z"/>
<circle class="b" cx="430.3" cy="267.5" r="4"/>
<path class="g" d="M162.8 184.4L168.4 184.4L168.4 190.1L162.8 190.1Z"/>
<path class="y" d="M282.8 139.3L282 142.1L282.8 144.9L280 144.1L277.2 144.9L278 142.1L277.2 139.3L280 140.1Z"/>
<path class="r" d="M121.4 175.9L124 175.9L124 178.5L126.6 178.5L126.6 181.1L124 181.1L124 183.7L121.4 183.7L121.4 181.1L118.8 181.1L118.8 178.5L121.4 178.5Z"/>
<path class="p" d="M300.6 36.9L304.2 40.5L300.6 44.1L297 40.5Z"/>
<circle class="b" cx="423.5" cy="277.5" r="4"/>
<path class="n" d="M417.3 203.7L418.7 206.3L421.3 207.7L418.7 209.1L417.3 211.7L415.9 209.1L413.3 207.7L415.9 206.3Z"/>
<path class="g" d="M249 217.2L254.7 217.2L254.7 222.9L249 222.9Z"/>
<circle class="b" cx="492.3" cy="232.5" r="4"/>
<path class="g" d="M263.6 195.9L269.2 195.9L269.2 201.6L263.6 201.6Z"/>
<circle class="b" cx="500.4" cy="221.8" r="4"/>
<path class="n" d="M410.3 201.8L411.7 204.4L414.3 205.8L411.7 207.2L410.3 209.8L408.9 207.2L406.3 205.8L408.9 204.4Z"/>
<path class="k" d="M414.7 105.5L418.7 113.5L410.7 113.5Z"/>
<path class="g" d="M267 227.8L272.6 227.8L272.6 233.4L267 233.4Z"/>
<path class="o" d="M272.1 326.6L274.2 328.7L272.6 330.3L274.2 331.9L272.1 334L270.5 332.4L268.9 334L266.8 331.9L268.4 330.3L266.8 328.7L268.9 326.6L270.5 328.2Z"/>
<path class="p" d="M291.4 35.3L295 38.9L291.4 42.5L287.8 38.9Z"/>
<path class="o" d="M251.2 311.8L253.3 313.9L251.7 315.5L253.3 317.1L251.2 319.2L249.6 317.6L248 319.2L245.9 317.1L247.5 315.5L245.9 313.9L248 311.8L249.6 313.4Z"/>
<path class="p" d="M294.3 47.4L297.9 51L294.3 54.6L290.7 51Z"/>
<path class="k" d="M451.8 99.9L455.8 107.9L447.8 107.9Z"/>
<path class="p" d="M228.3 46.1L231.9 49.7L228.3 53.3L224.7 49.7Z"/>
<path class="g" d="M219.9 200.8L225.5 200.8L225.5 206.4L219.9 206.4Z"/>
<path class="g" d="M236.5 216.2L242.1 216.2L242.1 221.8L236.5 221.8Z"/>
<path class="n" d="M381.7 199.8L383.1 202.4L385.7 203.8L383.1 205.2L381.7 207.8L380.3 205.2L377.7 203.8L380.3 202.4Z"/>
<path class="k" d="M458.3 124.1L462.3 132.1L454.3 132.1Z"/>
<circle class="b" cx="475.1" cy="258.1" r="4"/>
<path class="n" d="M431.9 213.3L433.3 215.9L435.9 217.3L433.3 218.7L431.9 221.3L430.5 218.7L427.9 217.3L430.5 215.9Z"/>
<path class="k" d="M409.9 122.8L413.9 130.8L405.9 130.8Z"/>
<path class="r" d="M91.3 172.6L93.9 172.6L93.9 175.2L96.5 175.2L96.5 177.8L93.9 177.8L93.9 180.4L91.3 180.4L91.3 177.8L88.7 177.8L88.7 175.2L91.3 175.2Z"/>
<circle class="b" cx="479.2" cy="245.3" r="4"/>
<path class="o" d="M295.1 300.7L297.2 302.8L295.6 304.4L297.2 306L295.1 308.1L293.5 306.5L291.9 308.1L289.8 306L291.4 304.4L289.8 302.8L291.9 300.7L293.5 302.3Z"/>
<path class="k" d="M433.5 130.1L437.5 138.1L429.5 138.1Z"/>
<circle class="b" cx="476.1" cy="248.2" r="4"/>
<path class="r" d="M136.5 171.3L139.1 171.3L139.1 173.9L141.7 173.9L141.7 176.5L139.1 176.5L139.1 179.1L136.5 179.1L136.5 176.5L133.9 176.5L133.9 173.9L136.5 173.9Z"/>
<circle class="b" cx="481.4" cy="237.1" r="4"/>
<circle class="b" cx="462.9" cy="238.8" r="4"/>
<path class="y" d="M342.7 136.6L341.8 139.4L342.7 142.2L339.8 141.4L337 142.2L337.8 139.4L337 136.6L339.8 137.4Z"/>
<path class="o" d="M275.5 335.3L277.5 337.4L275.9 339L277.5 340.6L275.5 342.7L273.8 341.1L272.2 342.7L270.1 340.6L271.8 339L270.1 337.4L272.2 335.3L273.8 336.9Z"/>
<circle class="b" cx="421.3" cy="247.5" r="4"/>
<path class="n" d="M339.8 182.6L341.2 185.2L343.8 186.6L341.2 188L339.8 190.6L338.4 188L335.8 186.6L338.4 185.2Z"/>
<path class="o" d="M306.2 335.1L308.3 337.2L306.7 338.8L308.3 340.4L306.2 342.5L304.6 340.9L303 342.5L300.9 340.4L302.5 338.8L300.9 337.2L303 335.1L304.6 336.7Z"/>
<path class="o" d="M280.3 340.1L282.4 342.2L280.8 343.8L282.4 345.4L280.3 347.5L278.7 345.9L277.1 347.5L275 345.4L276.6 343.8L275 342.2L277.1 340.1L278.7 341.7Z"/>
<path class="p" d="M263.9 24.6L267.5 28.2L263.9 31.8L260.3 28.2Z"/>
<path class="r" d="M99.2 169.8L101.8 169.8L101.8 172.4L104.4 172.4L104.4 175L101.8 175L101.8 177.6L99.2 177.6L99.2 175L96.6 175L96.6 172.4L99.2 172.4Z"/>
<path class="o" d="M254.6 322.6L256.7 324.7L255.1 326.3L256.7 327.9L254.6 330L253 328.4L251.4 330L249.3 327.9L250.9 326.3L249.3 324.7L251.4 322.6L253 324.2Z"/>
<path class="k" d="M434.3 122.8L438.3 130.8L430.3 130.8Z"/>
<path class="p" d="M332.4 27.9L336 31.5L332.4 35.1L328.8 31.5Z"/>
<path class="g" d="M231.9 225.3L237.5 225.3L237.5 231L231.9 231Z"/>
<path class="r" d="M115.8 200.4L118.4 200.4L118.4 203L121 203L121 205.6L118.4 205.6L118.4 208.2L115.8 208.2L115.8 205.6L113.2 205.6L113.2 203L115.8 203Z"/>
<path class="g" d="M122 152.2L127.6 152.2L127.6 157.8L122 157.8Z"/>
<path class="n" d="M504 227L505.4 229.6L508 231L505.4 232.4L504 235L502.6 232.4L500 231L502.6 229.6Z"/>
<path class="n" d="M413.9 259.6L415.3 262.2L417.9 263.6L415.3 265L413.9 267.6L412.5 265L409.9 263.6L412.5 262.2Z"/>
<path class="k" d="M487.5 140L491.5 148L483.5 148Z"/>
<path class="n" d="M389.9 214.1L391.3 216.7L393.9 218.1L391.3 219.5L389.9 222.1L388.5 219.5L385.9 218.1L388.5 216.7Z"/>
<path class="p" d="M334.1 48.5L337.7 52.1L334.1 55.7L330.5 52.1Z"/>
<path class="k" d="M465.4 137.9L469.4 145.9L461.4 145.9Z"/>
<path class="y" d="M309.1 144.3L308.3 147.1L309.1 150L306.3 149.1L303.5 150L304.3 147.1L303.5 144.3L306.3 145.1Z"/>
<path class="y" d="M272.8 110.1L272 112.9L272.8 115.7L270 114.9L267.1 115.7L268 112.9L267.1 110.1L270 110.9Z"/>
<path class="n" d="M359.7 193.9L361.1 196.5L363.7 197.9L361.1 199.4L359.7 201.9L358.3 199.4L355.7 197.9L358.3 196.5Z"/>
<circle class="b" cx="406.5" cy="251.5" r="4"/>
<path class="o" d="M337.1 312L339.2 314.1L337.5 315.7L339.2 317.4L337.1 319.4L335.5 317.8L333.8 319.4L331.8 317.4L333.4 315.7L331.8 314.1L333.8 312L335.5 313.7Z"/>
<circle class="b" cx="436.3" cy="260.7" r="4"/>
<path class="k" d="M453.9 125.3L457.9 133.3L449.9 133.3Z"/>
<path class="y" d="M246.5 131.8L245.6 134.6L246.5 137.5L243.6 136.6L240.8 137.5L241.6 134.6L240.8 131.8L243.6 132.6Z"/>
<path class="r" d="M143.3 210.4L145.9 210.4L145.9 213L148.5 213L148.5 215.6L145.9 215.6L145.9 218.2L143.3 218.2L143.3 215.6L140.7 215.6L140.7 213L143.3 213Z"/>
<path class="g" d="M235.7 212.5L241.3 212.5L241.3 218.2L235.7 218.2Z"/>
<path class="y" d="M320 128.8L319.2 131.6L320 134.4L317.2 133.6L314.4 134.4L315.2 131.6L314.4 128.8L317.2 129.6Z"/>
<path class="k" d="M457 99.8L461 107.8L453 107.8Z"/>
<path class="o" d="M280.9 313.1L283 315.2L281.4 316.8L283 318.4L280.9 320.5L279.3 318.9L277.7 320.5L275.6 318.4L277.2 316.8L275.6 315.2L277.7 313.1L279.3 314.7Z"/>
<path class="o" d="M303 310.2L305.1 312.3L303.5 313.9L305.1 315.5L303 317.6L301.4 316L299.8 317.6L297.7 315.5L299.3 313.9L297.7 312.3L299.8 310.2L301.4 311.8Z"/>
<path class="y" d="M338.3 124.3L337.4 127.1L338.3 129.9L335.4 129.1L332.6 129.9L333.4 127.1L332.6 124.3L335.4 125.1Z"/>
<path class="y" d="M237.3 131.8L236.5 134.6L237.3 137.4L234.5 136.6L231.7 137.4L232.5 134.6L231.7 131.8L234.5 132.6Z"/>
<path class="g" d="M200.9 215.6L206.5 215.6L206.5 221.2L200.9 221.2Z"/>
<path class="n" d="M343.8 184.9L345.2 187.5L347.8 188.9L345.2 190.3L343.8 192.9L342.4 190.3L339.8 188.9L342.4 187.5Z"/>
<circle class="b" cx="452.7" cy="245.2" r="4"/>
<path class="r" d="M119.4 179.7L122 179.7L122 182.3L124.6 182.3L124.6 184.9L122 184.9L122 187.5L119.4 187.5L119.4 184.9L116.8 184.9L116.8 182.3L119.4 182.3Z"/>
<path class="g" d="M210.4 201.9L216 201.9L216 207.5L210.4 207.5Z"/>
<path class="p" d="M313.5 29.3L317.1 32.9L313.5 36.5L309.9 32.9Z"/>
<path class="k" d="M492.3 117.4L496.3 125.4L488.3 125.4Z"/>
<path class="k" d="M514.2 138.6L518.2 146.6L510.2 146.6Z"/>
<circle class="b" cx="483.4" cy="257" r="4"/>
<path class="g" d="M168.5 171.6L174.1 171.6L174.1 177.2L168.5 177.2Z"/>
<path class="g" d="M268.5 200.8L274.2 200.8L274.2 206.4L268.5 206.4Z"/>
<path class="o" d="M255 306.4L257.1 308.5L255.5 310.1L257.1 311.7L255 313.8L253.4 312.2L251.8 313.8L249.7 311.7L251.3 310.1L249.7 308.5L251.8 306.4L253.4 308Z"/>
<path class="k" d="M476.2 134.7L480.2 142.7L472.2 142.7Z"/>
<path class="g" d="M168.1 192.8L173.8 192.8L173.8 198.5L168.1 198.5Z"/>
<circle class="b" cx="441.5" cy="209.5" r="4"/>
<path class="p" d="M287.1 34.4L290.7 38L287.1 41.6L283.5 38Z"/>
<path class="n" d="M401.8 204.5L403.2 207.1L405.8 208.5L403.2 209.9L401.8 212.5L400.4 209.9L397.8 208.5L400.4 207.1Z"/>
<path class="g" d="M254.5 234.8L260.2 234.8L260.2 240.4L254.5 240.4Z"/>
<circle class="b" cx="417.2" cy="256.2" r="4"/>
<circle class="b" cx="456.6" cy="242.6" r="4"/>
<path class="r" d="M152 156.3L154.6 156.3L154.6 158.9L157.2 158.9L157.2 161.5L154.6 161.5L154.6 164.1L152 164.1L152 161.5L149.4 161.5L149.4 158.9L152 158.9Z"/>
<circle class="b" cx="498.8" cy="236.2" r="4"/>
<path class="n" d="M428.7 206.9L430.1 209.5L432.7 210.9L430.1 212.3L428.7 214.9L427.3 212.3L424.7 210.9L427.3 209.5Z"/>
<path class="g" d="M250 212.4L255.6 212.4L255.6 218L250 218Z"/>
<circle class="b" cx="451" cy="209.5" r="4"/>
<path class="y" d="M304.3 134.6L303.4 137.4L304.3 140.2L301.4 139.4L298.6 140.2L299.4 137.4L298.6 134.6L301.4 135.4Z"/>
<path class="n" d="M333.9 202.4L335.4 205L337.9 206.4L335.4 207.8L333.9 210.4L332.5 207.8L329.9 206.4L332.5 205Z"/>
<path class="o" d="M313.8 305.6L315.9 307.7L314.3 309.3L315.9 310.9L313.8 313L312.2 311.4L310.6 313L308.5 310.9L310.1 309.3L308.5 307.7L310.6 305.6L312.2 307.2Z"/>
<path class="o" d="M285.4 323.2L287.5 325.3L285.9 326.9L287.5 328.5L285.4 330.6L283.8 329L282.2 330.6L280.1 328.5L281.7 326.9L280.1 325.3L282.2 323.2L283.8 324.8Z"/>
<path class="y" d="M297.2 123.1L296.4 125.9L297.2 128.7L294.4 127.9L291.6 128.7L292.4 125.9L291.6 123.1L294.4 123.9Z"/>
<path class="y" d="M320.6 137.6L319.7 140.5L320.6 143.3L317.7 142.5L314.9 143.3L315.7 140.5L314.9 137.6L317.7 138.5Z"/>
<path class="k" d="M403 111.6L407 119.6L399 119.6Z"/>
<path class="g" d="M238.2 204L243.9 204L243.9 209.7L238.2 209.7Z"/>
<path class="o" d="M331.8 322.5L333.9 324.6L332.2 326.2L333.9 327.8L331.8 329.9L330.2 328.3L328.5 329.9L326.5 327.8L328.1 326.2L326.5 324.6L328.5 322.5L330.2 324.1Z"/>
<path class="n" d="M377.4 201.8L378.8 204.3L381.4 205.8L378.8 207.2L377.4 209.8L376 207.2L373.4 205.8L376 204.3Z"/>
<path class="n" d="M389.9 234.1L391.4 236.7L393.9 238.1L391.4 239.5L389.9 242.1L388.5 239.5L385.9 238.1L388.5 236.7Z"/>
<path class="n" d="M348.9 186L350.3 188.6L352.9 190L350.3 191.4L348.9 194L347.5 191.4L344.9 190L347.5 188.6Z"/>
<path class="y" d="M336.9 143.7L336 146.6L336.9 149.4L334 148.6L331.2 149.4L332 146.6L331.2 143.7L334 144.6Z"/>
<path class="r" d="M172.4 191.9L175 191.9L175 194.5L177.6 194.5L177.6 197.1L175 197.1L175 199.7L172.4 199.7L172.4 197.1L169.8 197.1L169.8 194.5L172.4 194.5Z"/>
<path class="k" d="M407.7 116.7L411.7 124.7L403.7 124.7Z"/>
<circle class="b" cx="438.8" cy="243.3" r="4"/>
<path class="k" d="M429.3 105.7L433.3 113.7L425.3 113.7Z"/>
<path class="g" d="M251.4 207.8L257.1 207.8L257.1 213.5L251.4 213.5Z"/>
<circle class="b" cx="490.8" cy="255.9" r="4"/>
<path class="p" d="M285.1 28.2L288.7 31.8L285.1 35.4L281.5 31.8Z"/>
<path class="o" d="M280.4 332.3L282.5 334.4L280.9 336L282.5 337.7L280.4 339.7L278.8 338.1L277.2 339.7L275.1 337.7L276.7 336L275.1 334.4L277.2 332.3L278.8 334Z"/>
<path class="r" d="M152.7 167.4L155.3 167.4L155.3 170L157.9 170L157.9 172.6L155.3 172.6L155.3 175.2L152.7 175.2L152.7 172.6L150.1 172.6L150.1 170L152.7 170Z"/>
<path class="r" d="M122.9 162.9L125.5 162.9L125.5 165.5L128.1 165.5L128.1 168.1L125.5 168.1L125.5 170.7L122.9 170.7L122.9 168.1L120.3 168.1L120.3 165.5L122.9 165.5Z"/>
<path class="y" d="M354.6 121.8L353.8 124.6L354.6 127.4L351.8 126.6L348.9 127.4L349.8 124.6L348.9 121.8L351.8 122.6Z"/>
<path class="g" d="M214.5 225.6L220.1 225.6L220.1 231.2L214.5 231.2Z"/>
<path class="g" d="M146.2 216.7L151.8 216.7L151.8 222.3L146.2 222.3Z"/>
<path class="o" d="M320.9 311.2L323 313.2L321.4 314.9L323 316.5L320.9 318.6L319.3 316.9L317.7 318.6L315.6 316.5L317.2 314.9L315.6 313.2L317.7 311.2L319.3 312.8Z"/>
<path class="g" d="M255.9 200.8L261.5 200.8L261.5 206.5L255.9 206.5Z"/>
<path class="g" d="M237 190.3L242.7 190.3L242.7 195.9L237 195.9Z"/>
<circle class="b" cx="407.4" cy="261.2" r="4"/>
<path class="o" d="M302.8 317.1L304.9 319.2L303.3 320.8L304.9 322.4L302.8 324.5L301.2 322.9L299.6 324.5L297.5 322.4L299.1 320.8L297.5 319.2L299.6 317.1L301.2 318.7Z"/>
<path class="o" d="M321.9 303.2L324 305.3L322.4 306.9L324 308.5L321.9 310.6L320.3 309L318.7 310.6L316.6 308.5L318.2 306.9L316.6 305.3L318.7 303.2L320.3 304.8Z"/>
<path class="k" d="M481.8 128.2L485.8 136.2L477.8 136.2Z"/>
<path class="p" d="M326.3 33.5L329.9 37.1L326.3 40.7L322.7 37.1Z"/>
<path class="p" d="M270.6 61.8L274.2 65.4L270.6 69L267 65.4Z"/>
<path class="n" d="M363.5 216L364.9 218.6L367.5 220L364.9 221.4L363.5 224L362.1 221.4L359.5 220L362.1 218.6Z"/>
<path class="g" d="M151.7 200.1L157.4 200.1L157.4 205.8L151.7 205.8Z"/>
<path class="k" d="M503.4 121.1L507.4 129.1L499.4 129.1Z"/>
<circle class="b" cx="433.9" cy="234.6" r="4"/>
<path class="p" d="M324.5 45.3L328.1 48.9L324.5 52.5L320.9 48.9Z"/>
<path class="r" d="M138.3 192.4L140.9 192.4L140.9 195L143.5 195L143.5 197.6L140.9 197.6L140.9 200.2L138.3 200.2L138.3 197.6L135.7 197.6L135.7 195L138.3 195Z"/>
<path class="g" d="M167.3 176.3L173 176.3L173 181.9L167.3 181.9Z"/>
<circle class="b" cx="436.6" cy="266.1" r="4"/>
<path class="g" d="M202.5 196.6L208.1 196.6L208.1 202.2L202.5 202.2Z"/>
<path class="p" d="M253.7 35.1L257.3 38.7L253.7 42.3L250.1 38.7Z"/>
<path class="k" d="M445.2 110.6L449.2 118.6L441.2 118.6Z"/>
<path class="g" d="M264.2 214.8L269.8 214.8L269.8 220.5L264.2 220.5Z"/>
<path class="k" d="M481 141.4L485 149.4L477 149.4Z"/>
<path class="n" d="M389.5 205.4L390.9 208L393.5 209.4L390.9 210.8L389.5 213.4L388.1 210.8L385.5 209.4L388.1 208Z"/>
<path class="k" d="M442 113.2L446 121.2L438 121.2Z"/>
<path class="y" d="M277.1 134.9L276.2 137.7L277.1 140.5L274.2 139.7L271.4 140.5L272.2 137.7L271.4 134.9L274.2 135.7Z"/>
<circle class="b" cx="487" cy="259.4" r="4"/>
<path class="k" d="M504.8 137.4L508.8 145.4L500.8 145.4Z"/>
<path class="g" d="M135.5 163.5L141.1 163.5L141.1 169.1L135.5 169.1Z"/>
<path class="o" d="M291.2 303.1L293.3 305.2L291.7 306.8L293.3 308.4L291.2 310.5L289.6 308.9L288 310.5L285.9 308.4L287.5 306.8L285.9 305.2L288 303.1L289.6 304.7Z"/>
<path class="g" d="M239.2 197.3L244.9 197.3L244.9 203L239.2 203Z"/>
<path class="k" d="M476.4 120.2L480.4 128.2L472.4 128.2Z"/>
<path class="n" d="M400.1 226.7L401.5 229.2L404.1 230.7L401.5 232.1L400.1 234.7L398.7 232.1L396.1 230.7L398.7 229.2Z"/>
<path class="r" d="M150.6 174.8L153.2 174.8L153.2 177.4L155.8 177.4L155.8 180L153.2 180L153.2 182.6L150.6 182.6L150.6 180L148 180L148 177.4L150.6 177.4Z"/>
<path class="n" d="M443.4 229.8L444.8 232.4L447.4 233.8L444.8 235.2L443.4 237.8L442 235.2L439.4 233.8L442 232.4Z"/>
<path class="y" d="M235.1 122L234.3 124.9L235.1 127.7L232.3 126.9L229.5 127.7L230.3 124.9L229.5 122L232.3 122.9Z"/>
<path class="k" d="M497.6 122.8L501.6 130.8L493.6 130.8Z"/>
<circle class="b" cx="434.5" cy="245.7" r="4"/>
<path class="n" d="M410.4 225.6L411.8 228.2L414.4 229.6L411.8 231L410.4 233.6L409 231L406.4 229.6L409 228.2Z"/>
<path class="g" d="M264 199.8L269.7 199.8L269.7 205.5L264 205.5Z"/>
<path class="k" d="M444.3 143L448.3 151L440.3 151Z"/>
<circle class="b" cx="487.4" cy="250.8" r="4"/>
<path class="r" d="M175.1 211.6L177.7 211.6L177.7 214.2L180.3 214.2L180.3 216.8L177.7 216.8L177.7 219.4L175.1 219.4L175.1 216.8L172.5 216.8L172.5 214.2L175.1 214.2Z"/>
<path class="o" d="M274 319.8L276.1 321.9L274.5 323.5L276.1 325.1L274 327.2L272.4 325.6L270.8 327.2L268.7 325.1L270.3 323.5L268.7 321.9L270.8 319.8L272.4 321.4Z"/>
<path class="n" d="M380.3 224.9L381.7 227.5L384.3 228.9L381.7 230.3L380.3 232.9L378.9 230.3L376.3 228.9L378.9 227.5Z"/>
<path class="k" d="M419.4 103.8L423.4 111.8L415.4 111.8Z"/>
<circle class="b" cx="430.5" cy="263.1" r="4"/>
<path class="p" d="M291.5 39.3L295.1 42.9L291.5 46.5L287.9 42.9Z"/>
<path class="g" d="M230.2 237.4L235.8 237.4L235.8 243.1L230.2 243.1Z"/>
<path class="g" d="M210.5 232.4L216.2 232.4L216.2 238L210.5 238Z"/>
<path class="p" d="M301.4 54.4L305 58L301.4 61.6L297.8 58Z"/>
<path class="y" d="M313.9 130.9L313 133.8L313.9 136.6L311 135.8L308.2 136.6L309 133.8L308.2 130.9L311 131.8Z"/>
<path class="y" d="M289.9 127.1L289.1 129.9L289.9 132.8L287.1 131.9L284.2 132.8L285.1 129.9L284.2 127.1L287.1 127.9Z"/>
<path class="n" d="M379.6 210.2L381 212.8L383.6 214.2L381 215.6L379.6 218.2L378.2 215.6L375.6 214.2L378.2 212.8Z"/>
<path class="k" d="M445.7 126.1L449.7 134.1L441.7 134.1Z"/>
<circle class="b" cx="506.4" cy="257.1" r="4"/>
<path class="y" d="M325.5 136.8L324.7 139.6L325.5 142.4L322.7 141.6L319.8 142.4L320.7 139.6L319.8 136.8L322.7 137.6Z"/>
<path class="n" d="M405.8 262.6L407.2 265.2L409.8 266.6L407.2 268L405.8 270.6L404.4 268L401.8 266.6L404.4 265.2Z"/>
<path class="o" d="M297.3 339.2L299.4 341.3L297.7 342.9L299.4 344.5L297.3 346.6L295.7 345L294 346.6L292 344.5L293.6 342.9L292 341.3L294 339.2L295.7 340.8Z"/>
<path class="k" d="M410 129.1L414 137.1L406 137.1Z"/>
<circle class="b" cx="507.9" cy="227.3" r="4"/>
<path class="o" d="M283.7 336.3L285.8 338.4L284.2 340L285.8 341.6L283.7 343.7L282.1 342.1L280.5 343.7L278.4 341.6L280 340L278.4 338.4L280.5 336.3L282.1 337.9Z"/>
<path class="k" d="M492.9 130.9L496.9 138.9L488.9 138.9Z"/>
<circle class="b" cx="444.1" cy="250.7" r="4"/>
<path class="g" d="M234.9 235.8L240.6 235.8L240.6 241.4L234.9 241.4Z"/>
<path class="p" d="M299.2 42.9L302.8 46.5L299.2 50.1L295.6 46.5Z"/>
<path class="k" d="M449 132.3L453 140.3L445 140.3Z"/>
<path class="o" d="M243.7 316.4L245.8 318.5L244.2 320.1L245.8 321.7L243.7 323.8L242.1 322.2L240.5 323.8L238.4 321.7L240 320.1L238.4 318.5L240.5 316.4L242.1 318Z"/>
<path class="y" d="M323.7 133.5L322.8 136.3L323.7 139.2L320.8 138.3L318 139.2L318.8 136.3L318 133.5L320.8 134.3Z"/>
<path class="p" d="M282.7 36L286.3 39.6L282.7 43.2L279.1 39.6Z"/>
<path class="n" d="M336.6 190.5L338 193.1L340.6 194.5L338 195.9L336.6 198.5L335.2 195.9L332.6 194.5L335.2 193.1Z"/>
<path class="g" d="M224.1 191.9L229.8 191.9L229.8 197.5L224.1 197.5Z"/>
<path class="o" d="M256.4 315.3L258.5 317.4L256.9 319L258.5 320.7L256.4 322.7L254.8 321.1L253.2 322.7L251.1 320.7L252.7 319L251.1 317.4L253.2 315.3L254.8 317Z"/>
<path class="p" d="M284.9 48.4L288.5 52L284.9 55.6L281.3 52Z"/>
<path class="n" d="M332.5 210.9L333.9 213.5L336.5 214.9L333.9 216.3L332.5 218.9L331.1 216.3L328.5 214.9L331.1 213.5Z"/>
<path class="g" d="M248 237L253.7 237L253.7 242.7L248 242.7Z"/>
<path class="r" d="M162.9 180.5L165.5 180.5L165.5 183.1L168.1 183.1L168.1 185.7L165.5 185.7L165.5 188.3L162.9 188.3L162.9 185.7L160.3 185.7L160.3 183.1L162.9 183.1Z"/>
<path class="p" d="M237.2 47.2L240.8 50.8L237.2 54.4L233.6 50.8Z"/>
<path class="g" d="M223.7 187L229.3 187L229.3 192.7L223.7 192.7Z"/>
<path class="n" d="M358.9 227.7L360.3 230.3L362.9 231.7L360.3 233.1L358.9 235.7L357.5 233.1L354.9 231.7L357.5 230.3Z"/>
<path class="n" d="M405.8 215.6L407.3 218.2L409.8 219.6L407.3 221L405.8 223.6L404.4 221L401.8 219.6L404.4 218.2Z"/>
<path class="n" d="M398.3 206.1L399.7 208.7L402.3 210.1L399.7 211.5L398.3 214.1L396.9 211.5L394.3 210.1L396.9 208.7Z"/>
<path class="g" d="M211.9 214.8L217.6 214.8L217.6 220.5L211.9 220.5Z"/>
<path class="n" d="M389.9 218L391.3 220.6L393.9 222L391.3 223.4L389.9 226L388.5 223.4L385.9 222L388.5 220.6Z"/>
<path class="r" d="M136.1 152.5L138.7 152.5L138.7 155.1L141.3 155.1L141.3 157.7L138.7 157.7L138.7 160.3L136.1 160.3L136.1 157.7L133.5 157.7L133.5 155.1L136.1 155.1Z"/>
<path class="n" d="M402 199.5L403.4 202.1L406 203.5L403.4 204.9L402 207.5L400.6 204.9L398 203.5L400.6 202.1Z"/>
<path class="y" d="M304.5 129.7L303.6 132.5L304.5 135.3L301.6 134.5L298.8 135.3L299.6 132.5L298.8 129.7L301.6 130.5Z"/>
<path class="p" d="M321.6 39.7L325.2 43.3L321.6 46.9L318 43.3Z"/>
<path class="k" d="M500.7 112.5L504.7 120.5L496.7 120.5Z"/>
<path class="n" d="M376.6 194.1L378 196.6L380.6 198.1L378 199.5L376.6 202.1L375.2 199.5L372.6 198.1L375.2 196.6Z"/>
<path class="r" d="M139.9 204.1L142.5 204.1L142.5 206.7L145.1 206.7L145.1 209.3L142.5 209.3L142.5 211.9L139.9 211.9L139.9 209.3L137.3 209.3L137.3 206.7L139.9 206.7Z"/>
<path class="n" d="M374.6 211.2L376 213.8L378.6 215.2L376 216.6L374.6 219.2L373.2 216.6L370.6 215.2L373.2 213.8Z"/>
<path class="p" d="M248.3 40.7L251.9 44.3L248.3 47.9L244.7 44.3Z"/>
<path class="g" d="M235.9 230.3L241.5 230.3L241.5 236L235.9 236Z"/>
<path class="k" d="M424.9 108.1L428.9 116.1L420.9 116.1Z"/>
<circle class="b" cx="419.3" cy="252.2" r="4"/>
<path class="o" d="M262.1 313.9L264.2 316L262.6 317.6L264.2 319.2L262.1 321.3L260.5 319.7L258.9 321.3L256.8 319.2L258.4 317.6L256.8 316L258.9 313.9L260.5 315.5Z"/>
<circle class="b" cx="491.6" cy="220.6" r="4"/>
<path class="n" d="M434.2 208L435.6 210.6L438.2 212L435.6 213.4L434.2 216L432.7 213.4L430.2 212L432.7 210.6Z"/>
<circle class="b" cx="464.6" cy="252.1" r="4"/>
<path class="o" d="M326.3 297.9L328.4 300L326.8 301.6L328.4 303.2L326.3 305.3L324.7 303.7L323.1 305.3L321 303.2L322.6 301.6L321 300L323.1 297.9L324.7 299.5Z"/>
<path class="o" d="M243.8 311.9L245.8 314L244.2 315.6L245.8 317.2L243.8 319.3L242.1 317.7L240.5 319.3L238.4 317.2L240.1 315.6L238.4 314L240.5 311.9L242.1 313.5Z"/>
<circle class="b" cx="456" cy="258.7" r="4"/>
<circle class="b" cx="402.5" cy="236" r="4"/>
<circle class="b" cx="450.7" cy="278.5" r="4"/>
<path class="r" d="M140.7 185.6L143.3 185.6L143.3 188.2L145.9 188.2L145.9 190.8L143.3 190.8L143.3 193.4L140.7 193.4L140.7 190.8L138.1 190.8L138.1 188.2L140.7 188.2Z"/>
<path class="p" d="M292.2 24.4L295.8 28L292.2 31.6L288.6 28Z"/>
<path class="k" d="M475.4 149.2L479.4 157.2L471.4 157.2Z"/>
<path class="g" d="M145 187L150.7 187L150.7 192.6L145 192.6Z"/>
<circle class="b" cx="414.4" cy="239.9" r="4"/>
<path class="g" d="M209.4 217.8L215.1 217.8L215.1 223.4L209.4 223.4Z"/>
<path class="k" d="M442.6 135.5L446.6 143.5L438.6 143.5Z"/>
<path class="k" d="M434.3 118.8L438.3 126.8L430.3 126.8Z"/>
<path class="p" d="M290.5 31.6L294.1 35.2L290.5 38.8L286.9 35.2Z"/>
<path class="o" d="M285.2 287.8L287.3 289.9L285.7 291.5L287.3 293.1L285.2 295.2L283.6 293.6L282 295.2L279.9 293.1L281.5 291.5L279.9 289.9L282 287.8L283.6 289.4Z"/>
<path class="y" d="M353.8 125.5L353 128.3L353.8 131.1L351 130.3L348.2 131.1L349 128.3L348.2 125.5L351 126.3Z"/>
<path class="k" d="M447.4 117.6L451.4 125.6L443.4 125.6Z"/>
<path class="n" d="M420.5 219.6L421.9 222.2L424.5 223.6L421.9 225L420.5 227.6L419.1 225L416.5 223.6L419.1 222.2Z"/>
<path class="p" d="M249.1 36.4L252.7 40L249.1 43.6L245.5 40Z"/>
<circle class="b" cx="443.9" cy="281.9" r="4"/>
<path class="r" d="M134.2 175L136.8 175L136.8 177.6L139.4 177.6L139.4 180.2L136.8 180.2L136.8 182.8L134.2 182.8L134.2 180.2L131.6 180.2L131.6 177.6L134.2 177.6Z"/>
<path class="g" d="M228.8 204.6L234.5 204.6L234.5 210.2L228.8 210.2Z"/>
<path class="k" d="M448.6 113.2L452.6 121.2L444.6 121.2Z"/>
<path class="y" d="M300.2 115.7L299.3 118.5L300.2 121.4L297.3 120.5L294.5 121.4L295.3 118.5L294.5 115.7L297.3 116.5Z"/>
<path class="r" d="M147.6 194.2L150.2 194.2L150.2 196.8L152.8 196.8L152.8 199.4L150.2 199.4L150.2 202L147.6 202L147.6 199.4L145 199.4L145 196.8L147.6 196.8Z"/>
<path class="g" d="M217.1 216.1L222.8 216.1L222.8 221.8L217.1 221.8Z"/>
<path class="p" d="M243.1 42.6L246.7 46.2L243.1 49.8L239.5 46.2Z"/>
<path class="k" d="M435.2 109.7L439.2 117.7L431.2 117.7Z"/>
<circle class="b" cx="456.8" cy="268.5" r="4"/>
<path class="g" d="M191.4 217.3L197 217.3L197 222.9L191.4 222.9Z"/>
<path class="p" d="M357.9 40.3L361.5 43.9L357.9 47.5L354.3 43.9Z"/>
<path class="n" d="M330.9 195.1L332.3 197.7L334.9 199.1L332.3 200.5L330.9 203.1L329.5 200.5L326.9 199.1L329.5 197.7Z"/>
<path class="o" d="M289.5 307.3L291.6 309.3L290 311L291.6 312.6L289.5 314.7L287.9 313L286.3 314.7L284.2 312.6L285.8 311L284.2 309.3L286.3 307.3L287.9 308.9Z"/>
<path class="o" d="M278 309.2L280.1 311.3L278.5 312.9L280.1 314.5L278 316.6L276.4 315L274.8 316.6L272.7 314.5L274.3 312.9L272.7 311.3L274.8 309.2L276.4 310.8Z"/>
<path class="r" d="M144.6 170.7L147.2 170.7L147.2 173.3L149.8 173.3L149.8 175.9L147.2 175.9L147.2 178.5L144.6 178.5L144.6 175.9L142 175.9L142 173.3L144.6 173.3Z"/>
<path class="g" d="M160.3 174.2L165.9 174.2L165.9 179.9L160.3 179.9Z"/>
<path class="n" d="M407.3 251L408.7 253.6L411.3 255L408.7 256.4L407.3 259L405.9 256.4L403.3 255L405.9 253.6Z"/>
<path class="g" d="M254.4 231L260 231L260 236.6L254.4 236.6Z"/>
<path class="k" d="M410.1 107L414.1 115L406.1 115Z"/>
<circle class="b" cx="477" cy="241" r="4"/>
<path class="n" d="M364.4 203.9L365.8 206.5L368.4 207.9L365.8 209.3L364.4 211.9L363 209.3L360.4 207.9L363 206.5Z"/>
<path class="r" d="M109.4 200.1L112 200.1L112 202.7L114.6 202.7L114.6 205.3L112 205.3L112 207.9L109.4 207.9L109.4 205.3L106.8 205.3L106.8 202.7L109.4 202.7Z"/>
<path class="k" d="M480.8 119.2L484.8 127.2L476.8 127.2Z"/>
<path class="o" d="M253.2 299.2L255.3 301.3L253.6 302.9L255.3 304.5L253.2 306.6L251.6 305L249.9 306.6L247.9 304.5L249.5 302.9L247.9 301.3L249.9 299.2L251.6 300.8Z"/>
<path class="r" d="M120.4 192.1L123 192.1L123 194.7L125.6 194.7L125.6 197.3L123 197.3L123 199.9L120.4 199.9L120.4 197.3L117.8 197.3L117.8 194.7L120.4 194.7Z"/>
<path class="r" d="M182.8 173.3L185.4 173.3L185.4 175.9L188 175.9L188 178.5L185.4 178.5L185.4 181.1L182.8 181.1L182.8 178.5L180.2 178.5L180.2 175.9L182.8 175.9Z"/>
<path class="r" d="M189.4 173.9L192 173.9L192 176.5L194.6 176.5L194.6 179.1L192 179.1L192 181.7L189.4 181.7L189.4 179.1L186.8 179.1L186.8 176.5L189.4 176.5Z"/>
<path class="r" d="M198.8 167.4L201.4 167.4L201.4 170L204 170L204 172.6L201.4 172.6L201.4 175.2L198.8 175.2L198.8 172.6L196.2 172.6L196.2 170L198.8 170Z"/>
<path class="r" d="M206 171.5L208.6 171.5L208.6 174.1L211.2 174.1L211.2 176.7L208.6 176.7L208.6 179.3L206 179.3L206 176.7L203.4 176.7L203.4 174.1L206 174.1Z"/>
<path class="r" d="M207.7 178L210.3 178L210.3 180.6L212.9 180.6L212.9 183.2L210.3 183.2L210.3 185.8L207.7 185.8L207.7 183.2L205.1 183.2L205.1 180.6L207.7 180.6Z"/>
<path class="r" d="M195.9 182.8L198.5 182.8L198.5 185.4L201.1 185.4L201.1 188L198.5 188L198.5 190.6L195.9 190.6L195.9 188L193.3 188L193.3 185.4L195.9 185.4Z"/>
<path class="r" d="M192.9 185.7L195.5 185.7L195.5 188.3L198.1 188.3L198.1 190.9L195.5 190.9L195.5 193.5L192.9 193.5L192.9 190.9L190.3 190.9L190.3 188.3L192.9 188.3Z"/>
<path class="r" d="M186.4 191.6L189 191.6L189 194.2L191.6 194.2L191.6 196.8L189 196.8L189 199.4L186.4 199.4L186.4 196.8L183.8 196.8L183.8 194.2L186.4 194.2Z"/>
<path class="r" d="M192.9 195.2L195.5 195.2L195.5 197.8L198.1 197.8L198.1 200.4L195.5 200.4L195.5 203L192.9 203L192.9 200.4L190.3 200.4L190.3 197.8L192.9 197.8Z"/>
<path class="r" d="M200.6 197L203.2 197L203.2 199.6L205.8 199.6L205.8 202.2L203.2 202.2L203.2 204.8L200.6 204.8L200.6 202.2L198 202.2L198 199.6L200.6 199.6Z"/>
<path class="r" d="M189.4 202.3L192 202.3L192 204.9L194.6 204.9L194.6 207.5L192 207.5L192 210.1L189.4 210.1L189.4 207.5L186.8 207.5L186.8 204.9L189.4 204.9Z"/>
<path class="r" d="M221.4 187.5L224 187.5L224 190.1L226.6 190.1L226.6 192.7L224 192.7L224 195.3L221.4 195.3L221.4 192.7L218.8 192.7L218.8 190.1L221.4 190.1Z"/>
<path class="r" d="M225.5 191.6L228.1 191.6L228.1 194.2L230.7 194.2L230.7 196.8L228.1 196.8L228.1 199.4L225.5 199.4L225.5 196.8L222.9 196.8L222.9 194.2L225.5 194.2Z"/>
<path class="r" d="M196.5 169.1L199.1 169.1L199.1 171.7L201.7 171.7L201.7 174.3L199.1 174.3L199.1 176.9L196.5 176.9L196.5 174.3L193.9 174.3L193.9 171.7L196.5 171.7Z"/>
<path class="r" d="M186.6 188.1L189.2 188.1L189.2 190.7L191.8 190.7L191.8 193.3L189.2 193.3L189.2 195.9L186.6 195.9L186.6 193.3L184 193.3L184 190.7L186.6 190.7Z"/>
<path class="r" d="M200.6 197.9L203.2 197.9L203.2 200.5L205.8 200.5L205.8 203.1L203.2 203.1L203.2 205.7L200.6 205.7L200.6 203.1L198 203.1L198 200.5L200.6 200.5Z"/>
<path class="r" d="M185.8 210.9L188.4 210.9L188.4 213.5L191 213.5L191 216.1L188.4 216.1L188.4 218.7L185.8 218.7L185.8 216.1L183.2 216.1L183.2 213.5L185.8 213.5Z"/>
<path class="r" d="M183.4 219.2L186 219.2L186 221.8L188.6 221.8L188.6 224.4L186 224.4L186 227L183.4 227L183.4 224.4L180.8 224.4L180.8 221.8L183.4 221.8Z"/>
<path class="r" d="M203 209.7L205.6 209.7L205.6 212.3L208.2 212.3L208.2 214.9L205.6 214.9L205.6 217.5L203 217.5L203 214.9L200.4 214.9L200.4 212.3L203 212.3Z"/>
<path class="r" d="M224.3 215.1L226.9 215.1L226.9 217.7L229.5 217.7L229.5 220.3L226.9 220.3L226.9 222.9L224.3 222.9L224.3 220.3L221.7 220.3L221.7 217.7L224.3 217.7Z"/>
<path class="r" d="M200.6 229.9L203.2 229.9L203.2 232.5L205.8 232.5L205.8 235.1L203.2 235.1L203.2 237.7L200.6 237.7L200.6 235.1L198 235.1L198 232.5L200.6 232.5Z"/>
<path class="r" d="M195.3 221L197.9 221L197.9 223.6L200.5 223.6L200.5 226.2L197.9 226.2L197.9 228.8L195.3 228.8L195.3 226.2L192.7 226.2L192.7 223.6L195.3 223.6Z"/>
<path class="r" d="M219 190.3L221.6 190.3L221.6 192.9L224.2 192.9L224.2 195.5L221.6 195.5L221.6 198.1L219 198.1L219 195.5L216.4 195.5L216.4 192.9L219 192.9Z"/>
<path class="r" d="M233.1 195.3L235.7 195.3L235.7 197.9L238.3 197.9L238.3 200.5L235.7 200.5L235.7 203.1L233.1 203.1L233.1 200.5L230.5 200.5L230.5 197.9L233.1 197.9Z"/>
<path class="r" d="M210 178.1L212.6 178.1L212.6 180.7L215.2 180.7L215.2 183.3L212.6 183.3L212.6 185.9L210 185.9L210 183.3L207.4 183.3L207.4 180.7L210 180.7Z"/>
<path class="r" d="M205.3 170.4L207.9 170.4L207.9 173L210.5 173L210.5 175.6L207.9 175.6L207.9 178.2L205.3 178.2L205.3 175.6L202.7 175.6L202.7 173L205.3 173Z"/>
</g>
<rect x="63.5" y="9.5" width="477.5" height="355.0" fill="none" stroke="#222" stroke-width="1.3"/>
<path d="M111.0 364.5v4.8M63.5 335.8h-4.8M212.5 364.5v4.8M63.5 261.3h-4.8M314.0 364.5v4.8M63.5 186.8h-4.8M415.5 364.5v4.8M63.5 112.2h-4.8M517.0 364.5v4.8M63.5 37.7h-4.8" stroke="#222" stroke-width="1.1" fill="none"/>
<text x="111.0" y="385.5" font-size="16.5" text-anchor="middle">−40</text>
<text x="55.3" y="341.6" font-size="16.5" text-anchor="end">−40</text>
<text x="212.5" y="385.5" font-size="16.5" text-anchor="middle">−20</text>
<text x="55.3" y="267.1" font-size="16.5" text-anchor="end">−20</text>
<text x="314.0" y="385.5" font-size="16.5" text-anchor="middle">0</text>
<text x="55.3" y="192.6" font-size="16.5" text-anchor="end">0</text>
<text x="415.5" y="385.5" font-size="16.5" text-anchor="middle">20</text>
<text x="55.3" y="118.0" font-size="16.5" text-anchor="end">20</text>
<text x="517.0" y="385.5" font-size="16.5" text-anchor="middle">40</text>
<text x="55.3" y="43.5" font-size="16.5" text-anchor="end">40</text>
<text x="302.2" y="411.5" font-size="16" text-anchor="middle">Featrue dimension 1</text>
<text transform="translate(20 187.6) rotate(-90)" x="0" y="0" font-size="16" text-anchor="middle">Featrue dimension 2</text>
<rect x="70.5" y="200.3" width="111.3" height="157.7" rx="2.8" fill="#fff" fill-opacity="0.8" stroke="#d0d0d0" stroke-width="1"/>
<path transform="translate(89 211.0)" d="M1.48 -3.40L3.40 -1.48L1.92 -0.00L3.40 1.48L1.48 3.40L0.00 1.92L-1.48 3.40L-3.40 1.48L-1.92 0.00L-3.40 -1.48L-1.48 -3.40L-0.00 -1.92Z" fill="#EF7D42" stroke="#fff" stroke-width="0.7"/>
<text x="113" y="215.0" font-size="13.5">Condition 0</text>
<path transform="translate(89 230.3)" d="M-4.90 0A4.90 4.90 0 1 0 4.90 0A4.90 4.90 0 1 0 -4.90 0Z" fill="#4878D0" stroke="#fff" stroke-width="0.7"/>
<text x="113" y="234.3" font-size="13.5">Condition 1</text>
<path transform="translate(89 249.6)" d="M2.22 -5.10L5.10 -2.22L2.88 -0.00L5.10 2.22L2.22 5.10L0.00 2.88L-2.22 5.10L-5.10 2.22L-2.88 0.00L-5.10 -2.22L-2.22 -5.10L-0.00 -2.88Z" fill="#EF7D42" stroke="#fff" stroke-width="0.7"/>
<text x="113" y="253.6" font-size="13.5">Condition 2</text>
<path transform="translate(89 268.9)" d="M-3.32 -3.32L3.32 -3.32L3.32 3.32L-3.32 3.32Z" fill="#6ACC64" stroke="#fff" stroke-width="0.7"/>
<text x="113" y="272.9" font-size="13.5">Condition 3</text>
<path transform="translate(89 288.2)" d="M-1.67 -5.00L1.67 -5.00L1.67 -1.67L5.00 -1.67L5.00 1.67L1.67 1.67L1.67 5.00L-1.67 5.00L-1.67 1.67L-5.00 1.67L-5.00 -1.67L-1.67 -1.67Z" fill="#D65F5F" stroke="#fff" stroke-width="0.7"/>
<text x="113" y="292.2" font-size="13.5">Condition 4</text>
<path transform="translate(89 307.5)" d="M0.00 -5.00L5.00 0.00L0.00 5.00L-5.00 0.00Z" fill="#956CB4" stroke="#fff" stroke-width="0.7"/>
<text x="113" y="311.5" font-size="13.5">Condition 5</text>
<path transform="translate(89 326.8)" d="M0.00 -5.10L1.80 -1.80L5.10 0.00L1.80 1.80L0.00 5.10L-1.80 1.80L-5.10 0.00L-1.80 -1.80Z" fill="#8C613C" stroke="#fff" stroke-width="0.7"/>
<text x="113" y="330.8" font-size="13.5">Condition 6</text>
<path transform="translate(89 346.1)" d="M0.00 -5.00L5.00 5.00L-5.00 5.00Z" fill="#DC7EC0" stroke="#fff" stroke-width="0.7"/>
<text x="113" y="350.1" font-size="13.5">Condition 7</text>
</svg></body></html>
